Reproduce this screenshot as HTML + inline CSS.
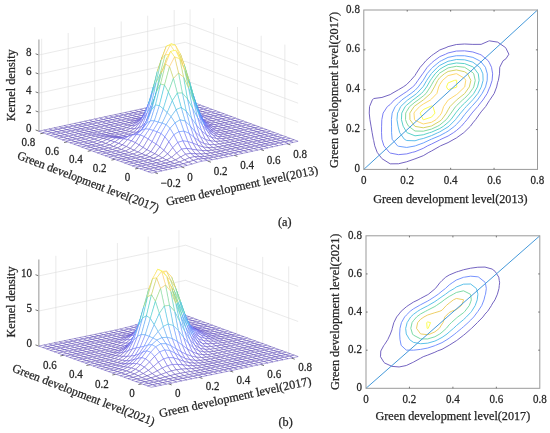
<!DOCTYPE html>
<html><head><meta charset="utf-8"><style>html,body{margin:0;padding:0;background:#fff;overflow:hidden}svg{display:block}</style></head><body>
<svg width="550" height="433" viewBox="0 0 550 433">
<rect width="550" height="433" fill="#fff"/>
<path d="M41.68 130.60L41.68 38.77 M154.58 172.50L41.68 130.60 M68.19 124.83L68.19 33.01 M181.09 166.73L68.19 124.83 M94.69 119.07L94.69 27.25 M207.59 160.97L94.69 119.07 M121.19 113.31L121.19 21.49 M234.09 155.21L121.19 113.31 M147.70 107.55L147.70 15.73 M260.60 149.45L147.70 107.55 M174.20 101.79L174.20 9.97 M287.10 143.69L174.20 101.79 M284.88 136.40L284.88 44.57 M138.58 168.20L284.88 136.40 M261.18 127.60L261.18 35.78 M114.88 159.40L261.18 127.60 M237.47 118.80L237.47 26.98 M91.17 150.60L237.47 118.80 M213.77 110.00L213.77 18.18 M67.47 141.80L213.77 110.00 M190.06 101.20L190.06 9.38 M43.76 133.00L190.06 101.20 M38.90 131.20L185.20 99.40 M185.20 99.40L298.10 141.30 M38.90 112.15L185.20 80.35 M185.20 80.35L298.10 122.25 M38.90 93.10L185.20 61.30 M185.20 61.30L298.10 103.20 M38.90 74.05L185.20 42.25 M185.20 42.25L298.10 84.15 M38.90 55.00L185.20 23.20 M185.20 23.20L298.10 65.10" stroke="#dcdcdc" stroke-width="0.6" fill="none"/>
<path d="M38.90 131.20L35.62 129.98 M38.90 112.15L35.62 110.93 M38.90 93.10L35.62 91.88 M38.90 74.05L35.62 72.83 M38.90 55.00L35.62 53.78 M154.58 172.50L157.86 173.71 M181.09 166.73L184.37 167.95 M207.59 160.97L210.87 162.19 M234.09 155.21L237.38 156.43 M260.60 149.45L263.88 150.67 M287.10 143.69L290.38 144.91 M138.58 168.20L135.16 168.94 M114.88 159.40L111.46 160.14 M91.17 150.60L87.75 151.34 M67.47 141.80L64.05 142.54 M43.76 133.00L40.34 133.75" stroke="#505050" stroke-width="0.8" fill="none"/>
<path d="M38.90 131.20L38.90 39.38" stroke="#b4b4b4" stroke-width="1.4" fill="none"/>
<g fill="#fff" stroke-width="0.45" stroke-linejoin="round"><path d="M184.0 101.9L189.1 100.8L185.2 99.4L180.2 100.5Z" stroke="#513cb1"/><path d="M179.0 103.0L184.0 101.9L180.2 100.5L175.1 101.6Z" stroke="#513cb1"/><path d="M187.9 103.4L193.0 102.3L189.1 100.8L184.0 101.9Z" stroke="#513cb1"/><path d="M174.0 104.1L179.0 103.0L175.1 101.6L170.1 102.7Z" stroke="#513cb1"/><path d="M182.9 104.5L187.9 103.4L184.0 101.9L179.0 103.0Z" stroke="#513cb1"/><path d="M191.8 104.8L196.9 103.7L193.0 102.3L187.9 103.4Z" stroke="#513cb1"/><path d="M168.9 105.2L174.0 104.1L170.1 102.7L165.0 103.8Z" stroke="#513cb1"/><path d="M177.9 105.6L182.9 104.5L179.0 103.0L174.0 104.1Z" stroke="#513cb1"/><path d="M186.8 105.9L191.8 104.8L187.9 103.4L182.9 104.5Z" stroke="#513cb1"/><path d="M195.7 106.3L200.8 105.2L196.9 103.7L191.8 104.8Z" stroke="#513cb1"/><path d="M163.9 106.3L168.9 105.2L165.0 103.8L160.0 104.9Z" stroke="#513cb1"/><path d="M172.8 106.7L177.9 105.6L174.0 104.1L168.9 105.2Z" stroke="#513cb1"/><path d="M181.7 107.0L186.8 105.9L182.9 104.5L177.9 105.6Z" stroke="#513cb1"/><path d="M190.7 107.4L195.7 106.3L191.8 104.8L186.8 105.9Z" stroke="#513cb1"/><path d="M158.8 107.4L163.9 106.3L160.0 104.9L154.9 106.0Z" stroke="#513cb1"/><path d="M199.6 107.7L204.7 106.6L200.8 105.2L195.7 106.3Z" stroke="#513cb1"/><path d="M167.8 107.8L172.8 106.7L168.9 105.2L163.9 106.3Z" stroke="#513cb1"/><path d="M176.7 108.1L181.7 107.0L177.9 105.6L172.8 106.7Z" stroke="#513cb1"/><path d="M185.6 108.5L190.7 107.4L186.8 105.9L181.7 107.0Z" stroke="#513cb1"/><path d="M153.8 108.5L158.8 107.4L154.9 106.0L149.9 107.1Z" stroke="#513cb1"/><path d="M194.6 108.8L199.6 107.7L195.7 106.3L190.7 107.4Z" stroke="#513cb1"/><path d="M162.7 108.8L167.8 107.8L163.9 106.3L158.8 107.4Z" stroke="#513cb1"/><path d="M203.5 109.2L208.6 108.1L204.7 106.6L199.6 107.7Z" stroke="#513cb1"/><path d="M171.7 109.2L176.7 108.1L172.8 106.7L167.8 107.8Z" stroke="#513cb1"/><path d="M180.6 109.5L185.6 108.5L181.7 107.0L176.7 108.1Z" stroke="#513cb1"/><path d="M148.7 109.6L153.8 108.5L149.9 107.1L144.8 108.2Z" stroke="#513cb1"/><path d="M189.5 109.9L194.6 108.8L190.7 107.4L185.6 108.5Z" stroke="#513cb1"/><path d="M157.7 109.9L162.7 108.8L158.8 107.4L153.8 108.5Z" stroke="#513cb1"/><path d="M198.5 110.3L203.5 109.2L199.6 107.7L194.6 108.8Z" stroke="#513cb1"/><path d="M166.6 110.2L171.7 109.2L167.8 107.8L162.7 108.8Z" stroke="#513cb1"/><path d="M207.4 110.6L212.5 109.5L208.6 108.1L203.5 109.2Z" stroke="#513cb1"/><path d="M175.5 110.5L180.6 109.5L176.7 108.1L171.7 109.2Z" stroke="#513cb1"/><path d="M143.7 110.7L148.7 109.6L144.8 108.2L139.8 109.3Z" stroke="#513cb1"/><path d="M184.5 110.9L189.5 109.9L185.6 108.5L180.6 109.5Z" stroke="#513cb1"/><path d="M152.6 111.0L157.7 109.9L153.8 108.5L148.7 109.6Z" stroke="#513cb1"/><path d="M193.4 111.3L198.5 110.3L194.6 108.8L189.5 109.9Z" stroke="#513cb1"/><path d="M161.6 111.2L166.6 110.2L162.7 108.8L157.7 109.9Z" stroke="#513cb1"/><path d="M202.4 111.7L207.4 110.6L203.5 109.2L198.5 110.3Z" stroke="#513cb1"/><path d="M170.5 111.5L175.5 110.5L171.7 109.2L166.6 110.2Z" stroke="#513cb1"/><path d="M138.6 111.8L143.7 110.7L139.8 109.3L134.8 110.4Z" stroke="#513cb1"/><path d="M211.3 112.1L216.3 111.0L212.5 109.5L207.4 110.6Z" stroke="#513cb1"/><path d="M179.4 111.8L184.5 110.9L180.6 109.5L175.5 110.5Z" stroke="#513cb1"/><path d="M147.6 112.1L152.6 111.0L148.7 109.6L143.7 110.7Z" stroke="#513cb1"/><path d="M188.4 112.3L193.4 111.3L189.5 109.9L184.5 110.9Z" stroke="#513cb1"/><path d="M156.5 112.2L161.6 111.2L157.7 109.9L152.6 111.0Z" stroke="#513cb1"/><path d="M197.3 112.8L202.4 111.7L198.5 110.3L193.4 111.3Z" stroke="#513cb1"/><path d="M165.5 112.2L170.5 111.5L166.6 110.2L161.6 111.2Z" stroke="#513cb1"/><path d="M133.6 112.9L138.6 111.8L134.8 110.4L129.7 111.5Z" stroke="#513cb1"/><path d="M206.3 113.1L211.3 112.1L207.4 110.6L202.4 111.7Z" stroke="#513cb1"/><path d="M174.4 112.2L179.4 111.8L175.5 110.5L170.5 111.5Z" stroke="#533fbc"/><path d="M142.5 113.2L147.6 112.1L143.7 110.7L138.6 111.8Z" stroke="#513cb1"/><path d="M215.2 113.5L220.2 112.4L216.3 111.0L211.3 112.1Z" stroke="#513cb1"/><path d="M183.3 112.7L188.4 112.3L184.5 110.9L179.4 111.8Z" stroke="#533fbc"/><path d="M151.5 113.2L156.5 112.2L152.6 111.0L147.6 112.1Z" stroke="#513cb1"/><path d="M192.3 113.5L197.3 112.8L193.4 111.3L188.4 112.3Z" stroke="#513cb1"/><path d="M160.4 112.7L165.5 112.2L161.6 111.2L156.5 112.2Z" stroke="#533fbc"/><path d="M128.6 114.0L133.6 112.9L129.7 111.5L124.7 112.6Z" stroke="#513cb1"/><path d="M201.2 114.1L206.3 113.1L202.4 111.7L197.3 112.8Z" stroke="#513cb1"/><path d="M169.4 111.5L174.4 112.2L170.5 111.5L165.5 112.2Z" stroke="none"/><path d="M165.5 112.2L169.4 111.5L174.4 112.2" stroke="#5543c6" fill="none"/><path d="M174.4 112.2L170.5 111.5" stroke="#533fbc"/><path d="M165.5 112.2L170.5 111.5" stroke="#513cb1"/><path d="M137.5 114.3L142.5 113.2L138.6 111.8L133.6 112.9Z" stroke="#513cb1"/><path d="M210.1 114.6L215.2 113.5L211.3 112.1L206.3 113.1Z" stroke="#513cb1"/><path d="M178.3 110.9L183.3 112.7L179.4 111.8L174.4 112.2Z" stroke="none"/><path d="M174.4 112.2L178.3 110.9L183.3 112.7" stroke="#5647d0" fill="none"/><path d="M183.3 112.7L179.4 111.8" stroke="#533fbc"/><path d="M174.4 112.2L179.4 111.8" stroke="#533fbc"/><path d="M146.4 114.3L151.5 113.2L147.6 112.1L142.5 113.2Z" stroke="#513cb1"/><path d="M219.1 114.9L224.1 113.8L220.2 112.4L215.2 113.5Z" stroke="#513cb1"/><path d="M187.2 112.2L192.3 113.5L188.4 112.3L183.3 112.7Z" stroke="none"/><path d="M183.3 112.7L187.2 112.2L192.3 113.5" stroke="#5543c6" fill="none"/><path d="M192.3 113.5L188.4 112.3" stroke="#513cb1"/><path d="M183.3 112.7L188.4 112.3" stroke="#533fbc"/><path d="M155.4 113.6L160.4 112.7L156.5 112.2L151.5 113.2Z" stroke="#533fbc"/><path d="M123.5 115.1L128.6 114.0L124.7 112.6L119.6 113.7Z" stroke="#513cb1"/><path d="M196.2 114.3L201.2 114.1L197.3 112.8L192.3 113.5Z" stroke="#533fbc"/><path d="M164.3 111.0L169.4 111.5L165.5 112.2L160.4 112.7Z" stroke="none"/><path d="M160.4 112.7L164.3 111.0L169.4 111.5" stroke="#5647d0" fill="none"/><path d="M169.4 111.5L165.5 112.2" stroke="#5543c6"/><path d="M160.4 112.7L165.5 112.2" stroke="#533fbc"/><path d="M132.4 115.4L137.5 114.3L133.6 112.9L128.6 114.0Z" stroke="#513cb1"/><path d="M205.1 115.5L210.1 114.6L206.3 113.1L201.2 114.1Z" stroke="#513cb1"/><path d="M173.2 107.2L178.3 110.9L174.4 112.2L169.4 111.5Z" stroke="none"/><path d="M169.4 111.5L173.2 107.2L178.3 110.9" stroke="#5954e8" fill="none"/><path d="M178.3 110.9L174.4 112.2" stroke="#5647d0"/><path d="M169.4 111.5L174.4 112.2" stroke="#5543c6"/><path d="M141.4 115.5L146.4 114.3L142.5 113.2L137.5 114.3Z" stroke="#513cb1"/><path d="M214.0 116.0L219.1 114.9L215.2 113.5L210.1 114.6Z" stroke="#513cb1"/><path d="M182.2 106.8L187.2 112.2L183.3 112.7L178.3 110.9Z" stroke="none"/><path d="M178.3 110.9L182.2 106.8L187.2 112.2" stroke="#5954e8" fill="none"/><path d="M187.2 112.2L183.3 112.7" stroke="#5543c6"/><path d="M178.3 110.9L183.3 112.7" stroke="#5647d0"/><path d="M150.3 115.0L155.4 113.6L151.5 113.2L146.4 114.3Z" stroke="#533fbc"/><path d="M118.5 116.2L123.5 115.1L119.6 113.7L114.6 114.8Z" stroke="#513cb1"/><path d="M223.0 116.4L228.0 115.3L224.1 113.8L219.1 114.9Z" stroke="#513cb1"/><path d="M191.1 111.2L196.2 114.3L192.3 113.5L187.2 112.2Z" stroke="none"/><path d="M187.2 112.2L191.1 111.2L196.2 114.3" stroke="#584bd9" fill="none"/><path d="M196.2 114.3L192.3 113.5" stroke="#533fbc"/><path d="M187.2 112.2L192.3 113.5" stroke="#5543c6"/><path d="M159.3 112.5L164.3 111.0L160.4 112.7L155.4 113.6Z" stroke="none"/><path d="M155.4 113.6L159.3 112.5L164.3 111.0" stroke="#5647d0" fill="none"/><path d="M164.3 111.0L160.4 112.7" stroke="#5647d0"/><path d="M155.4 113.6L160.4 112.7" stroke="#533fbc"/><path d="M127.4 116.5L132.4 115.4L128.6 114.0L123.5 115.1Z" stroke="#513cb1"/><path d="M200.1 115.3L205.1 115.5L201.2 114.1L196.2 114.3Z" stroke="#533fbc"/><path d="M168.2 107.1L173.2 107.2L169.4 111.5L164.3 111.0Z" stroke="none"/><path d="M164.3 111.0L168.2 107.1L173.2 107.2" stroke="#5a59ed" fill="none"/><path d="M173.2 107.2L169.4 111.5" stroke="#5954e8"/><path d="M164.3 111.0L169.4 111.5" stroke="#5647d0"/><path d="M136.3 116.7L141.4 115.5L137.5 114.3L132.4 115.4Z" stroke="#513cb1"/><path d="M209.0 116.9L214.0 116.0L210.1 114.6L205.1 115.5Z" stroke="#513cb1"/><path d="M177.1 102.5L182.2 106.8L178.3 110.9L173.2 107.2Z" stroke="none"/><path d="M173.2 107.2L177.1 102.5L182.2 106.8" stroke="#5a69f9" fill="none"/><path d="M182.2 106.8L178.3 110.9" stroke="#5954e8"/><path d="M173.2 107.2L178.3 110.9" stroke="#5954e8"/><path d="M145.3 116.3L150.3 115.0L146.4 114.3L141.4 115.5Z" stroke="#533fbc"/><path d="M113.4 117.3L118.5 116.2L114.6 114.8L109.5 115.8Z" stroke="#513cb1"/><path d="M217.9 117.5L223.0 116.4L219.1 114.9L214.0 116.0Z" stroke="#513cb1"/><path d="M186.1 105.6L191.1 111.2L187.2 112.2L182.2 106.8Z" stroke="none"/><path d="M182.2 106.8L186.1 105.6L191.1 111.2" stroke="#5a5ef2" fill="none"/><path d="M191.1 111.2L187.2 112.2" stroke="#584bd9"/><path d="M182.2 106.8L187.2 112.2" stroke="#5954e8"/><path d="M154.2 114.6L159.3 112.5L155.4 113.6L150.3 115.0Z" stroke="none"/><path d="M150.3 115.0L154.2 114.6L159.3 112.5" stroke="#5543c6" fill="none"/><path d="M159.3 112.5L155.4 113.6" stroke="#5647d0"/><path d="M150.3 115.0L155.4 113.6" stroke="#533fbc"/><path d="M122.4 117.6L127.4 116.5L123.5 115.1L118.5 116.2Z" stroke="#513cb1"/><path d="M226.9 117.8L231.9 116.7L228.0 115.3L223.0 116.4Z" stroke="#513cb1"/><path d="M195.0 112.9L200.1 115.3L196.2 114.3L191.1 111.2Z" stroke="none"/><path d="M191.1 111.2L195.0 112.9L200.1 115.3" stroke="#5647d0" fill="none"/><path d="M200.1 115.3L196.2 114.3" stroke="#533fbc"/><path d="M191.1 111.2L196.2 114.3" stroke="#584bd9"/><path d="M163.2 110.5L168.2 107.1L164.3 111.0L159.3 112.5Z" stroke="none"/><path d="M159.3 112.5L163.2 110.5L168.2 107.1" stroke="#594fe1" fill="none"/><path d="M168.2 107.1L164.3 111.0" stroke="#5a59ed"/><path d="M159.3 112.5L164.3 111.0" stroke="#5647d0"/><path d="M131.3 117.8L136.3 116.7L132.4 115.4L127.4 116.5Z" stroke="#513cb1"/><path d="M204.0 117.2L209.0 116.9L205.1 115.5L200.1 115.3Z" stroke="#533fbc"/><path d="M172.1 105.1L177.1 102.5L173.2 107.2L168.2 107.1Z" stroke="none"/><path d="M168.2 107.1L172.1 105.1L177.1 102.5" stroke="#5a64f5" fill="none"/><path d="M177.1 102.5L173.2 107.2" stroke="#5a69f9"/><path d="M168.2 107.1L173.2 107.2" stroke="#5a59ed"/><path d="M140.2 117.6L145.3 116.3L141.4 115.5L136.3 116.7Z" stroke="#533fbc"/><path d="M108.4 118.4L113.4 117.3L109.5 115.8L104.5 116.9Z" stroke="#513cb1"/><path d="M212.9 118.5L217.9 117.5L214.0 116.0L209.0 116.9Z" stroke="#513cb1"/><path d="M181.0 104.4L186.1 105.6L182.2 106.8L177.1 102.5Z" stroke="#5a69f9"/><path d="M149.2 116.0L154.2 114.6L150.3 115.0L145.3 116.3Z" stroke="#5543c6"/><path d="M117.3 118.7L122.4 117.6L118.5 116.2L113.4 117.3Z" stroke="#513cb1"/><path d="M221.8 118.9L226.9 117.8L223.0 116.4L217.9 117.5Z" stroke="#513cb1"/><path d="M190.0 110.4L195.0 112.9L191.1 111.2L186.1 105.6Z" stroke="none"/><path d="M186.1 105.6L190.0 110.4L195.0 112.9" stroke="#5954e8" fill="none"/><path d="M195.0 112.9L191.1 111.2" stroke="#5647d0"/><path d="M186.1 105.6L191.1 111.2" stroke="#5a5ef2"/><path d="M158.1 112.6L163.2 110.5L159.3 112.5L154.2 114.6Z" stroke="none"/><path d="M154.2 114.6L158.1 112.6L163.2 110.5" stroke="#584bd9" fill="none"/><path d="M163.2 110.5L159.3 112.5" stroke="#594fe1"/><path d="M154.2 114.6L159.3 112.5" stroke="#5543c6"/><path d="M126.3 119.0L131.3 117.8L127.4 116.5L122.4 117.6Z" stroke="#513cb1"/><path d="M230.8 119.3L235.8 118.2L231.9 116.7L226.9 117.8Z" stroke="#513cb1"/><path d="M198.9 116.6L204.0 117.2L200.1 115.3L195.0 112.9Z" stroke="none"/><path d="M195.0 112.9L198.9 116.6L204.0 117.2" stroke="#5543c6" fill="none"/><path d="M204.0 117.2L200.1 115.3" stroke="#533fbc"/><path d="M195.0 112.9L200.1 115.3" stroke="#5647d0"/><path d="M167.0 107.8L172.1 105.1L168.2 107.1L163.2 110.5Z" stroke="none"/><path d="M163.2 110.5L167.0 107.8L172.1 105.1" stroke="#5a5ef2" fill="none"/><path d="M172.1 105.1L168.2 107.1" stroke="#5a64f5"/><path d="M163.2 110.5L168.2 107.1" stroke="#594fe1"/><path d="M135.2 118.9L140.2 117.6L136.3 116.7L131.3 117.8Z" stroke="#513cb1"/><path d="M103.3 119.5L108.4 118.4L104.5 116.9L99.4 118.0Z" stroke="#513cb1"/><path d="M207.8 119.2L212.9 118.5L209.0 116.9L204.0 117.2Z" stroke="#513cb1"/><path d="M176.0 105.1L181.0 104.4L177.1 102.5L172.1 105.1Z" stroke="#5a69f9"/><path d="M144.1 117.5L149.2 116.0L145.3 116.3L140.2 117.6Z" stroke="#5543c6"/><path d="M112.3 119.8L117.3 118.7L113.4 117.3L108.4 118.4Z" stroke="#513cb1"/><path d="M216.8 120.0L221.8 118.9L217.9 117.5L212.9 118.5Z" stroke="#513cb1"/><path d="M184.9 108.7L190.0 110.4L186.1 105.6L181.0 104.4Z" stroke="none"/><path d="M181.0 104.4L184.9 108.7L190.0 110.4" stroke="#5a5ef2" fill="none"/><path d="M190.0 110.4L186.1 105.6" stroke="#5954e8"/><path d="M181.0 104.4L186.1 105.6" stroke="#5a69f9"/><path d="M153.1 113.7L158.1 112.6L154.2 114.6L149.2 116.0Z" stroke="none"/><path d="M149.2 116.0L153.1 113.7L158.1 112.6" stroke="#584bd9" fill="none"/><path d="M158.1 112.6L154.2 114.6" stroke="#584bd9"/><path d="M149.2 116.0L154.2 114.6" stroke="#5543c6"/><path d="M121.2 120.2L126.3 119.0L122.4 117.6L117.3 118.7Z" stroke="#513cb1"/><path d="M225.7 120.4L230.8 119.3L226.9 117.8L221.8 118.9Z" stroke="#513cb1"/><path d="M193.9 115.2L198.9 116.6L195.0 112.9L190.0 110.4Z" stroke="none"/><path d="M190.0 110.4L193.9 115.2L198.9 116.6" stroke="#584bd9" fill="none"/><path d="M198.9 116.6L195.0 112.9" stroke="#5543c6"/><path d="M190.0 110.4L195.0 112.9" stroke="#5954e8"/><path d="M162.0 107.9L167.0 107.8L163.2 110.5L158.1 112.6Z" stroke="none"/><path d="M158.1 112.6L162.0 107.9L167.0 107.8" stroke="#5a64f5" fill="none"/><path d="M167.0 107.8L163.2 110.5" stroke="#5a5ef2"/><path d="M158.1 112.6L163.2 110.5" stroke="#584bd9"/><path d="M130.1 120.2L135.2 118.9L131.3 117.8L126.3 119.0Z" stroke="#513cb1"/><path d="M234.7 120.7L239.7 119.6L235.8 118.2L230.8 119.3Z" stroke="#513cb1"/><path d="M98.3 120.6L103.3 119.5L99.4 118.0L94.4 119.1Z" stroke="#513cb1"/><path d="M202.8 119.4L207.8 119.2L204.0 117.2L198.9 116.6Z" stroke="none"/><path d="M198.9 116.6L202.8 119.4L207.8 119.2" stroke="#533fbc" fill="none"/><path d="M207.8 119.2L204.0 117.2" stroke="#513cb1"/><path d="M198.9 116.6L204.0 117.2" stroke="#5543c6"/><path d="M170.9 102.7L176.0 105.1L172.1 105.1L167.0 107.8Z" stroke="none"/><path d="M167.0 107.8L170.9 102.7L176.0 105.1" stroke="#5773fd" fill="none"/><path d="M176.0 105.1L172.1 105.1" stroke="#5a69f9"/><path d="M167.0 107.8L172.1 105.1" stroke="#5a5ef2"/><path d="M139.1 119.2L144.1 117.5L140.2 117.6L135.2 118.9Z" stroke="none"/><path d="M135.2 118.9L139.1 119.2L144.1 117.5" stroke="#533fbc" fill="none"/><path d="M144.1 117.5L140.2 117.6" stroke="#5543c6"/><path d="M135.2 118.9L140.2 117.6" stroke="#513cb1"/><path d="M107.2 120.9L112.3 119.8L108.4 118.4L103.3 119.5Z" stroke="#513cb1"/><path d="M211.7 120.9L216.8 120.0L212.9 118.5L207.8 119.2Z" stroke="#513cb1"/><path d="M179.9 103.4L184.9 108.7L181.0 104.4L176.0 105.1Z" stroke="none"/><path d="M176.0 105.1L179.9 103.4L184.9 108.7" stroke="#5773fd" fill="none"/><path d="M184.9 108.7L181.0 104.4" stroke="#5a5ef2"/><path d="M176.0 105.1L181.0 104.4" stroke="#5a69f9"/><path d="M148.0 115.4L153.1 113.7L149.2 116.0L144.1 117.5Z" stroke="none"/><path d="M144.1 117.5L148.0 115.4L153.1 113.7" stroke="#584bd9" fill="none"/><path d="M153.1 113.7L149.2 116.0" stroke="#584bd9"/><path d="M144.1 117.5L149.2 116.0" stroke="#5543c6"/><path d="M116.2 121.3L121.2 120.2L117.3 118.7L112.3 119.8Z" stroke="#513cb1"/><path d="M220.7 121.5L225.7 120.4L221.8 118.9L216.8 120.0Z" stroke="#513cb1"/><path d="M188.8 110.6L193.9 115.2L190.0 110.4L184.9 108.7Z" stroke="none"/><path d="M184.9 108.7L188.8 110.6L193.9 115.2" stroke="#5a5ef2" fill="none"/><path d="M193.9 115.2L190.0 110.4" stroke="#584bd9"/><path d="M184.9 108.7L190.0 110.4" stroke="#5a5ef2"/><path d="M157.0 108.1L162.0 107.9L158.1 112.6L153.1 113.7Z" stroke="none"/><path d="M153.1 113.7L157.0 108.1L162.0 107.9" stroke="#5a64f5" fill="none"/><path d="M162.0 107.9L158.1 112.6" stroke="#5a64f5"/><path d="M153.1 113.7L158.1 112.6" stroke="#584bd9"/><path d="M125.1 121.5L130.1 120.2L126.3 119.0L121.2 120.2Z" stroke="#513cb1"/><path d="M229.6 121.8L234.7 120.7L230.8 119.3L225.7 120.4Z" stroke="#513cb1"/><path d="M93.2 121.7L98.3 120.6L94.4 119.1L89.3 120.2Z" stroke="#513cb1"/><path d="M197.8 117.8L202.8 119.4L198.9 116.6L193.9 115.2Z" stroke="none"/><path d="M193.9 115.2L197.8 117.8L202.8 119.4" stroke="#5647d0" fill="none"/><path d="M202.8 119.4L198.9 116.6" stroke="#533fbc"/><path d="M193.9 115.2L198.9 116.6" stroke="#584bd9"/><path d="M165.9 99.6L170.9 102.7L167.0 107.8L162.0 107.9Z" stroke="none"/><path d="M162.0 107.9L165.9 99.6L170.9 102.7" stroke="#4c83fe" fill="none"/><path d="M170.9 102.7L167.0 107.8" stroke="#5773fd"/><path d="M162.0 107.9L167.0 107.8" stroke="#5a64f5"/><path d="M134.0 121.0L139.1 119.2L135.2 118.9L130.1 120.2Z" stroke="#533fbc"/><path d="M238.6 122.2L243.6 121.1L239.7 119.6L234.7 120.7Z" stroke="#513cb1"/><path d="M102.2 122.0L107.2 120.9L103.3 119.5L98.3 120.6Z" stroke="#513cb1"/><path d="M206.7 121.3L211.7 120.9L207.8 119.2L202.8 119.4Z" stroke="#533fbc"/><path d="M174.8 95.3L179.9 103.4L176.0 105.1L170.9 102.7Z" stroke="none"/><path d="M170.9 102.7L174.8 95.3L179.9 103.4" stroke="#4293f8" fill="none"/><path d="M179.9 103.4L176.0 105.1" stroke="#5773fd"/><path d="M170.9 102.7L176.0 105.1" stroke="#5773fd"/><path d="M143.0 117.8L148.0 115.4L144.1 117.5L139.1 119.2Z" stroke="none"/><path d="M139.1 119.2L143.0 117.8L148.0 115.4" stroke="#5647d0" fill="none"/><path d="M148.0 115.4L144.1 117.5" stroke="#584bd9"/><path d="M139.1 119.2L144.1 117.5" stroke="#533fbc"/><path d="M111.1 122.4L116.2 121.3L112.3 119.8L107.2 120.9Z" stroke="#513cb1"/><path d="M215.6 122.5L220.7 121.5L216.8 120.0L211.7 120.9Z" stroke="#513cb1"/><path d="M183.8 100.8L188.8 110.6L184.9 108.7L179.9 103.4Z" stroke="none"/><path d="M179.9 103.4L183.8 100.8L188.8 110.6" stroke="#4c83fe" fill="none"/><path d="M188.8 110.6L184.9 108.7" stroke="#5a5ef2"/><path d="M179.9 103.4L184.9 108.7" stroke="#5773fd"/><path d="M151.9 109.8L157.0 108.1L153.1 113.7L148.0 115.4Z" stroke="none"/><path d="M148.0 115.4L151.9 109.8L157.0 108.1" stroke="#5a64f5" fill="none"/><path d="M157.0 108.1L153.1 113.7" stroke="#5a64f5"/><path d="M148.0 115.4L153.1 113.7" stroke="#584bd9"/><path d="M120.1 122.7L125.1 121.5L121.2 120.2L116.2 121.3Z" stroke="#513cb1"/><path d="M224.6 122.9L229.6 121.8L225.7 120.4L220.7 121.5Z" stroke="#513cb1"/><path d="M88.2 122.8L93.2 121.7L89.3 120.2L84.3 121.3Z" stroke="#513cb1"/><path d="M192.7 111.9L197.8 117.8L193.9 115.2L188.8 110.6Z" stroke="none"/><path d="M188.8 110.6L192.7 111.9L197.8 117.8" stroke="#5a5ef2" fill="none"/><path d="M197.8 117.8L193.9 115.2" stroke="#5647d0"/><path d="M188.8 110.6L193.9 115.2" stroke="#5a5ef2"/><path d="M160.9 98.1L165.9 99.6L162.0 107.9L157.0 108.1Z" stroke="none"/><path d="M157.0 108.1L160.9 98.1L165.9 99.6" stroke="#448efa" fill="none"/><path d="M165.9 99.6L162.0 107.9" stroke="#4c83fe"/><path d="M157.0 108.1L162.0 107.9" stroke="#5a64f5"/><path d="M129.0 122.7L134.0 121.0L130.1 120.2L125.1 121.5Z" stroke="#513cb1"/><path d="M233.5 123.3L238.6 122.2L234.7 120.7L229.6 121.8Z" stroke="#513cb1"/><path d="M97.1 123.1L102.2 122.0L98.3 120.6L93.2 121.7Z" stroke="#513cb1"/><path d="M201.6 119.9L206.7 121.3L202.8 119.4L197.8 117.8Z" stroke="none"/><path d="M197.8 117.8L201.6 119.9L206.7 121.3" stroke="#5543c6" fill="none"/><path d="M206.7 121.3L202.8 119.4" stroke="#533fbc"/><path d="M197.8 117.8L202.8 119.4" stroke="#5647d0"/><path d="M169.8 88.2L174.8 95.3L170.9 102.7L165.9 99.6Z" stroke="none"/><path d="M165.9 99.6L169.8 88.2L174.8 95.3" stroke="#36aee5" fill="none"/><path d="M174.8 95.3L170.9 102.7" stroke="#4293f8"/><path d="M165.9 99.6L170.9 102.7" stroke="#4c83fe"/><path d="M137.9 120.7L143.0 117.8L139.1 119.2L134.0 121.0Z" stroke="none"/><path d="M134.0 121.0L137.9 120.7L143.0 117.8" stroke="#5543c6" fill="none"/><path d="M143.0 117.8L139.1 119.2" stroke="#5647d0"/><path d="M134.0 121.0L139.1 119.2" stroke="#533fbc"/><path d="M242.4 123.6L247.5 122.5L243.6 121.1L238.6 122.2Z" stroke="#513cb1"/><path d="M106.1 123.5L111.1 122.4L107.2 120.9L102.2 122.0Z" stroke="#513cb1"/><path d="M210.6 123.1L215.6 122.5L211.7 120.9L206.7 121.3Z" stroke="#513cb1"/><path d="M178.7 87.9L183.8 100.8L179.9 103.4L174.8 95.3Z" stroke="none"/><path d="M174.8 95.3L178.7 87.9L183.8 100.8" stroke="#33b2e3" fill="none"/><path d="M183.8 100.8L179.9 103.4" stroke="#4c83fe"/><path d="M174.8 95.3L179.9 103.4" stroke="#4293f8"/><path d="M146.9 113.3L151.9 109.8L148.0 115.4L143.0 117.8Z" stroke="none"/><path d="M143.0 117.8L146.9 113.3L151.9 109.8" stroke="#5a59ed" fill="none"/><path d="M151.9 109.8L148.0 115.4" stroke="#5a64f5"/><path d="M143.0 117.8L148.0 115.4" stroke="#5647d0"/><path d="M115.0 123.8L120.1 122.7L116.2 121.3L111.1 122.4Z" stroke="#513cb1"/><path d="M219.5 123.9L224.6 122.9L220.7 121.5L215.6 122.5Z" stroke="#513cb1"/><path d="M83.2 123.9L88.2 122.8L84.3 121.3L79.3 122.4Z" stroke="#513cb1"/><path d="M187.7 99.9L192.7 111.9L188.8 110.6L183.8 100.8Z" stroke="none"/><path d="M183.8 100.8L187.7 99.9L192.7 111.9" stroke="#448efa" fill="none"/><path d="M192.7 111.9L188.8 110.6" stroke="#5a5ef2"/><path d="M183.8 100.8L188.8 110.6" stroke="#4c83fe"/><path d="M155.8 99.4L160.9 98.1L157.0 108.1L151.9 109.8Z" stroke="none"/><path d="M151.9 109.8L155.8 99.4L160.9 98.1" stroke="#448efa" fill="none"/><path d="M160.9 98.1L157.0 108.1" stroke="#448efa"/><path d="M151.9 109.8L157.0 108.1" stroke="#5a64f5"/><path d="M123.9 124.0L129.0 122.7L125.1 121.5L120.1 122.7Z" stroke="#513cb1"/><path d="M228.5 124.4L233.5 123.3L229.6 121.8L224.6 122.9Z" stroke="#513cb1"/><path d="M92.1 124.2L97.1 123.1L93.2 121.7L88.2 122.8Z" stroke="#513cb1"/><path d="M196.6 114.3L201.6 119.9L197.8 117.8L192.7 111.9Z" stroke="none"/><path d="M192.7 111.9L196.6 114.3L201.6 119.9" stroke="#5a59ed" fill="none"/><path d="M201.6 119.9L197.8 117.8" stroke="#5543c6"/><path d="M192.7 111.9L197.8 117.8" stroke="#5a5ef2"/><path d="M164.7 84.2L169.8 88.2L165.9 99.6L160.9 98.1Z" stroke="none"/><path d="M160.9 98.1L164.7 84.2L169.8 88.2" stroke="#20bcd5" fill="none"/><path d="M169.8 88.2L165.9 99.6" stroke="#36aee5"/><path d="M160.9 98.1L165.9 99.6" stroke="#448efa"/><path d="M132.9 123.2L137.9 120.7L134.0 121.0L129.0 122.7Z" stroke="none"/><path d="M129.0 122.7L132.9 123.2L137.9 120.7" stroke="#533fbc" fill="none"/><path d="M137.9 120.7L134.0 121.0" stroke="#5543c6"/><path d="M129.0 122.7L134.0 121.0" stroke="#513cb1"/><path d="M237.4 124.7L242.4 123.6L238.6 122.2L233.5 123.3Z" stroke="#513cb1"/><path d="M101.0 124.6L106.1 123.5L102.2 122.0L97.1 123.1Z" stroke="#513cb1"/><path d="M205.5 122.2L210.6 123.1L206.7 121.3L201.6 119.9Z" stroke="none"/><path d="M201.6 119.9L205.5 122.2L210.6 123.1" stroke="#5543c6" fill="none"/><path d="M210.6 123.1L206.7 121.3" stroke="#513cb1"/><path d="M201.6 119.9L206.7 121.3" stroke="#5543c6"/><path d="M173.7 76.3L178.7 87.9L174.8 95.3L169.8 88.2Z" stroke="none"/><path d="M169.8 88.2L173.7 76.3L178.7 87.9" stroke="#3ac8b7" fill="none"/><path d="M178.7 87.9L174.8 95.3" stroke="#33b2e3"/><path d="M169.8 88.2L174.8 95.3" stroke="#36aee5"/><path d="M141.8 118.1L146.9 113.3L143.0 117.8L137.9 120.7Z" stroke="none"/><path d="M137.9 120.7L141.8 118.1L146.9 113.3" stroke="#594fe1" fill="none"/><path d="M146.9 113.3L143.0 117.8" stroke="#5a59ed"/><path d="M137.9 120.7L143.0 117.8" stroke="#5543c6"/><path d="M246.3 125.1L251.4 124.0L247.5 122.5L242.4 123.6Z" stroke="#513cb1"/><path d="M110.0 124.9L115.0 123.8L111.1 122.4L106.1 123.5Z" stroke="#513cb1"/><path d="M214.5 124.7L219.5 123.9L215.6 122.5L210.6 123.1Z" stroke="#513cb1"/><path d="M78.1 125.0L83.2 123.9L79.3 122.4L74.2 123.5Z" stroke="#513cb1"/><path d="M182.6 83.4L187.7 99.9L183.8 100.8L178.7 87.9Z" stroke="none"/><path d="M178.7 87.9L182.6 83.4L187.7 99.9" stroke="#1abfcf" fill="none"/><path d="M187.7 99.9L183.8 100.8" stroke="#448efa"/><path d="M178.7 87.9L183.8 100.8" stroke="#33b2e3"/><path d="M150.8 104.2L155.8 99.4L151.9 109.8L146.9 113.3Z" stroke="none"/><path d="M146.9 113.3L150.8 104.2L155.8 99.4" stroke="#517eff" fill="none"/><path d="M155.8 99.4L151.9 109.8" stroke="#448efa"/><path d="M146.9 113.3L151.9 109.8" stroke="#5a59ed"/><path d="M118.9 125.2L123.9 124.0L120.1 122.7L115.0 123.8Z" stroke="#513cb1"/><path d="M223.4 125.4L228.5 124.4L224.6 122.9L219.5 123.9Z" stroke="#513cb1"/><path d="M87.0 125.3L92.1 124.2L88.2 122.8L83.2 123.9Z" stroke="#513cb1"/><path d="M191.6 102.1L196.6 114.3L192.7 111.9L187.7 99.9Z" stroke="none"/><path d="M187.7 99.9L191.6 102.1L196.6 114.3" stroke="#4789fd" fill="none"/><path d="M196.6 114.3L192.7 111.9" stroke="#5a59ed"/><path d="M187.7 99.9L192.7 111.9" stroke="#448efa"/><path d="M159.7 84.4L164.7 84.2L160.9 98.1L155.8 99.4Z" stroke="none"/><path d="M155.8 99.4L159.7 84.4L164.7 84.2" stroke="#20bcd5" fill="none"/><path d="M164.7 84.2L160.9 98.1" stroke="#20bcd5"/><path d="M155.8 99.4L160.9 98.1" stroke="#448efa"/><path d="M127.8 125.2L132.9 123.2L129.0 122.7L123.9 124.0Z" stroke="#513cb1"/><path d="M232.4 125.8L237.4 124.7L233.5 123.3L228.5 124.4Z" stroke="#513cb1"/><path d="M96.0 125.7L101.0 124.6L97.1 123.1L92.1 124.2Z" stroke="#513cb1"/><path d="M200.5 117.8L205.5 122.2L201.6 119.9L196.6 114.3Z" stroke="none"/><path d="M196.6 114.3L200.5 117.8L205.5 122.2" stroke="#5954e8" fill="none"/><path d="M205.5 122.2L201.6 119.9" stroke="#5543c6"/><path d="M196.6 114.3L201.6 119.9" stroke="#5a59ed"/><path d="M168.6 68.8L173.7 76.3L169.8 88.2L164.7 84.2Z" stroke="none"/><path d="M164.7 84.2L168.6 68.8L173.7 76.3" stroke="#68d187" fill="none"/><path d="M173.7 76.3L169.8 88.2" stroke="#3ac8b7"/><path d="M164.7 84.2L169.8 88.2" stroke="#20bcd5"/><path d="M136.8 122.5L141.8 118.1L137.9 120.7L132.9 123.2Z" stroke="none"/><path d="M132.9 123.2L136.8 122.5L141.8 118.1" stroke="#5543c6" fill="none"/><path d="M141.8 118.1L137.9 120.7" stroke="#594fe1"/><path d="M132.9 123.2L137.9 120.7" stroke="#533fbc"/><path d="M241.3 126.2L246.3 125.1L242.4 123.6L237.4 124.7Z" stroke="#513cb1"/><path d="M104.9 126.0L110.0 124.9L106.1 123.5L101.0 124.6Z" stroke="#513cb1"/><path d="M209.4 124.5L214.5 124.7L210.6 123.1L205.5 122.2Z" stroke="none"/><path d="M205.5 122.2L209.4 124.5L214.5 124.7" stroke="#533fbc" fill="none"/><path d="M214.5 124.7L210.6 123.1" stroke="#513cb1"/><path d="M205.5 122.2L210.6 123.1" stroke="#5543c6"/><path d="M73.1 126.1L78.1 125.0L74.2 123.5L69.2 124.6Z" stroke="#513cb1"/><path d="M177.6 67.3L182.6 83.4L178.7 87.9L173.7 76.3Z" stroke="none"/><path d="M173.7 76.3L177.6 67.3L182.6 83.4" stroke="#73d27d" fill="none"/><path d="M182.6 83.4L178.7 87.9" stroke="#1abfcf"/><path d="M173.7 76.3L178.7 87.9" stroke="#3ac8b7"/><path d="M145.7 111.8L150.8 104.2L146.9 113.3L141.8 118.1Z" stroke="none"/><path d="M141.8 118.1L145.7 111.8L150.8 104.2" stroke="#5a69f9" fill="none"/><path d="M150.8 104.2L146.9 113.3" stroke="#517eff"/><path d="M141.8 118.1L146.9 113.3" stroke="#594fe1"/><path d="M250.2 126.5L255.3 125.4L251.4 124.0L246.3 125.1Z" stroke="#513cb1"/><path d="M113.9 126.4L118.9 125.2L115.0 123.8L110.0 124.9Z" stroke="#513cb1"/><path d="M218.4 126.4L223.4 125.4L219.5 123.9L214.5 124.7Z" stroke="#513cb1"/><path d="M82.0 126.4L87.0 125.3L83.2 123.9L78.1 125.0Z" stroke="#513cb1"/><path d="M186.5 83.9L191.6 102.1L187.7 99.9L182.6 83.4Z" stroke="none"/><path d="M182.6 83.4L186.5 83.9L191.6 102.1" stroke="#1abfcf" fill="none"/><path d="M191.6 102.1L187.7 99.9" stroke="#4789fd"/><path d="M182.6 83.4L187.7 99.9" stroke="#1abfcf"/><path d="M154.7 90.1L159.7 84.4L155.8 99.4L150.8 104.2Z" stroke="none"/><path d="M150.8 104.2L154.7 90.1L159.7 84.4" stroke="#33b2e3" fill="none"/><path d="M159.7 84.4L155.8 99.4" stroke="#20bcd5"/><path d="M150.8 104.2L155.8 99.4" stroke="#517eff"/><path d="M122.8 126.6L127.8 125.2L123.9 124.0L118.9 125.2Z" stroke="#513cb1"/><path d="M227.3 126.9L232.4 125.8L228.5 124.4L223.4 125.4Z" stroke="#513cb1"/><path d="M90.9 126.8L96.0 125.7L92.1 124.2L87.0 125.3Z" stroke="#513cb1"/><path d="M195.5 107.0L200.5 117.8L196.6 114.3L191.6 102.1Z" stroke="none"/><path d="M191.6 102.1L195.5 107.0L200.5 117.8" stroke="#517eff" fill="none"/><path d="M200.5 117.8L196.6 114.3" stroke="#5954e8"/><path d="M191.6 102.1L196.6 114.3" stroke="#4789fd"/><path d="M163.6 67.0L168.6 68.8L164.7 84.2L159.7 84.4Z" stroke="none"/><path d="M159.7 84.4L163.6 67.0L168.6 68.8" stroke="#80d273" fill="none"/><path d="M168.6 68.8L164.7 84.2" stroke="#68d187"/><path d="M159.7 84.4L164.7 84.2" stroke="#20bcd5"/><path d="M131.7 125.7L136.8 122.5L132.9 123.2L127.8 125.2Z" stroke="none"/><path d="M127.8 125.2L131.7 125.7L136.8 122.5" stroke="#533fbc" fill="none"/><path d="M136.8 122.5L132.9 123.2" stroke="#5543c6"/><path d="M127.8 125.2L132.9 123.2" stroke="#513cb1"/><path d="M236.2 127.3L241.3 126.2L237.4 124.7L232.4 125.8Z" stroke="#513cb1"/><path d="M99.9 127.1L104.9 126.0L101.0 124.6L96.0 125.7Z" stroke="#513cb1"/><path d="M204.4 121.6L209.4 124.5L205.5 122.2L200.5 117.8Z" stroke="none"/><path d="M200.5 117.8L204.4 121.6L209.4 124.5" stroke="#584bd9" fill="none"/><path d="M209.4 124.5L205.5 122.2" stroke="#533fbc"/><path d="M200.5 117.8L205.5 122.2" stroke="#5954e8"/><path d="M68.0 127.2L73.1 126.1L69.2 124.6L64.1 125.7Z" stroke="#513cb1"/><path d="M172.5 56.2L177.6 67.3L173.7 76.3L168.6 68.8Z" stroke="none"/><path d="M168.6 68.8L172.5 56.2L177.6 67.3" stroke="#e0c33e" fill="none"/><path d="M177.6 67.3L173.7 76.3" stroke="#73d27d"/><path d="M168.6 68.8L173.7 76.3" stroke="#68d187"/><path d="M140.7 119.6L145.7 111.8L141.8 118.1L136.8 122.5Z" stroke="none"/><path d="M136.8 122.5L140.7 119.6L145.7 111.8" stroke="#594fe1" fill="none"/><path d="M145.7 111.8L141.8 118.1" stroke="#5a69f9"/><path d="M136.8 122.5L141.8 118.1" stroke="#5543c6"/><path d="M245.2 127.6L250.2 126.5L246.3 125.1L241.3 126.2Z" stroke="#513cb1"/><path d="M108.8 127.5L113.9 126.4L110.0 124.9L104.9 126.0Z" stroke="#513cb1"/><path d="M213.3 126.7L218.4 126.4L214.5 124.7L209.4 124.5Z" stroke="#533fbc"/><path d="M77.0 127.5L82.0 126.4L78.1 125.0L73.1 126.1Z" stroke="#513cb1"/><path d="M181.5 64.7L186.5 83.9L182.6 83.4L177.6 67.3Z" stroke="none"/><path d="M177.6 67.3L181.5 64.7L186.5 83.9" stroke="#9ad05f" fill="none"/><path d="M186.5 83.9L182.6 83.4" stroke="#1abfcf"/><path d="M177.6 67.3L182.6 83.4" stroke="#73d27d"/><path d="M149.6 101.0L154.7 90.1L150.8 104.2L145.7 111.8Z" stroke="none"/><path d="M145.7 111.8L149.6 101.0L154.7 90.1" stroke="#4293f8" fill="none"/><path d="M154.7 90.1L150.8 104.2" stroke="#33b2e3"/><path d="M145.7 111.8L150.8 104.2" stroke="#5a69f9"/><path d="M254.1 127.9L259.2 126.9L255.3 125.4L250.2 126.5Z" stroke="#513cb1"/><path d="M117.8 127.8L122.8 126.6L118.9 125.2L113.9 126.4Z" stroke="#513cb1"/><path d="M222.3 127.9L227.3 126.9L223.4 125.4L218.4 126.4Z" stroke="#513cb1"/><path d="M85.9 127.9L90.9 126.8L87.0 125.3L82.0 126.4Z" stroke="#513cb1"/><path d="M190.4 89.6L195.5 107.0L191.6 102.1L186.5 83.9Z" stroke="none"/><path d="M186.5 83.9L190.4 89.6L195.5 107.0" stroke="#2fb6df" fill="none"/><path d="M195.5 107.0L191.6 102.1" stroke="#517eff"/><path d="M186.5 83.9L191.6 102.1" stroke="#1abfcf"/><path d="M158.5 72.7L163.6 67.0L159.7 84.4L154.7 90.1Z" stroke="none"/><path d="M154.7 90.1L158.5 72.7L163.6 67.0" stroke="#5cd091" fill="none"/><path d="M163.6 67.0L159.7 84.4" stroke="#80d273"/><path d="M154.7 90.1L159.7 84.4" stroke="#33b2e3"/><path d="M126.7 127.8L131.7 125.7L127.8 125.2L122.8 126.6Z" stroke="#513cb1"/><path d="M231.2 128.3L236.2 127.3L232.4 125.8L227.3 126.9Z" stroke="#513cb1"/><path d="M94.8 128.2L99.9 127.1L96.0 125.7L90.9 126.8Z" stroke="#513cb1"/><path d="M199.3 113.5L204.4 121.6L200.5 117.8L195.5 107.0Z" stroke="none"/><path d="M195.5 107.0L199.3 113.5L204.4 121.6" stroke="#5a69f9" fill="none"/><path d="M204.4 121.6L200.5 117.8" stroke="#584bd9"/><path d="M195.5 107.0L200.5 117.8" stroke="#517eff"/><path d="M63.0 128.2L68.0 127.2L64.1 125.7L59.1 126.8Z" stroke="#513cb1"/><path d="M167.5 51.9L172.5 56.2L168.6 68.8L163.6 67.0Z" stroke="none"/><path d="M163.6 67.0L167.5 51.9L172.5 56.2" stroke="#fec450" fill="none"/><path d="M172.5 56.2L168.6 68.8" stroke="#e0c33e"/><path d="M163.6 67.0L168.6 68.8" stroke="#80d273"/><path d="M135.6 125.3L140.7 119.6L136.8 122.5L131.7 125.7Z" stroke="none"/><path d="M131.7 125.7L135.6 125.3L140.7 119.6" stroke="#5543c6" fill="none"/><path d="M140.7 119.6L136.8 122.5" stroke="#594fe1"/><path d="M131.7 125.7L136.8 122.5" stroke="#533fbc"/><path d="M240.1 128.7L245.2 127.6L241.3 126.2L236.2 127.3Z" stroke="#513cb1"/><path d="M103.8 128.6L108.8 127.5L104.9 126.0L99.9 127.1Z" stroke="#513cb1"/><path d="M208.3 125.2L213.3 126.7L209.4 124.5L204.4 121.6Z" stroke="none"/><path d="M204.4 121.6L208.3 125.2L213.3 126.7" stroke="#5543c6" fill="none"/><path d="M213.3 126.7L209.4 124.5" stroke="#533fbc"/><path d="M204.4 121.6L209.4 124.5" stroke="#584bd9"/><path d="M71.9 128.6L77.0 127.5L73.1 126.1L68.0 127.2Z" stroke="#513cb1"/><path d="M176.4 50.5L181.5 64.7L177.6 67.3L172.5 56.2Z" stroke="none"/><path d="M172.5 56.2L176.4 50.5L181.5 64.7" stroke="#fec94c" fill="none"/><path d="M181.5 64.7L177.6 67.3" stroke="#9ad05f"/><path d="M172.5 56.2L177.6 67.3" stroke="#e0c33e"/><path d="M144.6 113.4L149.6 101.0L145.7 111.8L140.7 119.6Z" stroke="none"/><path d="M140.7 119.6L144.6 113.4L149.6 101.0" stroke="#596efb" fill="none"/><path d="M149.6 101.0L145.7 111.8" stroke="#4293f8"/><path d="M140.7 119.6L145.7 111.8" stroke="#594fe1"/><path d="M249.1 129.0L254.1 127.9L250.2 126.5L245.2 127.6Z" stroke="#513cb1"/><path d="M112.7 128.9L117.8 127.8L113.9 126.4L108.8 127.5Z" stroke="#513cb1"/><path d="M217.2 128.6L222.3 127.9L218.4 126.4L213.3 126.7Z" stroke="#513cb1"/><path d="M80.8 128.9L85.9 127.9L82.0 126.4L77.0 127.5Z" stroke="#513cb1"/><path d="M185.4 69.7L190.4 89.6L186.5 83.9L181.5 64.7Z" stroke="none"/><path d="M181.5 64.7L185.4 69.7L190.4 89.6" stroke="#80d273" fill="none"/><path d="M190.4 89.6L186.5 83.9" stroke="#2fb6df"/><path d="M181.5 64.7L186.5 83.9" stroke="#9ad05f"/><path d="M153.5 86.5L158.5 72.7L154.7 90.1L149.6 101.0Z" stroke="none"/><path d="M149.6 101.0L153.5 86.5L158.5 72.7" stroke="#1abfcf" fill="none"/><path d="M158.5 72.7L154.7 90.1" stroke="#5cd091"/><path d="M149.6 101.0L154.7 90.1" stroke="#4293f8"/><path d="M258.0 129.4L263.1 128.3L259.2 126.9L254.1 127.9Z" stroke="#513cb1"/><path d="M121.6 129.2L126.7 127.8L122.8 126.6L117.8 127.8Z" stroke="#513cb1"/><path d="M226.2 129.4L231.2 128.3L227.3 126.9L222.3 127.9Z" stroke="#513cb1"/><path d="M89.8 129.3L94.8 128.2L90.9 126.8L85.9 127.9Z" stroke="#513cb1"/><path d="M194.3 99.0L199.3 113.5L195.5 107.0L190.4 89.6Z" stroke="none"/><path d="M190.4 89.6L194.3 99.0L199.3 113.5" stroke="#3da1ed" fill="none"/><path d="M199.3 113.5L195.5 107.0" stroke="#5a69f9"/><path d="M190.4 89.6L195.5 107.0" stroke="#2fb6df"/><path d="M57.9 129.3L63.0 128.2L59.1 126.8L54.0 127.9Z" stroke="#513cb1"/><path d="M162.4 56.5L167.5 51.9L163.6 67.0L158.5 72.7Z" stroke="none"/><path d="M158.5 72.7L162.4 56.5L167.5 51.9" stroke="#e9c242" fill="none"/><path d="M167.5 51.9L163.6 67.0" stroke="#fec450"/><path d="M158.5 72.7L163.6 67.0" stroke="#5cd091"/><path d="M130.6 128.6L135.6 125.3L131.7 125.7L126.7 127.8Z" stroke="none"/><path d="M126.7 127.8L130.6 128.6L135.6 125.3" stroke="#533fbc" fill="none"/><path d="M135.6 125.3L131.7 125.7" stroke="#5543c6"/><path d="M126.7 127.8L131.7 125.7" stroke="#513cb1"/><path d="M235.1 129.8L240.1 128.7L236.2 127.3L231.2 128.3Z" stroke="#513cb1"/><path d="M98.7 129.6L103.8 128.6L99.9 127.1L94.8 128.2Z" stroke="#513cb1"/><path d="M203.2 120.0L208.3 125.2L204.4 121.6L199.3 113.5Z" stroke="none"/><path d="M199.3 113.5L203.2 120.0L208.3 125.2" stroke="#5a59ed" fill="none"/><path d="M208.3 125.2L204.4 121.6" stroke="#5543c6"/><path d="M199.3 113.5L204.4 121.6" stroke="#5a69f9"/><path d="M66.9 129.7L71.9 128.6L68.0 127.2L63.0 128.2Z" stroke="#513cb1"/><path d="M171.4 43.8L176.4 50.5L172.5 56.2L167.5 51.9Z" stroke="none"/><path d="M167.5 51.9L171.4 43.8L176.4 50.5" stroke="#f6e63d" fill="none"/><path d="M176.4 50.5L172.5 56.2" stroke="#fec94c"/><path d="M167.5 51.9L172.5 56.2" stroke="#fec450"/><path d="M139.5 123.1L144.6 113.4L140.7 119.6L135.6 125.3Z" stroke="none"/><path d="M135.6 125.3L139.5 123.1L144.6 113.4" stroke="#594fe1" fill="none"/><path d="M144.6 113.4L140.7 119.6" stroke="#596efb"/><path d="M135.6 125.3L140.7 119.6" stroke="#5543c6"/><path d="M244.0 130.1L249.1 129.0L245.2 127.6L240.1 128.7Z" stroke="#513cb1"/><path d="M107.7 130.0L112.7 128.9L108.8 127.5L103.8 128.6Z" stroke="#513cb1"/><path d="M212.2 128.2L217.2 128.6L213.3 126.7L208.3 125.2Z" stroke="none"/><path d="M208.3 125.2L212.2 128.2L217.2 128.6" stroke="#533fbc" fill="none"/><path d="M217.2 128.6L213.3 126.7" stroke="#513cb1"/><path d="M208.3 125.2L213.3 126.7" stroke="#5543c6"/><path d="M75.8 130.0L80.8 128.9L77.0 127.5L71.9 128.6Z" stroke="#513cb1"/><path d="M180.3 53.8L185.4 69.7L181.5 64.7L176.4 50.5Z" stroke="none"/><path d="M176.4 50.5L180.3 53.8L185.4 69.7" stroke="#f9c150" fill="none"/><path d="M185.4 69.7L181.5 64.7" stroke="#80d273"/><path d="M176.4 50.5L181.5 64.7" stroke="#fec94c"/><path d="M148.5 104.1L153.5 86.5L149.6 101.0L144.6 113.4Z" stroke="none"/><path d="M144.6 113.4L148.5 104.1L153.5 86.5" stroke="#4293f8" fill="none"/><path d="M153.5 86.5L149.6 101.0" stroke="#1abfcf"/><path d="M144.6 113.4L149.6 101.0" stroke="#596efb"/><path d="M253.0 130.5L258.0 129.4L254.1 127.9L249.1 129.0Z" stroke="#513cb1"/><path d="M116.6 130.3L121.6 129.2L117.8 127.8L112.7 128.9Z" stroke="#513cb1"/><path d="M221.1 130.3L226.2 129.4L222.3 127.9L217.2 128.6Z" stroke="#513cb1"/><path d="M84.7 130.3L89.8 129.3L85.9 127.9L80.8 128.9Z" stroke="#513cb1"/><path d="M189.3 80.9L194.3 99.0L190.4 89.6L185.4 69.7Z" stroke="none"/><path d="M185.4 69.7L189.3 80.9L194.3 99.0" stroke="#41cab0" fill="none"/><path d="M194.3 99.0L190.4 89.6" stroke="#3da1ed"/><path d="M185.4 69.7L190.4 89.6" stroke="#80d273"/><path d="M52.9 130.4L57.9 129.3L54.0 127.9L49.0 129.0Z" stroke="#513cb1"/><path d="M157.4 71.4L162.4 56.5L158.5 72.7L153.5 86.5Z" stroke="none"/><path d="M153.5 86.5L157.4 71.4L162.4 56.5" stroke="#80d273" fill="none"/><path d="M162.4 56.5L158.5 72.7" stroke="#e9c242"/><path d="M153.5 86.5L158.5 72.7" stroke="#1abfcf"/><path d="M261.9 130.8L267.0 129.7L263.1 128.3L258.0 129.4Z" stroke="#513cb1"/><path d="M125.5 130.5L130.6 128.6L126.7 127.8L121.6 129.2Z" stroke="#513cb1"/><path d="M230.1 130.9L235.1 129.8L231.2 128.3L226.2 129.4Z" stroke="#513cb1"/><path d="M93.7 130.7L98.7 129.6L94.8 128.2L89.8 129.3Z" stroke="#513cb1"/><path d="M198.2 109.4L203.2 120.0L199.3 113.5L194.3 99.0Z" stroke="none"/><path d="M194.3 99.0L198.2 109.4L203.2 120.0" stroke="#4c83fe" fill="none"/><path d="M203.2 120.0L199.3 113.5" stroke="#5a59ed"/><path d="M194.3 99.0L199.3 113.5" stroke="#3da1ed"/><path d="M61.8 130.8L66.9 129.7L63.0 128.2L57.9 129.3Z" stroke="#513cb1"/><path d="M166.3 46.4L171.4 43.8L167.5 51.9L162.4 56.5Z" stroke="none"/><path d="M162.4 56.5L166.3 46.4L171.4 43.8" stroke="#f8e03f" fill="none"/><path d="M171.4 43.8L167.5 51.9" stroke="#f6e63d"/><path d="M162.4 56.5L167.5 51.9" stroke="#e9c242"/><path d="M134.5 128.8L139.5 123.1L135.6 125.3L130.6 128.6Z" stroke="none"/><path d="M130.6 128.6L134.5 128.8L139.5 123.1" stroke="#5543c6" fill="none"/><path d="M139.5 123.1L135.6 125.3" stroke="#594fe1"/><path d="M130.6 128.6L135.6 125.3" stroke="#533fbc"/><path d="M239.0 131.2L244.0 130.1L240.1 128.7L235.1 129.8Z" stroke="#513cb1"/><path d="M102.6 131.1L107.7 130.0L103.8 128.6L98.7 129.6Z" stroke="#513cb1"/><path d="M207.1 125.4L212.2 128.2L208.3 125.2L203.2 120.0Z" stroke="none"/><path d="M203.2 120.0L207.1 125.4L212.2 128.2" stroke="#584bd9" fill="none"/><path d="M212.2 128.2L208.3 125.2" stroke="#533fbc"/><path d="M203.2 120.0L208.3 125.2" stroke="#5a59ed"/><path d="M70.8 131.1L75.8 130.0L71.9 128.6L66.9 129.7Z" stroke="#513cb1"/><path d="M175.3 45.2L180.3 53.8L176.4 50.5L171.4 43.8Z" stroke="none"/><path d="M171.4 43.8L175.3 45.2L180.3 53.8" stroke="#f6e63d" fill="none"/><path d="M180.3 53.8L176.4 50.5" stroke="#f9c150"/><path d="M171.4 43.8L176.4 50.5" stroke="#f6e63d"/><path d="M143.4 118.9L148.5 104.1L144.6 113.4L139.5 123.1Z" stroke="none"/><path d="M139.5 123.1L143.4 118.9L148.5 104.1" stroke="#5a64f5" fill="none"/><path d="M148.5 104.1L144.6 113.4" stroke="#4293f8"/><path d="M139.5 123.1L144.6 113.4" stroke="#594fe1"/><path d="M247.9 131.6L253.0 130.5L249.1 129.0L244.0 130.1Z" stroke="#513cb1"/><path d="M111.6 131.4L116.6 130.3L112.7 128.9L107.7 130.0Z" stroke="#513cb1"/><path d="M216.1 130.6L221.1 130.3L217.2 128.6L212.2 128.2Z" stroke="#533fbc"/><path d="M79.7 131.4L84.7 130.3L80.8 128.9L75.8 130.0Z" stroke="#513cb1"/><path d="M184.2 64.7L189.3 80.9L185.4 69.7L180.3 53.8Z" stroke="none"/><path d="M180.3 53.8L184.2 64.7L189.3 80.9" stroke="#c0ca45" fill="none"/><path d="M189.3 80.9L185.4 69.7" stroke="#41cab0"/><path d="M180.3 53.8L185.4 69.7" stroke="#f9c150"/><path d="M47.8 131.5L52.9 130.4L49.0 129.0L43.9 130.1Z" stroke="#513cb1"/><path d="M152.4 92.9L157.4 71.4L153.5 86.5L148.5 104.1Z" stroke="none"/><path d="M148.5 104.1L152.4 92.9L157.4 71.4" stroke="#29b9da" fill="none"/><path d="M157.4 71.4L153.5 86.5" stroke="#80d273"/><path d="M148.5 104.1L153.5 86.5" stroke="#4293f8"/><path d="M256.9 131.9L261.9 130.8L258.0 129.4L253.0 130.5Z" stroke="#513cb1"/><path d="M120.5 131.7L125.5 130.5L121.6 129.2L116.6 130.3Z" stroke="#513cb1"/><path d="M225.0 131.9L230.1 130.9L226.2 129.4L221.1 130.3Z" stroke="#513cb1"/><path d="M88.6 131.7L93.7 130.7L89.8 129.3L84.7 130.3Z" stroke="#513cb1"/><path d="M193.1 94.5L198.2 109.4L194.3 99.0L189.3 80.9Z" stroke="none"/><path d="M189.3 80.9L193.1 94.5L198.2 109.4" stroke="#2fb6df" fill="none"/><path d="M198.2 109.4L194.3 99.0" stroke="#4c83fe"/><path d="M189.3 80.9L194.3 99.0" stroke="#41cab0"/><path d="M56.8 131.9L61.8 130.8L57.9 129.3L52.9 130.4Z" stroke="#513cb1"/><path d="M161.3 60.1L166.3 46.4L162.4 56.5L157.4 71.4Z" stroke="none"/><path d="M157.4 71.4L161.3 60.1L166.3 46.4" stroke="#e0c33e" fill="none"/><path d="M166.3 46.4L162.4 56.5" stroke="#f8e03f"/><path d="M157.4 71.4L162.4 56.5" stroke="#80d273"/><path d="M265.8 132.3L270.8 131.2L267.0 129.7L261.9 130.8Z" stroke="#513cb1"/><path d="M129.4 131.6L134.5 128.8L130.6 128.6L125.5 130.5Z" stroke="none"/><path d="M125.5 130.5L129.4 131.6L134.5 128.8" stroke="#513cb1" fill="none"/><path d="M134.5 128.8L130.6 128.6" stroke="#5543c6"/><path d="M125.5 130.5L130.6 128.6" stroke="#513cb1"/><path d="M233.9 132.3L239.0 131.2L235.1 129.8L230.1 130.9Z" stroke="#513cb1"/><path d="M97.6 132.1L102.6 131.1L98.7 129.6L93.7 130.7Z" stroke="#513cb1"/><path d="M202.1 118.5L207.1 125.4L203.2 120.0L198.2 109.4Z" stroke="none"/><path d="M198.2 109.4L202.1 118.5L207.1 125.4" stroke="#5a69f9" fill="none"/><path d="M207.1 125.4L203.2 120.0" stroke="#584bd9"/><path d="M198.2 109.4L203.2 120.0" stroke="#4c83fe"/><path d="M65.7 132.2L70.8 131.1L66.9 129.7L61.8 130.8Z" stroke="#513cb1"/><path d="M170.2 45.0L175.3 45.2L171.4 43.8L166.3 46.4Z" stroke="#f6eb3a"/><path d="M138.4 127.9L143.4 118.9L139.5 123.1L134.5 128.8Z" stroke="none"/><path d="M134.5 128.8L138.4 127.9L143.4 118.9" stroke="#5647d0" fill="none"/><path d="M143.4 118.9L139.5 123.1" stroke="#5a64f5"/><path d="M134.5 128.8L139.5 123.1" stroke="#5543c6"/><path d="M242.9 132.7L247.9 131.6L244.0 130.1L239.0 131.2Z" stroke="#513cb1"/><path d="M106.5 132.5L111.6 131.4L107.7 130.0L102.6 131.1Z" stroke="#513cb1"/><path d="M211.0 129.4L216.1 130.6L212.2 128.2L207.1 125.4Z" stroke="none"/><path d="M207.1 125.4L211.0 129.4L216.1 130.6" stroke="#5543c6" fill="none"/><path d="M216.1 130.6L212.2 128.2" stroke="#533fbc"/><path d="M207.1 125.4L212.2 128.2" stroke="#584bd9"/><path d="M74.7 132.5L79.7 131.4L75.8 130.0L70.8 131.1Z" stroke="#513cb1"/><path d="M179.2 54.4L184.2 64.7L180.3 53.8L175.3 45.2Z" stroke="none"/><path d="M175.3 45.2L179.2 54.4L184.2 64.7" stroke="#fec94c" fill="none"/><path d="M184.2 64.7L180.3 53.8" stroke="#c0ca45"/><path d="M175.3 45.2L180.3 53.8" stroke="#f6e63d"/><path d="M42.8 132.6L47.8 131.5L43.9 130.1L38.9 131.2Z" stroke="#513cb1"/><path d="M147.3 112.8L152.4 92.9L148.5 104.1L143.4 118.9Z" stroke="none"/><path d="M143.4 118.9L147.3 112.8L152.4 92.9" stroke="#517eff" fill="none"/><path d="M152.4 92.9L148.5 104.1" stroke="#29b9da"/><path d="M143.4 118.9L148.5 104.1" stroke="#5a64f5"/><path d="M251.8 133.0L256.9 131.9L253.0 130.5L247.9 131.6Z" stroke="#513cb1"/><path d="M115.4 132.9L120.5 131.7L116.6 130.3L111.6 131.4Z" stroke="#513cb1"/><path d="M220.0 132.5L225.0 131.9L221.1 130.3L216.1 130.6Z" stroke="#513cb1"/><path d="M83.6 132.7L88.6 131.7L84.7 130.3L79.7 131.4Z" stroke="#513cb1"/><path d="M188.1 79.3L193.1 94.5L189.3 80.9L184.2 64.7Z" stroke="none"/><path d="M184.2 64.7L188.1 79.3L193.1 94.5" stroke="#52cf99" fill="none"/><path d="M193.1 94.5L189.3 80.9" stroke="#2fb6df"/><path d="M184.2 64.7L189.3 80.9" stroke="#c0ca45"/><path d="M51.7 133.0L56.8 131.9L52.9 130.4L47.8 131.5Z" stroke="#513cb1"/><path d="M156.2 82.5L161.3 60.1L157.4 71.4L152.4 92.9Z" stroke="none"/><path d="M152.4 92.9L156.2 82.5L161.3 60.1" stroke="#46cca9" fill="none"/><path d="M161.3 60.1L157.4 71.4" stroke="#e0c33e"/><path d="M152.4 92.9L157.4 71.4" stroke="#29b9da"/><path d="M260.8 133.4L265.8 132.3L261.9 130.8L256.9 131.9Z" stroke="#513cb1"/><path d="M124.4 133.1L129.4 131.6L125.5 130.5L120.5 131.7Z" stroke="#513cb1"/><path d="M228.9 133.4L233.9 132.3L230.1 130.9L225.0 131.9Z" stroke="#513cb1"/><path d="M92.5 133.0L97.6 132.1L93.7 130.7L88.6 131.7Z" stroke="#513cb1"/><path d="M197.0 107.2L202.1 118.5L198.2 109.4L193.1 94.5Z" stroke="none"/><path d="M193.1 94.5L197.0 107.2L202.1 118.5" stroke="#4293f8" fill="none"/><path d="M202.1 118.5L198.2 109.4" stroke="#5a69f9"/><path d="M193.1 94.5L198.2 109.4" stroke="#2fb6df"/><path d="M60.7 133.3L65.7 132.2L61.8 130.8L56.8 131.9Z" stroke="#513cb1"/><path d="M165.2 54.9L170.2 45.0L166.3 46.4L161.3 60.1Z" stroke="none"/><path d="M161.3 60.1L165.2 54.9L170.2 45.0" stroke="#fec94c" fill="none"/><path d="M170.2 45.0L166.3 46.4" stroke="#f6eb3a"/><path d="M161.3 60.1L166.3 46.4" stroke="#e0c33e"/><path d="M269.7 133.7L274.7 132.6L270.8 131.2L265.8 132.3Z" stroke="#513cb1"/><path d="M133.3 132.3L138.4 127.9L134.5 128.8L129.4 131.6Z" stroke="none"/><path d="M129.4 131.6L133.3 132.3L138.4 127.9" stroke="#533fbc" fill="none"/><path d="M138.4 127.9L134.5 128.8" stroke="#5647d0"/><path d="M129.4 131.6L134.5 128.8" stroke="#513cb1"/><path d="M237.8 133.8L242.9 132.7L239.0 131.2L233.9 132.3Z" stroke="#513cb1"/><path d="M101.5 133.5L106.5 132.5L102.6 131.1L97.6 132.1Z" stroke="#513cb1"/><path d="M206.0 125.3L211.0 129.4L207.1 125.4L202.1 118.5Z" stroke="none"/><path d="M202.1 118.5L206.0 125.3L211.0 129.4" stroke="#5954e8" fill="none"/><path d="M211.0 129.4L207.1 125.4" stroke="#5543c6"/><path d="M202.1 118.5L207.1 125.4" stroke="#5a69f9"/><path d="M69.6 133.6L74.7 132.5L70.8 131.1L65.7 132.2Z" stroke="#513cb1"/><path d="M174.1 50.6L179.2 54.4L175.3 45.2L170.2 45.0Z" stroke="none"/><path d="M170.2 45.0L174.1 50.6L179.2 54.4" stroke="#fada42" fill="none"/><path d="M179.2 54.4L175.3 45.2" stroke="#fec94c"/><path d="M170.2 45.0L175.3 45.2" stroke="#f6eb3a"/><path d="M142.3 125.8L147.3 112.8L143.4 118.9L138.4 127.9Z" stroke="none"/><path d="M138.4 127.9L142.3 125.8L147.3 112.8" stroke="#5954e8" fill="none"/><path d="M147.3 112.8L143.4 118.9" stroke="#517eff"/><path d="M138.4 127.9L143.4 118.9" stroke="#5647d0"/><path d="M246.8 134.1L251.8 133.0L247.9 131.6L242.9 132.7Z" stroke="#513cb1"/><path d="M110.4 133.9L115.4 132.9L111.6 131.4L106.5 132.5Z" stroke="#513cb1"/><path d="M214.9 132.3L220.0 132.5L216.1 130.6L211.0 129.4Z" stroke="none"/><path d="M211.0 129.4L214.9 132.3L220.0 132.5" stroke="#533fbc" fill="none"/><path d="M220.0 132.5L216.1 130.6" stroke="#513cb1"/><path d="M211.0 129.4L216.1 130.6" stroke="#5543c6"/><path d="M78.5 133.8L83.6 132.7L79.7 131.4L74.7 132.5Z" stroke="#513cb1"/><path d="M183.1 67.2L188.1 79.3L184.2 64.7L179.2 54.4Z" stroke="none"/><path d="M179.2 54.4L183.1 67.2L188.1 79.3" stroke="#c0ca45" fill="none"/><path d="M188.1 79.3L184.2 64.7" stroke="#52cf99"/><path d="M179.2 54.4L184.2 64.7" stroke="#fec94c"/><path d="M46.7 134.1L51.7 133.0L47.8 131.5L42.8 132.6Z" stroke="#513cb1"/><path d="M151.2 105.5L156.2 82.5L152.4 92.9L147.3 112.8Z" stroke="none"/><path d="M147.3 112.8L151.2 105.5L156.2 82.5" stroke="#409cf0" fill="none"/><path d="M156.2 82.5L152.4 92.9" stroke="#46cca9"/><path d="M147.3 112.8L152.4 92.9" stroke="#517eff"/><path d="M255.7 134.5L260.8 133.4L256.9 131.9L251.8 133.0Z" stroke="#513cb1"/><path d="M119.3 134.3L124.4 133.1L120.5 131.7L115.4 132.9Z" stroke="#513cb1"/><path d="M223.9 134.2L228.9 133.4L225.0 131.9L220.0 132.5Z" stroke="#513cb1"/><path d="M87.5 134.0L92.5 133.0L88.6 131.7L83.6 132.7Z" stroke="#513cb1"/><path d="M192.0 93.5L197.0 107.2L193.1 94.5L188.1 79.3Z" stroke="none"/><path d="M188.1 79.3L192.0 93.5L197.0 107.2" stroke="#20bcd5" fill="none"/><path d="M197.0 107.2L193.1 94.5" stroke="#4293f8"/><path d="M188.1 79.3L193.1 94.5" stroke="#52cf99"/><path d="M55.6 134.4L60.7 133.3L56.8 131.9L51.7 133.0Z" stroke="#513cb1"/><path d="M160.1 74.3L165.2 54.9L161.3 60.1L156.2 82.5Z" stroke="none"/><path d="M156.2 82.5L160.1 74.3L165.2 54.9" stroke="#80d273" fill="none"/><path d="M165.2 54.9L161.3 60.1" stroke="#fec94c"/><path d="M156.2 82.5L161.3 60.1" stroke="#46cca9"/><path d="M264.7 134.8L269.7 133.7L265.8 132.3L260.8 133.4Z" stroke="#513cb1"/><path d="M128.3 134.3L133.3 132.3L129.4 131.6L124.4 133.1Z" stroke="#513cb1"/><path d="M232.8 134.8L237.8 133.8L233.9 132.3L228.9 133.4Z" stroke="#513cb1"/><path d="M96.4 134.3L101.5 133.5L97.6 132.1L92.5 133.0Z" stroke="#513cb1"/><path d="M200.9 117.2L206.0 125.3L202.1 118.5L197.0 107.2Z" stroke="none"/><path d="M197.0 107.2L200.9 117.2L206.0 125.3" stroke="#5773fd" fill="none"/><path d="M206.0 125.3L202.1 118.5" stroke="#5954e8"/><path d="M197.0 107.2L202.1 118.5" stroke="#4293f8"/><path d="M64.6 134.8L69.6 133.6L65.7 132.2L60.7 133.3Z" stroke="#513cb1"/><path d="M169.1 54.7L174.1 50.6L170.2 45.0L165.2 54.9Z" stroke="none"/><path d="M165.2 54.9L169.1 54.7L174.1 50.6" stroke="#fecf48" fill="none"/><path d="M174.1 50.6L170.2 45.0" stroke="#fada42"/><path d="M165.2 54.9L170.2 45.0" stroke="#fec94c"/><path d="M273.6 135.2L278.6 134.1L274.7 132.6L269.7 133.7Z" stroke="#513cb1"/><path d="M137.2 132.2L142.3 125.8L138.4 127.9L133.3 132.3Z" stroke="none"/><path d="M133.3 132.3L137.2 132.2L142.3 125.8" stroke="#5543c6" fill="none"/><path d="M142.3 125.8L138.4 127.9" stroke="#5954e8"/><path d="M133.3 132.3L138.4 127.9" stroke="#533fbc"/><path d="M241.7 135.2L246.8 134.1L242.9 132.7L237.8 133.8Z" stroke="#513cb1"/><path d="M105.4 134.7L110.4 133.9L106.5 132.5L101.5 133.5Z" stroke="#513cb1"/><path d="M209.9 130.1L214.9 132.3L211.0 129.4L206.0 125.3Z" stroke="none"/><path d="M206.0 125.3L209.9 130.1L214.9 132.3" stroke="#584bd9" fill="none"/><path d="M214.9 132.3L211.0 129.4" stroke="#533fbc"/><path d="M206.0 125.3L211.0 129.4" stroke="#5954e8"/><path d="M73.5 135.1L78.5 133.8L74.7 132.5L69.6 133.6Z" stroke="#513cb1"/><path d="M178.0 58.9L183.1 67.2L179.2 54.4L174.1 50.6Z" stroke="none"/><path d="M174.1 50.6L178.0 58.9L183.1 67.2" stroke="#f9c150" fill="none"/><path d="M183.1 67.2L179.2 54.4" stroke="#c0ca45"/><path d="M174.1 50.6L179.2 54.4" stroke="#fada42"/><path d="M146.2 121.8L151.2 105.5L147.3 112.8L142.3 125.8Z" stroke="none"/><path d="M142.3 125.8L146.2 121.8L151.2 105.5" stroke="#5a64f5" fill="none"/><path d="M151.2 105.5L147.3 112.8" stroke="#409cf0"/><path d="M142.3 125.8L147.3 112.8" stroke="#5954e8"/><path d="M250.7 135.6L255.7 134.5L251.8 133.0L246.8 134.1Z" stroke="#513cb1"/><path d="M114.3 135.3L119.3 134.3L115.4 132.9L110.4 133.9Z" stroke="#513cb1"/><path d="M218.8 134.6L223.9 134.2L220.0 132.5L214.9 132.3Z" stroke="#533fbc"/><path d="M82.4 135.2L87.5 134.0L83.6 132.7L78.5 133.8Z" stroke="#513cb1"/><path d="M187.0 79.7L192.0 93.5L188.1 79.3L183.1 67.2Z" stroke="none"/><path d="M183.1 67.2L187.0 79.7L192.0 93.5" stroke="#5cd091" fill="none"/><path d="M192.0 93.5L188.1 79.3" stroke="#20bcd5"/><path d="M183.1 67.2L188.1 79.3" stroke="#c0ca45"/><path d="M50.6 135.5L55.6 134.4L51.7 133.0L46.7 134.1Z" stroke="#513cb1"/><path d="M155.1 96.9L160.1 74.3L156.2 82.5L151.2 105.5Z" stroke="none"/><path d="M151.2 105.5L155.1 96.9L160.1 74.3" stroke="#29b9da" fill="none"/><path d="M160.1 74.3L156.2 82.5" stroke="#80d273"/><path d="M151.2 105.5L156.2 82.5" stroke="#409cf0"/><path d="M259.6 135.9L264.7 134.8L260.8 133.4L255.7 134.5Z" stroke="#513cb1"/><path d="M123.2 135.6L128.3 134.3L124.4 133.1L119.3 134.3Z" stroke="#513cb1"/><path d="M227.7 135.8L232.8 134.8L228.9 133.4L223.9 134.2Z" stroke="#513cb1"/><path d="M91.4 135.2L96.4 134.3L92.5 133.0L87.5 134.0Z" stroke="#513cb1"/><path d="M195.9 105.4L200.9 117.2L197.0 107.2L192.0 93.5Z" stroke="none"/><path d="M192.0 93.5L195.9 105.4L200.9 117.2" stroke="#3da1ed" fill="none"/><path d="M200.9 117.2L197.0 107.2" stroke="#5773fd"/><path d="M192.0 93.5L197.0 107.2" stroke="#20bcd5"/><path d="M59.5 135.9L64.6 134.8L60.7 133.3L55.6 134.4Z" stroke="#513cb1"/><path d="M164.0 67.5L169.1 54.7L165.2 54.9L160.1 74.3Z" stroke="none"/><path d="M160.1 74.3L164.0 67.5L169.1 54.7" stroke="#cbc83f" fill="none"/><path d="M169.1 54.7L165.2 54.9" stroke="#fecf48"/><path d="M160.1 74.3L165.2 54.9" stroke="#80d273"/><path d="M268.5 136.3L273.6 135.2L269.7 133.7L264.7 134.8Z" stroke="#513cb1"/><path d="M132.2 135.1L137.2 132.2L133.3 132.3L128.3 134.3Z" stroke="none"/><path d="M128.3 134.3L132.2 135.1L137.2 132.2" stroke="#533fbc" fill="none"/><path d="M137.2 132.2L133.3 132.3" stroke="#5543c6"/><path d="M128.3 134.3L133.3 132.3" stroke="#513cb1"/><path d="M236.7 136.3L241.7 135.2L237.8 133.8L232.8 134.8Z" stroke="#513cb1"/><path d="M100.3 135.3L105.4 134.7L101.5 133.5L96.4 134.3Z" stroke="#533fbc"/><path d="M204.8 124.7L209.9 130.1L206.0 125.3L200.9 117.2Z" stroke="none"/><path d="M200.9 117.2L204.8 124.7L209.9 130.1" stroke="#5a5ef2" fill="none"/><path d="M209.9 130.1L206.0 125.3" stroke="#584bd9"/><path d="M200.9 117.2L206.0 125.3" stroke="#5773fd"/><path d="M68.5 136.2L73.5 135.1L69.6 133.6L64.6 134.8Z" stroke="#513cb1"/><path d="M173.0 55.7L178.0 58.9L174.1 50.6L169.1 54.7Z" stroke="none"/><path d="M169.1 54.7L173.0 55.7L178.0 58.9" stroke="#fecf48" fill="none"/><path d="M178.0 58.9L174.1 50.6" stroke="#f9c150"/><path d="M169.1 54.7L174.1 50.6" stroke="#fecf48"/><path d="M277.5 136.6L282.5 135.5L278.6 134.1L273.6 135.2Z" stroke="#513cb1"/><path d="M141.1 130.7L146.2 121.8L142.3 125.8L137.2 132.2Z" stroke="none"/><path d="M137.2 132.2L141.1 130.7L146.2 121.8" stroke="#584bd9" fill="none"/><path d="M146.2 121.8L142.3 125.8" stroke="#5a64f5"/><path d="M137.2 132.2L142.3 125.8" stroke="#5543c6"/><path d="M245.6 136.7L250.7 135.6L246.8 134.1L241.7 135.2Z" stroke="#513cb1"/><path d="M109.3 135.8L114.3 135.3L110.4 133.9L105.4 134.7Z" stroke="#513cb1"/><path d="M213.8 133.6L218.8 134.6L214.9 132.3L209.9 130.1Z" stroke="none"/><path d="M209.9 130.1L213.8 133.6L218.8 134.6" stroke="#5543c6" fill="none"/><path d="M218.8 134.6L214.9 132.3" stroke="#533fbc"/><path d="M209.9 130.1L214.9 132.3" stroke="#584bd9"/><path d="M77.4 136.5L82.4 135.2L78.5 133.8L73.5 135.1Z" stroke="#513cb1"/><path d="M181.9 66.7L187.0 79.7L183.1 67.2L178.0 58.9Z" stroke="none"/><path d="M178.0 58.9L181.9 66.7L187.0 79.7" stroke="#d6c63d" fill="none"/><path d="M187.0 79.7L183.1 67.2" stroke="#5cd091"/><path d="M178.0 58.9L183.1 67.2" stroke="#f9c150"/><path d="M150.0 114.9L155.1 96.9L151.2 105.5L146.2 121.8Z" stroke="none"/><path d="M146.2 121.8L150.0 114.9L155.1 96.9" stroke="#4c83fe" fill="none"/><path d="M155.1 96.9L151.2 105.5" stroke="#29b9da"/><path d="M146.2 121.8L151.2 105.5" stroke="#5a64f5"/><path d="M254.6 137.0L259.6 135.9L255.7 134.5L250.7 135.6Z" stroke="#513cb1"/><path d="M118.2 136.5L123.2 135.6L119.3 134.3L114.3 135.3Z" stroke="#513cb1"/><path d="M222.7 136.5L227.7 135.8L223.9 134.2L218.8 134.6Z" stroke="#513cb1"/><path d="M86.3 136.5L91.4 135.2L87.5 134.0L82.4 135.2Z" stroke="#513cb1"/><path d="M190.8 90.9L195.9 105.4L192.0 93.5L187.0 79.7Z" stroke="none"/><path d="M187.0 79.7L190.8 90.9L195.9 105.4" stroke="#30c6bd" fill="none"/><path d="M195.9 105.4L192.0 93.5" stroke="#3da1ed"/><path d="M187.0 79.7L192.0 93.5" stroke="#5cd091"/><path d="M54.5 137.0L59.5 135.9L55.6 134.4L50.6 135.5Z" stroke="#513cb1"/><path d="M159.0 85.9L164.0 67.5L160.1 74.3L155.1 96.9Z" stroke="none"/><path d="M155.1 96.9L159.0 85.9L164.0 67.5" stroke="#46cca9" fill="none"/><path d="M164.0 67.5L160.1 74.3" stroke="#cbc83f"/><path d="M155.1 96.9L160.1 74.3" stroke="#29b9da"/><path d="M263.5 137.4L268.5 136.3L264.7 134.8L259.6 135.9Z" stroke="#513cb1"/><path d="M127.1 136.7L132.2 135.1L128.3 134.3L123.2 135.6Z" stroke="#513cb1"/><path d="M231.6 137.3L236.7 136.3L232.8 134.8L227.7 135.8Z" stroke="#513cb1"/><path d="M95.3 136.3L100.3 135.3L96.4 134.3L91.4 135.2Z" stroke="#533fbc"/><path d="M199.8 115.3L204.8 124.7L200.9 117.2L195.9 105.4Z" stroke="none"/><path d="M195.9 105.4L199.8 115.3L204.8 124.7" stroke="#4c83fe" fill="none"/><path d="M204.8 124.7L200.9 117.2" stroke="#5a5ef2"/><path d="M195.9 105.4L200.9 117.2" stroke="#3da1ed"/><path d="M63.4 137.3L68.5 136.2L64.6 134.8L59.5 135.9Z" stroke="#513cb1"/><path d="M167.9 59.9L173.0 55.7L169.1 54.7L164.0 67.5Z" stroke="none"/><path d="M164.0 67.5L167.9 59.9L173.0 55.7" stroke="#fec450" fill="none"/><path d="M173.0 55.7L169.1 54.7" stroke="#fecf48"/><path d="M164.0 67.5L169.1 54.7" stroke="#cbc83f"/><path d="M272.4 137.7L277.5 136.6L273.6 135.2L268.5 136.3Z" stroke="#513cb1"/><path d="M136.1 134.9L141.1 130.7L137.2 132.2L132.2 135.1Z" stroke="none"/><path d="M132.2 135.1L136.1 134.9L141.1 130.7" stroke="#5543c6" fill="none"/><path d="M141.1 130.7L137.2 132.2" stroke="#584bd9"/><path d="M132.2 135.1L137.2 132.2" stroke="#533fbc"/><path d="M240.6 137.8L245.6 136.7L241.7 135.2L236.7 136.3Z" stroke="#513cb1"/><path d="M104.2 136.2L109.3 135.8L105.4 134.7L100.3 135.3Z" stroke="#533fbc"/><path d="M208.7 130.5L213.8 133.6L209.9 130.1L204.8 124.7Z" stroke="none"/><path d="M204.8 124.7L208.7 130.5L213.8 133.6" stroke="#594fe1" fill="none"/><path d="M213.8 133.6L209.9 130.1" stroke="#5543c6"/><path d="M204.8 124.7L209.9 130.1" stroke="#5a5ef2"/><path d="M72.3 137.7L77.4 136.5L73.5 135.1L68.5 136.2Z" stroke="#513cb1"/><path d="M176.9 56.4L181.9 66.7L178.0 58.9L173.0 55.7Z" stroke="none"/><path d="M173.0 55.7L176.9 56.4L181.9 66.7" stroke="#fdd445" fill="none"/><path d="M181.9 66.7L178.0 58.9" stroke="#d6c63d"/><path d="M173.0 55.7L178.0 58.9" stroke="#fecf48"/><path d="M281.4 138.1L286.4 137.0L282.5 135.5L277.5 136.6Z" stroke="#513cb1"/><path d="M145.0 126.2L150.0 114.9L146.2 121.8L141.1 130.7Z" stroke="none"/><path d="M141.1 130.7L145.0 126.2L150.0 114.9" stroke="#5a5ef2" fill="none"/><path d="M150.0 114.9L146.2 121.8" stroke="#4c83fe"/><path d="M141.1 130.7L146.2 121.8" stroke="#584bd9"/><path d="M249.5 138.1L254.6 137.0L250.7 135.6L245.6 136.7Z" stroke="#513cb1"/><path d="M113.1 136.7L118.2 136.5L114.3 135.3L109.3 135.8Z" stroke="#533fbc"/><path d="M217.7 136.5L222.7 136.5L218.8 134.6L213.8 133.6Z" stroke="none"/><path d="M213.8 133.6L217.7 136.5L222.7 136.5" stroke="#533fbc" fill="none"/><path d="M222.7 136.5L218.8 134.6" stroke="#513cb1"/><path d="M213.8 133.6L218.8 134.6" stroke="#5543c6"/><path d="M81.3 137.9L86.3 136.5L82.4 135.2L77.4 136.5Z" stroke="#513cb1"/><path d="M185.8 74.8L190.8 90.9L187.0 79.7L181.9 66.7Z" stroke="none"/><path d="M181.9 66.7L185.8 74.8L190.8 90.9" stroke="#9ad05f" fill="none"/><path d="M190.8 90.9L187.0 79.7" stroke="#30c6bd"/><path d="M181.9 66.7L187.0 79.7" stroke="#d6c63d"/><path d="M153.9 103.7L159.0 85.9L155.1 96.9L150.0 114.9Z" stroke="none"/><path d="M150.0 114.9L153.9 103.7L159.0 85.9" stroke="#36aee5" fill="none"/><path d="M159.0 85.9L155.1 96.9" stroke="#46cca9"/><path d="M150.0 114.9L155.1 96.9" stroke="#4c83fe"/><path d="M258.5 138.5L263.5 137.4L259.6 135.9L254.6 137.0Z" stroke="#513cb1"/><path d="M122.1 137.5L127.1 136.7L123.2 135.6L118.2 136.5Z" stroke="#533fbc"/><path d="M226.6 138.2L231.6 137.3L227.7 135.8L222.7 136.5Z" stroke="#513cb1"/><path d="M90.2 137.8L95.3 136.3L91.4 135.2L86.3 136.5Z" stroke="#513cb1"/><path d="M194.7 102.1L199.8 115.3L195.9 105.4L190.8 90.9Z" stroke="none"/><path d="M190.8 90.9L194.7 102.1L199.8 115.3" stroke="#33b2e3" fill="none"/><path d="M199.8 115.3L195.9 105.4" stroke="#4c83fe"/><path d="M190.8 90.9L195.9 105.4" stroke="#30c6bd"/><path d="M58.4 138.4L63.4 137.3L59.5 135.9L54.5 137.0Z" stroke="#513cb1"/><path d="M162.9 71.9L167.9 59.9L164.0 67.5L159.0 85.9Z" stroke="none"/><path d="M159.0 85.9L162.9 71.9L167.9 59.9" stroke="#c0ca45" fill="none"/><path d="M167.9 59.9L164.0 67.5" stroke="#fec450"/><path d="M159.0 85.9L164.0 67.5" stroke="#46cca9"/><path d="M267.4 138.8L272.4 137.7L268.5 136.3L263.5 137.4Z" stroke="#513cb1"/><path d="M131.0 137.1L136.1 134.9L132.2 135.1L127.1 136.7Z" stroke="none"/><path d="M127.1 136.7L131.0 137.1L136.1 134.9" stroke="#533fbc" fill="none"/><path d="M136.1 134.9L132.2 135.1" stroke="#5543c6"/><path d="M127.1 136.7L132.2 135.1" stroke="#513cb1"/><path d="M235.5 138.8L240.6 137.8L236.7 136.3L231.6 137.3Z" stroke="#513cb1"/><path d="M99.2 137.4L104.2 136.2L100.3 135.3L95.3 136.3Z" stroke="#533fbc"/><path d="M203.7 124.0L208.7 130.5L204.8 124.7L199.8 115.3Z" stroke="none"/><path d="M199.8 115.3L203.7 124.0L208.7 130.5" stroke="#5a69f9" fill="none"/><path d="M208.7 130.5L204.8 124.7" stroke="#594fe1"/><path d="M199.8 115.3L204.8 124.7" stroke="#4c83fe"/><path d="M67.3 138.8L72.3 137.7L68.5 136.2L63.4 137.3Z" stroke="#513cb1"/><path d="M171.8 52.4L176.9 56.4L173.0 55.7L167.9 59.9Z" stroke="none"/><path d="M167.9 59.9L171.8 52.4L176.9 56.4" stroke="#f6e63d" fill="none"/><path d="M176.9 56.4L173.0 55.7" stroke="#fdd445"/><path d="M167.9 59.9L173.0 55.7" stroke="#fec450"/><path d="M276.3 139.2L281.4 138.1L277.5 136.6L272.4 137.7Z" stroke="#513cb1"/><path d="M140.0 132.5L145.0 126.2L141.1 130.7L136.1 134.9Z" stroke="none"/><path d="M136.1 134.9L140.0 132.5L145.0 126.2" stroke="#584bd9" fill="none"/><path d="M145.0 126.2L141.1 130.7" stroke="#5a5ef2"/><path d="M136.1 134.9L141.1 130.7" stroke="#5543c6"/><path d="M244.5 139.2L249.5 138.1L245.6 136.7L240.6 137.8Z" stroke="#513cb1"/><path d="M108.1 137.0L113.1 136.7L109.3 135.8L104.2 136.2Z" stroke="#533fbc"/><path d="M212.6 135.1L217.7 136.5L213.8 133.6L208.7 130.5Z" stroke="none"/><path d="M208.7 130.5L212.6 135.1L217.7 136.5" stroke="#5647d0" fill="none"/><path d="M217.7 136.5L213.8 133.6" stroke="#533fbc"/><path d="M208.7 130.5L213.8 133.6" stroke="#594fe1"/><path d="M76.2 139.1L81.3 137.9L77.4 136.5L72.3 137.7Z" stroke="#513cb1"/><path d="M180.8 59.7L185.8 74.8L181.9 66.7L176.9 56.4Z" stroke="none"/><path d="M176.9 56.4L180.8 59.7L185.8 74.8" stroke="#fecf48" fill="none"/><path d="M185.8 74.8L181.9 66.7" stroke="#9ad05f"/><path d="M176.9 56.4L181.9 66.7" stroke="#fdd445"/><path d="M285.3 139.5L290.3 138.4L286.4 137.0L281.4 138.1Z" stroke="#513cb1"/><path d="M148.9 117.3L153.9 103.7L150.0 114.9L145.0 126.2Z" stroke="none"/><path d="M145.0 126.2L148.9 117.3L153.9 103.7" stroke="#4c83fe" fill="none"/><path d="M153.9 103.7L150.0 114.9" stroke="#36aee5"/><path d="M145.0 126.2L150.0 114.9" stroke="#5a5ef2"/><path d="M253.4 139.6L258.5 138.5L254.6 137.0L249.5 138.1Z" stroke="#513cb1"/><path d="M117.0 137.3L122.1 137.5L118.2 136.5L113.1 136.7Z" stroke="#533fbc"/><path d="M221.6 138.8L226.6 138.2L222.7 136.5L217.7 136.5Z" stroke="#533fbc"/><path d="M85.2 139.3L90.2 137.8L86.3 136.5L81.3 137.9Z" stroke="#513cb1"/><path d="M189.7 86.2L194.7 102.1L190.8 90.9L185.8 74.8Z" stroke="none"/><path d="M185.8 74.8L189.7 86.2L194.7 102.1" stroke="#52cf99" fill="none"/><path d="M194.7 102.1L190.8 90.9" stroke="#33b2e3"/><path d="M185.8 74.8L190.8 90.9" stroke="#9ad05f"/><path d="M157.8 88.1L162.9 71.9L159.0 85.9L153.9 103.7Z" stroke="none"/><path d="M153.9 103.7L157.8 88.1L162.9 71.9" stroke="#46cca9" fill="none"/><path d="M162.9 71.9L159.0 85.9" stroke="#c0ca45"/><path d="M153.9 103.7L159.0 85.9" stroke="#36aee5"/><path d="M262.3 139.9L267.4 138.8L263.5 137.4L258.5 138.5Z" stroke="#513cb1"/><path d="M126.0 137.9L131.0 137.1L127.1 136.7L122.1 137.5Z" stroke="#533fbc"/><path d="M230.5 139.8L235.5 138.8L231.6 137.3L226.6 138.2Z" stroke="#513cb1"/><path d="M94.1 139.2L99.2 137.4L95.3 136.3L90.2 137.8Z" stroke="#513cb1"/><path d="M198.6 114.1L203.7 124.0L199.8 115.3L194.7 102.1Z" stroke="none"/><path d="M194.7 102.1L198.6 114.1L203.7 124.0" stroke="#4293f8" fill="none"/><path d="M203.7 124.0L199.8 115.3" stroke="#5a69f9"/><path d="M194.7 102.1L199.8 115.3" stroke="#33b2e3"/><path d="M62.3 139.9L67.3 138.8L63.4 137.3L58.4 138.4Z" stroke="#513cb1"/><path d="M166.8 58.1L171.8 52.4L167.9 59.9L162.9 71.9Z" stroke="none"/><path d="M162.9 71.9L166.8 58.1L171.8 52.4" stroke="#fdd445" fill="none"/><path d="M171.8 52.4L167.9 59.9" stroke="#f6e63d"/><path d="M162.9 71.9L167.9 59.9" stroke="#c0ca45"/><path d="M271.3 140.3L276.3 139.2L272.4 137.7L267.4 138.8Z" stroke="#513cb1"/><path d="M134.9 136.2L140.0 132.5L136.1 134.9L131.0 137.1Z" stroke="none"/><path d="M131.0 137.1L134.9 136.2L140.0 132.5" stroke="#5647d0" fill="none"/><path d="M140.0 132.5L136.1 134.9" stroke="#584bd9"/><path d="M131.0 137.1L136.1 134.9" stroke="#533fbc"/><path d="M239.4 140.3L244.5 139.2L240.6 137.8L235.5 138.8Z" stroke="#513cb1"/><path d="M103.1 138.4L108.1 137.0L104.2 136.2L99.2 137.4Z" stroke="#533fbc"/><path d="M207.6 131.6L212.6 135.1L208.7 130.5L203.7 124.0Z" stroke="none"/><path d="M203.7 124.0L207.6 131.6L212.6 135.1" stroke="#5954e8" fill="none"/><path d="M212.6 135.1L208.7 130.5" stroke="#5647d0"/><path d="M203.7 124.0L208.7 130.5" stroke="#5a69f9"/><path d="M71.2 140.2L76.2 139.1L72.3 137.7L67.3 138.8Z" stroke="#513cb1"/><path d="M175.7 50.3L180.8 59.7L176.9 56.4L171.8 52.4Z" stroke="none"/><path d="M171.8 52.4L175.7 50.3L180.8 59.7" stroke="#f8f632" fill="none"/><path d="M180.8 59.7L176.9 56.4" stroke="#fecf48"/><path d="M171.8 52.4L176.9 56.4" stroke="#f6e63d"/><path d="M280.2 140.6L285.3 139.5L281.4 138.1L276.3 139.2Z" stroke="#513cb1"/><path d="M143.9 126.9L148.9 117.3L145.0 126.2L140.0 132.5Z" stroke="none"/><path d="M140.0 132.5L143.9 126.9L148.9 117.3" stroke="#5a64f5" fill="none"/><path d="M148.9 117.3L145.0 126.2" stroke="#4c83fe"/><path d="M140.0 132.5L145.0 126.2" stroke="#584bd9"/><path d="M248.4 140.7L253.4 139.6L249.5 138.1L244.5 139.2Z" stroke="#513cb1"/><path d="M112.0 137.5L117.0 137.3L113.1 136.7L108.1 137.0Z" stroke="#5543c6"/><path d="M216.5 138.6L221.6 138.8L217.7 136.5L212.6 135.1Z" stroke="none"/><path d="M212.6 135.1L216.5 138.6L221.6 138.8" stroke="#533fbc" fill="none"/><path d="M221.6 138.8L217.7 136.5" stroke="#533fbc"/><path d="M212.6 135.1L217.7 136.5" stroke="#5647d0"/><path d="M80.1 140.5L85.2 139.3L81.3 137.9L76.2 139.1Z" stroke="#513cb1"/><path d="M184.6 70.2L189.7 86.2L185.8 74.8L180.8 59.7Z" stroke="none"/><path d="M180.8 59.7L184.6 70.2L189.7 86.2" stroke="#d6c63d" fill="none"/><path d="M189.7 86.2L185.8 74.8" stroke="#52cf99"/><path d="M180.8 59.7L185.8 74.8" stroke="#fecf48"/><path d="M289.2 141.0L294.2 139.9L290.3 138.4L285.3 139.5Z" stroke="#513cb1"/><path d="M152.8 104.4L157.8 88.1L153.9 103.7L148.9 117.3Z" stroke="none"/><path d="M148.9 117.3L152.8 104.4L157.8 88.1" stroke="#33b2e3" fill="none"/><path d="M157.8 88.1L153.9 103.7" stroke="#46cca9"/><path d="M148.9 117.3L153.9 103.7" stroke="#4c83fe"/><path d="M257.3 141.0L262.3 139.9L258.5 138.5L253.4 139.6Z" stroke="#513cb1"/><path d="M120.9 137.5L126.0 137.9L122.1 137.5L117.0 137.3Z" stroke="#5543c6"/><path d="M225.4 140.7L230.5 139.8L226.6 138.2L221.6 138.8Z" stroke="#513cb1"/><path d="M89.1 140.8L94.1 139.2L90.2 137.8L85.2 139.3Z" stroke="#513cb1"/><path d="M193.6 101.5L198.6 114.1L194.7 102.1L189.7 86.2Z" stroke="none"/><path d="M189.7 86.2L193.6 101.5L198.6 114.1" stroke="#29b9da" fill="none"/><path d="M198.6 114.1L194.7 102.1" stroke="#4293f8"/><path d="M189.7 86.2L194.7 102.1" stroke="#52cf99"/><path d="M161.7 72.5L166.8 58.1L162.9 71.9L157.8 88.1Z" stroke="none"/><path d="M157.8 88.1L161.7 72.5L166.8 58.1" stroke="#cbc83f" fill="none"/><path d="M166.8 58.1L162.9 71.9" stroke="#fdd445"/><path d="M157.8 88.1L162.9 71.9" stroke="#46cca9"/><path d="M266.2 141.4L271.3 140.3L267.4 138.8L262.3 139.9Z" stroke="#513cb1"/><path d="M129.9 137.4L134.9 136.2L131.0 137.1L126.0 137.9Z" stroke="none"/><path d="M126.0 137.9L129.9 137.4L134.9 136.2" stroke="#5647d0" fill="none"/><path d="M134.9 136.2L131.0 137.1" stroke="#5647d0"/><path d="M126.0 137.9L131.0 137.1" stroke="#533fbc"/><path d="M234.4 141.4L239.4 140.3L235.5 138.8L230.5 139.8Z" stroke="#513cb1"/><path d="M98.0 140.6L103.1 138.4L99.2 137.4L94.1 139.2Z" stroke="#513cb1"/><path d="M202.5 125.7L207.6 131.6L203.7 124.0L198.6 114.1Z" stroke="none"/><path d="M198.6 114.1L202.5 125.7L207.6 131.6" stroke="#596efb" fill="none"/><path d="M207.6 131.6L203.7 124.0" stroke="#5954e8"/><path d="M198.6 114.1L203.7 124.0" stroke="#4293f8"/><path d="M66.2 141.3L71.2 140.2L67.3 138.8L62.3 139.9Z" stroke="#513cb1"/><path d="M170.7 51.4L175.7 50.3L171.8 52.4L166.8 58.1Z" stroke="none"/><path d="M166.8 58.1L170.7 51.4L175.7 50.3" stroke="#f8f632" fill="none"/><path d="M175.7 50.3L171.8 52.4" stroke="#f8f632"/><path d="M166.8 58.1L171.8 52.4" stroke="#fdd445"/><path d="M275.2 141.7L280.2 140.6L276.3 139.2L271.3 140.3Z" stroke="#513cb1"/><path d="M138.8 133.1L143.9 126.9L140.0 132.5L134.9 136.2Z" stroke="none"/><path d="M134.9 136.2L138.8 133.1L143.9 126.9" stroke="#5954e8" fill="none"/><path d="M143.9 126.9L140.0 132.5" stroke="#5a64f5"/><path d="M134.9 136.2L140.0 132.5" stroke="#5647d0"/><path d="M243.3 141.7L248.4 140.7L244.5 139.2L239.4 140.3Z" stroke="#513cb1"/><path d="M106.9 139.5L112.0 137.5L108.1 137.0L103.1 138.4Z" stroke="#533fbc"/><path d="M211.5 137.4L216.5 138.6L212.6 135.1L207.6 131.6Z" stroke="none"/><path d="M207.6 131.6L211.5 137.4L216.5 138.6" stroke="#5647d0" fill="none"/><path d="M216.5 138.6L212.6 135.1" stroke="#533fbc"/><path d="M207.6 131.6L212.6 135.1" stroke="#5954e8"/><path d="M75.1 141.7L80.1 140.5L76.2 139.1L71.2 140.2Z" stroke="#513cb1"/><path d="M179.6 58.8L184.6 70.2L180.8 59.7L175.7 50.3Z" stroke="none"/><path d="M175.7 50.3L179.6 58.8L184.6 70.2" stroke="#fada42" fill="none"/><path d="M184.6 70.2L180.8 59.7" stroke="#d6c63d"/><path d="M175.7 50.3L180.8 59.7" stroke="#f8f632"/><path d="M284.1 142.0L289.2 141.0L285.3 139.5L280.2 140.6Z" stroke="#513cb1"/><path d="M147.7 118.4L152.8 104.4L148.9 117.3L143.9 126.9Z" stroke="none"/><path d="M143.9 126.9L147.7 118.4L152.8 104.4" stroke="#4789fd" fill="none"/><path d="M152.8 104.4L148.9 117.3" stroke="#33b2e3"/><path d="M143.9 126.9L148.9 117.3" stroke="#5a64f5"/><path d="M252.3 142.1L257.3 141.0L253.4 139.6L248.4 140.7Z" stroke="#513cb1"/><path d="M115.9 138.0L120.9 137.5L117.0 137.3L112.0 137.5Z" stroke="#5647d0"/><path d="M220.4 141.3L225.4 140.7L221.6 138.8L216.5 138.6Z" stroke="#533fbc"/><path d="M84.0 142.0L89.1 140.8L85.2 139.3L80.1 140.5Z" stroke="#513cb1"/><path d="M188.5 88.0L193.6 101.5L189.7 86.2L184.6 70.2Z" stroke="none"/><path d="M184.6 70.2L188.5 88.0L193.6 101.5" stroke="#52cf99" fill="none"/><path d="M193.6 101.5L189.7 86.2" stroke="#29b9da"/><path d="M184.6 70.2L189.7 86.2" stroke="#d6c63d"/><path d="M293.1 142.4L298.1 141.3L294.2 139.9L289.2 141.0Z" stroke="#513cb1"/><path d="M156.7 91.4L161.7 72.5L157.8 88.1L152.8 104.4Z" stroke="none"/><path d="M152.8 104.4L156.7 91.4L161.7 72.5" stroke="#46cca9" fill="none"/><path d="M161.7 72.5L157.8 88.1" stroke="#cbc83f"/><path d="M152.8 104.4L157.8 88.1" stroke="#33b2e3"/><path d="M261.2 142.4L266.2 141.4L262.3 139.9L257.3 141.0Z" stroke="#513cb1"/><path d="M124.8 137.1L129.9 137.4L126.0 137.9L120.9 137.5Z" stroke="none"/><path d="M120.9 137.5L124.8 137.1L129.9 137.4" stroke="#584bd9" fill="none"/><path d="M129.9 137.4L126.0 137.9" stroke="#5647d0"/><path d="M120.9 137.5L126.0 137.9" stroke="#5543c6"/><path d="M229.3 142.4L234.4 141.4L230.5 139.8L225.4 140.7Z" stroke="#513cb1"/><path d="M93.0 142.2L98.0 140.6L94.1 139.2L89.1 140.8Z" stroke="#513cb1"/><path d="M197.5 117.5L202.5 125.7L198.6 114.1L193.6 101.5Z" stroke="none"/><path d="M193.6 101.5L197.5 117.5L202.5 125.7" stroke="#448efa" fill="none"/><path d="M202.5 125.7L198.6 114.1" stroke="#596efb"/><path d="M193.6 101.5L198.6 114.1" stroke="#29b9da"/><path d="M165.6 64.0L170.7 51.4L166.8 58.1L161.7 72.5Z" stroke="none"/><path d="M161.7 72.5L165.6 64.0L170.7 51.4" stroke="#fec94c" fill="none"/><path d="M170.7 51.4L166.8 58.1" stroke="#f8f632"/><path d="M161.7 72.5L166.8 58.1" stroke="#cbc83f"/><path d="M270.1 142.8L275.2 141.7L271.3 140.3L266.2 141.4Z" stroke="#513cb1"/><path d="M133.8 135.7L138.8 133.1L134.9 136.2L129.9 137.4Z" stroke="none"/><path d="M129.9 137.4L133.8 135.7L138.8 133.1" stroke="#594fe1" fill="none"/><path d="M138.8 133.1L134.9 136.2" stroke="#5954e8"/><path d="M129.9 137.4L134.9 136.2" stroke="#5647d0"/><path d="M238.3 142.8L243.3 141.7L239.4 140.3L234.4 141.4Z" stroke="#513cb1"/><path d="M101.9 142.0L106.9 139.5L103.1 138.4L98.0 140.6Z" stroke="#513cb1"/><path d="M206.4 134.9L211.5 137.4L207.6 131.6L202.5 125.7Z" stroke="none"/><path d="M202.5 125.7L206.4 134.9L211.5 137.4" stroke="#5954e8" fill="none"/><path d="M211.5 137.4L207.6 131.6" stroke="#5647d0"/><path d="M202.5 125.7L207.6 131.6" stroke="#596efb"/><path d="M70.0 142.8L75.1 141.7L71.2 140.2L66.2 141.3Z" stroke="#513cb1"/><path d="M174.6 57.0L179.6 58.8L175.7 50.3L170.7 51.4Z" stroke="none"/><path d="M170.7 51.4L174.6 57.0L179.6 58.8" stroke="#f6e63d" fill="none"/><path d="M179.6 58.8L175.7 50.3" stroke="#fada42"/><path d="M170.7 51.4L175.7 50.3" stroke="#f8f632"/><path d="M279.1 143.1L284.1 142.0L280.2 140.6L275.2 141.7Z" stroke="#513cb1"/><path d="M142.7 128.3L147.7 118.4L143.9 126.9L138.8 133.1Z" stroke="none"/><path d="M138.8 133.1L142.7 128.3L147.7 118.4" stroke="#5a69f9" fill="none"/><path d="M147.7 118.4L143.9 126.9" stroke="#4789fd"/><path d="M138.8 133.1L143.9 126.9" stroke="#5954e8"/><path d="M247.2 143.2L252.3 142.1L248.4 140.7L243.3 141.7Z" stroke="#513cb1"/><path d="M110.8 140.7L115.9 138.0L112.0 137.5L106.9 139.5Z" stroke="none"/><path d="M106.9 139.5L110.8 140.7L115.9 138.0" stroke="#5543c6" fill="none"/><path d="M115.9 138.0L112.0 137.5" stroke="#5647d0"/><path d="M106.9 139.5L112.0 137.5" stroke="#533fbc"/><path d="M215.4 141.4L220.4 141.3L216.5 138.6L211.5 137.4Z" stroke="none"/><path d="M211.5 137.4L215.4 141.4L220.4 141.3" stroke="#533fbc" fill="none"/><path d="M220.4 141.3L216.5 138.6" stroke="#533fbc"/><path d="M211.5 137.4L216.5 138.6" stroke="#5647d0"/><path d="M79.0 143.1L84.0 142.0L80.1 140.5L75.1 141.7Z" stroke="#513cb1"/><path d="M183.5 77.1L188.5 88.0L184.6 70.2L179.6 58.8Z" stroke="none"/><path d="M179.6 58.8L183.5 77.1L188.5 88.0" stroke="#b4cc4d" fill="none"/><path d="M188.5 88.0L184.6 70.2" stroke="#52cf99"/><path d="M179.6 58.8L184.6 70.2" stroke="#fada42"/><path d="M288.0 143.5L293.1 142.4L289.2 141.0L284.1 142.0Z" stroke="#513cb1"/><path d="M151.6 109.8L156.7 91.4L152.8 104.4L147.7 118.4Z" stroke="none"/><path d="M147.7 118.4L151.6 109.8L156.7 91.4" stroke="#39aae7" fill="none"/><path d="M156.7 91.4L152.8 104.4" stroke="#46cca9"/><path d="M147.7 118.4L152.8 104.4" stroke="#4789fd"/><path d="M256.2 143.5L261.2 142.4L257.3 141.0L252.3 142.1Z" stroke="#513cb1"/><path d="M119.8 138.4L124.8 137.1L120.9 137.5L115.9 138.0Z" stroke="#5647d0"/><path d="M224.3 143.3L229.3 142.4L225.4 140.7L220.4 141.3Z" stroke="#513cb1"/><path d="M87.9 143.4L93.0 142.2L89.1 140.8L84.0 142.0Z" stroke="#513cb1"/><path d="M192.4 108.0L197.5 117.5L193.6 101.5L188.5 88.0Z" stroke="none"/><path d="M188.5 88.0L192.4 108.0L197.5 117.5" stroke="#36aee5" fill="none"/><path d="M197.5 117.5L193.6 101.5" stroke="#448efa"/><path d="M188.5 88.0L193.6 101.5" stroke="#52cf99"/><path d="M160.6 84.1L165.6 64.0L161.7 72.5L156.7 91.4Z" stroke="none"/><path d="M156.7 91.4L160.6 84.1L165.6 64.0" stroke="#80d273" fill="none"/><path d="M165.6 64.0L161.7 72.5" stroke="#fec94c"/><path d="M156.7 91.4L161.7 72.5" stroke="#46cca9"/><path d="M265.1 143.9L270.1 142.8L266.2 141.4L261.2 142.4Z" stroke="#513cb1"/><path d="M128.7 136.2L133.8 135.7L129.9 137.4L124.8 137.1Z" stroke="#594fe1"/><path d="M233.2 143.9L238.3 142.8L234.4 141.4L229.3 142.4Z" stroke="#513cb1"/><path d="M96.9 143.7L101.9 142.0L98.0 140.6L93.0 142.2Z" stroke="#513cb1"/><path d="M201.4 130.7L206.4 134.9L202.5 125.7L197.5 117.5Z" stroke="none"/><path d="M197.5 117.5L201.4 130.7L206.4 134.9" stroke="#5a64f5" fill="none"/><path d="M206.4 134.9L202.5 125.7" stroke="#5954e8"/><path d="M197.5 117.5L202.5 125.7" stroke="#448efa"/><path d="M169.5 66.8L174.6 57.0L170.7 51.4L165.6 64.0Z" stroke="none"/><path d="M165.6 64.0L169.5 66.8L174.6 57.0" stroke="#fec450" fill="none"/><path d="M174.6 57.0L170.7 51.4" stroke="#f6e63d"/><path d="M165.6 64.0L170.7 51.4" stroke="#fec94c"/><path d="M274.0 144.2L279.1 143.1L275.2 141.7L270.1 142.8Z" stroke="#513cb1"/><path d="M137.7 132.9L142.7 128.3L138.8 133.1L133.8 135.7Z" stroke="none"/><path d="M133.8 135.7L137.7 132.9L142.7 128.3" stroke="#5a5ef2" fill="none"/><path d="M142.7 128.3L138.8 133.1" stroke="#5a69f9"/><path d="M133.8 135.7L138.8 133.1" stroke="#594fe1"/><path d="M242.2 144.3L247.2 143.2L243.3 141.7L238.3 142.8Z" stroke="#513cb1"/><path d="M105.8 143.5L110.8 140.7L106.9 139.5L101.9 142.0Z" stroke="none"/><path d="M101.9 142.0L105.8 143.5L110.8 140.7" stroke="#513cb1" fill="none"/><path d="M110.8 140.7L106.9 139.5" stroke="#5543c6"/><path d="M101.9 142.0L106.9 139.5" stroke="#513cb1"/><path d="M210.3 140.9L215.4 141.4L211.5 137.4L206.4 134.9Z" stroke="none"/><path d="M206.4 134.9L210.3 140.9L215.4 141.4" stroke="#5543c6" fill="none"/><path d="M215.4 141.4L211.5 137.4" stroke="#533fbc"/><path d="M206.4 134.9L211.5 137.4" stroke="#5954e8"/><path d="M73.9 144.2L79.0 143.1L75.1 141.7L70.0 142.8Z" stroke="#513cb1"/><path d="M178.5 73.1L183.5 77.1L179.6 58.8L174.6 57.0Z" stroke="none"/><path d="M174.6 57.0L178.5 73.1L183.5 77.1" stroke="#e0c33e" fill="none"/><path d="M183.5 77.1L179.6 58.8" stroke="#b4cc4d"/><path d="M174.6 57.0L179.6 58.8" stroke="#f6e63d"/><path d="M283.0 144.6L288.0 143.5L284.1 142.0L279.1 143.1Z" stroke="#513cb1"/><path d="M146.6 123.4L151.6 109.8L147.7 118.4L142.7 128.3Z" stroke="none"/><path d="M142.7 128.3L146.6 123.4L151.6 109.8" stroke="#517eff" fill="none"/><path d="M151.6 109.8L147.7 118.4" stroke="#39aae7"/><path d="M142.7 128.3L147.7 118.4" stroke="#5a69f9"/><path d="M251.1 144.6L256.2 143.5L252.3 142.1L247.2 143.2Z" stroke="#513cb1"/><path d="M114.7 142.0L119.8 138.4L115.9 138.0L110.8 140.7Z" stroke="#5543c6"/><path d="M219.2 144.1L224.3 143.3L220.4 141.3L215.4 141.4Z" stroke="#513cb1"/><path d="M82.9 144.6L87.9 143.4L84.0 142.0L79.0 143.1Z" stroke="#513cb1"/><path d="M187.4 98.9L192.4 108.0L188.5 88.0L183.5 77.1Z" stroke="none"/><path d="M183.5 77.1L187.4 98.9L192.4 108.0" stroke="#23c4c3" fill="none"/><path d="M192.4 108.0L188.5 88.0" stroke="#36aee5"/><path d="M183.5 77.1L188.5 88.0" stroke="#b4cc4d"/><path d="M155.5 105.1L160.6 84.1L156.7 91.4L151.6 109.8Z" stroke="none"/><path d="M151.6 109.8L155.5 105.1L160.6 84.1" stroke="#29b9da" fill="none"/><path d="M160.6 84.1L156.7 91.4" stroke="#80d273"/><path d="M151.6 109.8L156.7 91.4" stroke="#39aae7"/><path d="M260.0 145.0L265.1 143.9L261.2 142.4L256.2 143.5Z" stroke="#513cb1"/><path d="M123.7 138.9L128.7 136.2L124.8 137.1L119.8 138.4Z" stroke="none"/><path d="M119.8 138.4L123.7 138.9L128.7 136.2" stroke="#584bd9" fill="none"/><path d="M128.7 136.2L124.8 137.1" stroke="#594fe1"/><path d="M119.8 138.4L124.8 137.1" stroke="#5647d0"/><path d="M228.2 145.0L233.2 143.9L229.3 142.4L224.3 143.3Z" stroke="#513cb1"/><path d="M91.8 144.9L96.9 143.7L93.0 142.2L87.9 143.4Z" stroke="#513cb1"/><path d="M196.3 125.0L201.4 130.7L197.5 117.5L192.4 108.0Z" stroke="none"/><path d="M192.4 108.0L196.3 125.0L201.4 130.7" stroke="#517eff" fill="none"/><path d="M201.4 130.7L197.5 117.5" stroke="#5a64f5"/><path d="M192.4 108.0L197.5 117.5" stroke="#36aee5"/><path d="M164.5 85.2L169.5 66.8L165.6 64.0L160.6 84.1Z" stroke="none"/><path d="M160.6 84.1L164.5 85.2L169.5 66.8" stroke="#80d273" fill="none"/><path d="M169.5 66.8L165.6 64.0" stroke="#fec450"/><path d="M160.6 84.1L165.6 64.0" stroke="#80d273"/><path d="M269.0 145.3L274.0 144.2L270.1 142.8L265.1 143.9Z" stroke="#513cb1"/><path d="M132.6 135.1L137.7 132.9L133.8 135.7L128.7 136.2Z" stroke="none"/><path d="M128.7 136.2L132.6 135.1L137.7 132.9" stroke="#5a59ed" fill="none"/><path d="M137.7 132.9L133.8 135.7" stroke="#5a5ef2"/><path d="M128.7 136.2L133.8 135.7" stroke="#594fe1"/><path d="M237.1 145.4L242.2 144.3L238.3 142.8L233.2 143.9Z" stroke="#513cb1"/><path d="M100.8 145.2L105.8 143.5L101.9 142.0L96.9 143.7Z" stroke="#513cb1"/><path d="M205.3 139.5L210.3 140.9L206.4 134.9L201.4 130.7Z" stroke="none"/><path d="M201.4 130.7L205.3 139.5L210.3 140.9" stroke="#584bd9" fill="none"/><path d="M210.3 140.9L206.4 134.9" stroke="#5543c6"/><path d="M201.4 130.7L206.4 134.9" stroke="#5a64f5"/><path d="M173.4 78.5L178.5 73.1L174.6 57.0L169.5 66.8Z" stroke="none"/><path d="M169.5 66.8L173.4 78.5L178.5 73.1" stroke="#c0ca45" fill="none"/><path d="M178.5 73.1L174.6 57.0" stroke="#e0c33e"/><path d="M169.5 66.8L174.6 57.0" stroke="#fec450"/><path d="M277.9 145.7L283.0 144.6L279.1 143.1L274.0 144.2Z" stroke="#513cb1"/><path d="M141.5 130.3L146.6 123.4L142.7 128.3L137.7 132.9Z" stroke="none"/><path d="M137.7 132.9L141.5 130.3L146.6 123.4" stroke="#5a69f9" fill="none"/><path d="M146.6 123.4L142.7 128.3" stroke="#517eff"/><path d="M137.7 132.9L142.7 128.3" stroke="#5a5ef2"/><path d="M246.1 145.7L251.1 144.6L247.2 143.2L242.2 144.3Z" stroke="#513cb1"/><path d="M109.7 145.0L114.7 142.0L110.8 140.7L105.8 143.5Z" stroke="none"/><path d="M105.8 143.5L109.7 145.0L114.7 142.0" stroke="#513cb1" fill="none"/><path d="M114.7 142.0L110.8 140.7" stroke="#5543c6"/><path d="M105.8 143.5L110.8 140.7" stroke="#513cb1"/><path d="M214.2 144.6L219.2 144.1L215.4 141.4L210.3 140.9Z" stroke="none"/><path d="M210.3 140.9L214.2 144.6L219.2 144.1" stroke="#533fbc" fill="none"/><path d="M219.2 144.1L215.4 141.4" stroke="#513cb1"/><path d="M210.3 140.9L215.4 141.4" stroke="#5543c6"/><path d="M77.8 145.6L82.9 144.6L79.0 143.1L73.9 144.2Z" stroke="#513cb1"/><path d="M182.3 93.0L187.4 98.9L183.5 77.1L178.5 73.1Z" stroke="none"/><path d="M178.5 73.1L182.3 93.0L187.4 98.9" stroke="#4bcda1" fill="none"/><path d="M187.4 98.9L183.5 77.1" stroke="#23c4c3"/><path d="M178.5 73.1L183.5 77.1" stroke="#e0c33e"/><path d="M150.5 120.8L155.5 105.1L151.6 109.8L146.6 123.4Z" stroke="none"/><path d="M146.6 123.4L150.5 120.8L155.5 105.1" stroke="#448efa" fill="none"/><path d="M155.5 105.1L151.6 109.8" stroke="#29b9da"/><path d="M146.6 123.4L151.6 109.8" stroke="#517eff"/><path d="M255.0 146.1L260.0 145.0L256.2 143.5L251.1 144.6Z" stroke="#513cb1"/><path d="M118.6 143.4L123.7 138.9L119.8 138.4L114.7 142.0Z" stroke="none"/><path d="M114.7 142.0L118.6 143.4L123.7 138.9" stroke="#5543c6" fill="none"/><path d="M123.7 138.9L119.8 138.4" stroke="#584bd9"/><path d="M114.7 142.0L119.8 138.4" stroke="#5543c6"/><path d="M223.1 146.0L228.2 145.0L224.3 143.3L219.2 144.1Z" stroke="#513cb1"/><path d="M86.8 146.0L91.8 144.9L87.9 143.4L82.9 144.6Z" stroke="#513cb1"/><path d="M191.3 118.0L196.3 125.0L192.4 108.0L187.4 98.9Z" stroke="none"/><path d="M187.4 98.9L191.3 118.0L196.3 125.0" stroke="#4298f4" fill="none"/><path d="M196.3 125.0L192.4 108.0" stroke="#517eff"/><path d="M187.4 98.9L192.4 108.0" stroke="#23c4c3"/><path d="M159.4 105.6L164.5 85.2L160.6 84.1L155.5 105.1Z" stroke="none"/><path d="M155.5 105.1L159.4 105.6L164.5 85.2" stroke="#20bcd5" fill="none"/><path d="M164.5 85.2L160.6 84.1" stroke="#80d273"/><path d="M155.5 105.1L160.6 84.1" stroke="#29b9da"/><path d="M263.9 146.4L269.0 145.3L265.1 143.9L260.0 145.0Z" stroke="#513cb1"/><path d="M127.6 139.6L132.6 135.1L128.7 136.2L123.7 138.9Z" stroke="none"/><path d="M123.7 138.9L127.6 139.6L132.6 135.1" stroke="#594fe1" fill="none"/><path d="M132.6 135.1L128.7 136.2" stroke="#5a59ed"/><path d="M123.7 138.9L128.7 136.2" stroke="#584bd9"/><path d="M232.1 146.5L237.1 145.4L233.2 143.9L228.2 145.0Z" stroke="#513cb1"/><path d="M95.7 146.3L100.8 145.2L96.9 143.7L91.8 144.9Z" stroke="#513cb1"/><path d="M200.2 136.6L205.3 139.5L201.4 130.7L196.3 125.0Z" stroke="none"/><path d="M196.3 125.0L200.2 136.6L205.3 139.5" stroke="#5a59ed" fill="none"/><path d="M205.3 139.5L201.4 130.7" stroke="#584bd9"/><path d="M196.3 125.0L201.4 130.7" stroke="#517eff"/><path d="M168.4 92.2L173.4 78.5L169.5 66.8L164.5 85.2Z" stroke="none"/><path d="M164.5 85.2L168.4 92.2L173.4 78.5" stroke="#52cf99" fill="none"/><path d="M173.4 78.5L169.5 66.8" stroke="#c0ca45"/><path d="M164.5 85.2L169.5 66.8" stroke="#80d273"/><path d="M272.9 146.8L277.9 145.7L274.0 144.2L269.0 145.3Z" stroke="#513cb1"/><path d="M136.5 134.5L141.5 130.3L137.7 132.9L132.6 135.1Z" stroke="none"/><path d="M132.6 135.1L136.5 134.5L141.5 130.3" stroke="#5a5ef2" fill="none"/><path d="M141.5 130.3L137.7 132.9" stroke="#5a69f9"/><path d="M132.6 135.1L137.7 132.9" stroke="#5a59ed"/><path d="M241.0 146.8L246.1 145.7L242.2 144.3L237.1 145.4Z" stroke="#513cb1"/><path d="M104.6 146.6L109.7 145.0L105.8 143.5L100.8 145.2Z" stroke="#513cb1"/><path d="M209.2 144.6L214.2 144.6L210.3 140.9L205.3 139.5Z" stroke="none"/><path d="M205.3 139.5L209.2 144.6L214.2 144.6" stroke="#5543c6" fill="none"/><path d="M214.2 144.6L210.3 140.9" stroke="#533fbc"/><path d="M205.3 139.5L210.3 140.9" stroke="#584bd9"/><path d="M177.3 93.2L182.3 93.0L178.5 73.1L173.4 78.5Z" stroke="none"/><path d="M173.4 78.5L177.3 93.2L182.3 93.0" stroke="#52cf99" fill="none"/><path d="M182.3 93.0L178.5 73.1" stroke="#4bcda1"/><path d="M173.4 78.5L178.5 73.1" stroke="#c0ca45"/><path d="M145.4 128.9L150.5 120.8L146.6 123.4L141.5 130.3Z" stroke="none"/><path d="M141.5 130.3L145.4 128.9L150.5 120.8" stroke="#5773fd" fill="none"/><path d="M150.5 120.8L146.6 123.4" stroke="#448efa"/><path d="M141.5 130.3L146.6 123.4" stroke="#5a69f9"/><path d="M250.0 147.2L255.0 146.1L251.1 144.6L246.1 145.7Z" stroke="#513cb1"/><path d="M113.6 146.5L118.6 143.4L114.7 142.0L109.7 145.0Z" stroke="none"/><path d="M109.7 145.0L113.6 146.5L118.6 143.4" stroke="#513cb1" fill="none"/><path d="M118.6 143.4L114.7 142.0" stroke="#5543c6"/><path d="M109.7 145.0L114.7 142.0" stroke="#513cb1"/><path d="M218.1 146.9L223.1 146.0L219.2 144.1L214.2 144.6Z" stroke="#513cb1"/><path d="M81.7 147.1L86.8 146.0L82.9 144.6L77.8 145.6Z" stroke="#513cb1"/><path d="M186.2 111.2L191.3 118.0L187.4 98.9L182.3 93.0Z" stroke="none"/><path d="M182.3 93.0L186.2 111.2L191.3 118.0" stroke="#33b2e3" fill="none"/><path d="M191.3 118.0L187.4 98.9" stroke="#4298f4"/><path d="M182.3 93.0L187.4 98.9" stroke="#4bcda1"/><path d="M154.4 120.9L159.4 105.6L155.5 105.1L150.5 120.8Z" stroke="none"/><path d="M150.5 120.8L154.4 120.9L159.4 105.6" stroke="#4293f8" fill="none"/><path d="M159.4 105.6L155.5 105.1" stroke="#20bcd5"/><path d="M150.5 120.8L155.5 105.1" stroke="#448efa"/><path d="M258.9 147.5L263.9 146.4L260.0 145.0L255.0 146.1Z" stroke="#513cb1"/><path d="M122.5 144.9L127.6 139.6L123.7 138.9L118.6 143.4Z" stroke="none"/><path d="M118.6 143.4L122.5 144.9L127.6 139.6" stroke="#5543c6" fill="none"/><path d="M127.6 139.6L123.7 138.9" stroke="#594fe1"/><path d="M118.6 143.4L123.7 138.9" stroke="#5543c6"/><path d="M227.0 147.5L232.1 146.5L228.2 145.0L223.1 146.0Z" stroke="#513cb1"/><path d="M90.7 147.4L95.7 146.3L91.8 144.9L86.8 146.0Z" stroke="#513cb1"/><path d="M195.2 131.9L200.2 136.6L196.3 125.0L191.3 118.0Z" stroke="none"/><path d="M191.3 118.0L195.2 131.9L200.2 136.6" stroke="#596efb" fill="none"/><path d="M200.2 136.6L196.3 125.0" stroke="#5a59ed"/><path d="M191.3 118.0L196.3 125.0" stroke="#4298f4"/><path d="M163.3 109.0L168.4 92.2L164.5 85.2L159.4 105.6Z" stroke="none"/><path d="M159.4 105.6L163.3 109.0L168.4 92.2" stroke="#29b9da" fill="none"/><path d="M168.4 92.2L164.5 85.2" stroke="#52cf99"/><path d="M159.4 105.6L164.5 85.2" stroke="#20bcd5"/><path d="M267.8 147.9L272.9 146.8L269.0 145.3L263.9 146.4Z" stroke="#513cb1"/><path d="M131.5 140.9L136.5 134.5L132.6 135.1L127.6 139.6Z" stroke="none"/><path d="M127.6 139.6L131.5 140.9L136.5 134.5" stroke="#594fe1" fill="none"/><path d="M136.5 134.5L132.6 135.1" stroke="#5a5ef2"/><path d="M127.6 139.6L132.6 135.1" stroke="#594fe1"/><path d="M236.0 147.9L241.0 146.8L237.1 145.4L232.1 146.5Z" stroke="#513cb1"/><path d="M99.6 147.8L104.6 146.6L100.8 145.2L95.7 146.3Z" stroke="#513cb1"/><path d="M204.1 143.6L209.2 144.6L205.3 139.5L200.2 136.6Z" stroke="none"/><path d="M200.2 136.6L204.1 143.6L209.2 144.6" stroke="#5647d0" fill="none"/><path d="M209.2 144.6L205.3 139.5" stroke="#5543c6"/><path d="M200.2 136.6L205.3 139.5" stroke="#5a59ed"/><path d="M172.3 100.8L177.3 93.2L173.4 78.5L168.4 92.2Z" stroke="none"/><path d="M168.4 92.2L172.3 100.8L177.3 93.2" stroke="#30c6bd" fill="none"/><path d="M177.3 93.2L173.4 78.5" stroke="#52cf99"/><path d="M168.4 92.2L173.4 78.5" stroke="#52cf99"/><path d="M140.4 135.0L145.4 128.9L141.5 130.3L136.5 134.5Z" stroke="none"/><path d="M136.5 134.5L140.4 135.0L145.4 128.9" stroke="#5a64f5" fill="none"/><path d="M145.4 128.9L141.5 130.3" stroke="#5773fd"/><path d="M136.5 134.5L141.5 130.3" stroke="#5a5ef2"/><path d="M244.9 148.3L250.0 147.2L246.1 145.7L241.0 146.8Z" stroke="#513cb1"/><path d="M108.5 148.1L113.6 146.5L109.7 145.0L104.6 146.6Z" stroke="#513cb1"/><path d="M213.1 147.6L218.1 146.9L214.2 144.6L209.2 144.6Z" stroke="none"/><path d="M209.2 144.6L213.1 147.6L218.1 146.9" stroke="#533fbc" fill="none"/><path d="M218.1 146.9L214.2 144.6" stroke="#513cb1"/><path d="M209.2 144.6L214.2 144.6" stroke="#5543c6"/><path d="M181.2 107.5L186.2 111.2L182.3 93.0L177.3 93.2Z" stroke="none"/><path d="M177.3 93.2L181.2 107.5L186.2 111.2" stroke="#20bcd5" fill="none"/><path d="M186.2 111.2L182.3 93.0" stroke="#33b2e3"/><path d="M177.3 93.2L182.3 93.0" stroke="#52cf99"/><path d="M149.3 129.3L154.4 120.9L150.5 120.8L145.4 128.9Z" stroke="none"/><path d="M145.4 128.9L149.3 129.3L154.4 120.9" stroke="#5578fe" fill="none"/><path d="M154.4 120.9L150.5 120.8" stroke="#4293f8"/><path d="M145.4 128.9L150.5 120.8" stroke="#5773fd"/><path d="M253.8 148.6L258.9 147.5L255.0 146.1L250.0 147.2Z" stroke="#513cb1"/><path d="M117.5 148.0L122.5 144.9L118.6 143.4L113.6 146.5Z" stroke="none"/><path d="M113.6 146.5L117.5 148.0L122.5 144.9" stroke="#513cb1" fill="none"/><path d="M122.5 144.9L118.6 143.4" stroke="#5543c6"/><path d="M113.6 146.5L118.6 143.4" stroke="#513cb1"/><path d="M222.0 148.6L227.0 147.5L223.1 146.0L218.1 146.9Z" stroke="#513cb1"/><path d="M85.6 148.5L90.7 147.4L86.8 146.0L81.7 147.1Z" stroke="#513cb1"/><path d="M190.1 125.9L195.2 131.9L191.3 118.0L186.2 111.2Z" stroke="none"/><path d="M186.2 111.2L190.1 125.9L195.2 131.9" stroke="#4789fd" fill="none"/><path d="M195.2 131.9L191.3 118.0" stroke="#596efb"/><path d="M186.2 111.2L191.3 118.0" stroke="#33b2e3"/><path d="M158.3 122.2L163.3 109.0L159.4 105.6L154.4 120.9Z" stroke="none"/><path d="M154.4 120.9L158.3 122.2L163.3 109.0" stroke="#4293f8" fill="none"/><path d="M163.3 109.0L159.4 105.6" stroke="#29b9da"/><path d="M154.4 120.9L159.4 105.6" stroke="#4293f8"/><path d="M262.8 149.0L267.8 147.9L263.9 146.4L258.9 147.5Z" stroke="#513cb1"/><path d="M126.4 146.6L131.5 140.9L127.6 139.6L122.5 144.9Z" stroke="none"/><path d="M122.5 144.9L126.4 146.6L131.5 140.9" stroke="#5543c6" fill="none"/><path d="M131.5 140.9L127.6 139.6" stroke="#594fe1"/><path d="M122.5 144.9L127.6 139.6" stroke="#5543c6"/><path d="M230.9 149.0L236.0 147.9L232.1 146.5L227.0 147.5Z" stroke="#513cb1"/><path d="M94.6 148.9L99.6 147.8L95.7 146.3L90.7 147.4Z" stroke="#513cb1"/><path d="M199.1 141.2L204.1 143.6L200.2 136.6L195.2 131.9Z" stroke="none"/><path d="M195.2 131.9L199.1 141.2L204.1 143.6" stroke="#594fe1" fill="none"/><path d="M204.1 143.6L200.2 136.6" stroke="#5647d0"/><path d="M195.2 131.9L200.2 136.6" stroke="#596efb"/><path d="M167.2 112.7L172.3 100.8L168.4 92.2L163.3 109.0Z" stroke="none"/><path d="M163.3 109.0L167.2 112.7L172.3 100.8" stroke="#33b2e3" fill="none"/><path d="M172.3 100.8L168.4 92.2" stroke="#30c6bd"/><path d="M163.3 109.0L168.4 92.2" stroke="#29b9da"/><path d="M135.4 142.7L140.4 135.0L136.5 134.5L131.5 140.9Z" stroke="none"/><path d="M131.5 140.9L135.4 142.7L140.4 135.0" stroke="#584bd9" fill="none"/><path d="M140.4 135.0L136.5 134.5" stroke="#5a64f5"/><path d="M131.5 140.9L136.5 134.5" stroke="#594fe1"/><path d="M239.9 149.4L244.9 148.3L241.0 146.8L236.0 147.9Z" stroke="#513cb1"/><path d="M103.5 149.2L108.5 148.1L104.6 146.6L99.6 147.8Z" stroke="#513cb1"/><path d="M208.0 147.7L213.1 147.6L209.2 144.6L204.1 143.6Z" stroke="none"/><path d="M204.1 143.6L208.0 147.7L213.1 147.6" stroke="#533fbc" fill="none"/><path d="M213.1 147.6L209.2 144.6" stroke="#533fbc"/><path d="M204.1 143.6L209.2 144.6" stroke="#5647d0"/><path d="M176.1 109.7L181.2 107.5L177.3 93.2L172.3 100.8Z" stroke="none"/><path d="M172.3 100.8L176.1 109.7L181.2 107.5" stroke="#29b9da" fill="none"/><path d="M181.2 107.5L177.3 93.2" stroke="#20bcd5"/><path d="M172.3 100.8L177.3 93.2" stroke="#30c6bd"/><path d="M144.3 136.7L149.3 129.3L145.4 128.9L140.4 135.0Z" stroke="none"/><path d="M140.4 135.0L144.3 136.7L149.3 129.3" stroke="#5a64f5" fill="none"/><path d="M149.3 129.3L145.4 128.9" stroke="#5578fe"/><path d="M140.4 135.0L145.4 128.9" stroke="#5a64f5"/><path d="M248.8 149.7L253.8 148.6L250.0 147.2L244.9 148.3Z" stroke="#513cb1"/><path d="M112.4 149.5L117.5 148.0L113.6 146.5L108.5 148.1Z" stroke="#513cb1"/><path d="M216.9 149.6L222.0 148.6L218.1 146.9L213.1 147.6Z" stroke="#513cb1"/><path d="M185.1 121.0L190.1 125.9L186.2 111.2L181.2 107.5Z" stroke="none"/><path d="M181.2 107.5L185.1 121.0L190.1 125.9" stroke="#409cf0" fill="none"/><path d="M190.1 125.9L186.2 111.2" stroke="#4789fd"/><path d="M181.2 107.5L186.2 111.2" stroke="#20bcd5"/><path d="M153.2 130.5L158.3 122.2L154.4 120.9L149.3 129.3Z" stroke="none"/><path d="M149.3 129.3L153.2 130.5L158.3 122.2" stroke="#5578fe" fill="none"/><path d="M158.3 122.2L154.4 120.9" stroke="#4293f8"/><path d="M149.3 129.3L154.4 120.9" stroke="#5578fe"/><path d="M257.7 150.1L262.8 149.0L258.9 147.5L253.8 148.6Z" stroke="#513cb1"/><path d="M121.4 149.5L126.4 146.6L122.5 144.9L117.5 148.0Z" stroke="none"/><path d="M117.5 148.0L121.4 149.5L126.4 146.6" stroke="#513cb1" fill="none"/><path d="M126.4 146.6L122.5 144.9" stroke="#5543c6"/><path d="M117.5 148.0L122.5 144.9" stroke="#513cb1"/><path d="M225.9 150.1L230.9 149.0L227.0 147.5L222.0 148.6Z" stroke="#513cb1"/><path d="M89.5 150.0L94.6 148.9L90.7 147.4L85.6 148.5Z" stroke="#513cb1"/><path d="M194.0 137.2L199.1 141.2L195.2 131.9L190.1 125.9Z" stroke="none"/><path d="M190.1 125.9L194.0 137.2L199.1 141.2" stroke="#5a64f5" fill="none"/><path d="M199.1 141.2L195.2 131.9" stroke="#594fe1"/><path d="M190.1 125.9L195.2 131.9" stroke="#4789fd"/><path d="M162.2 123.2L167.2 112.7L163.3 109.0L158.3 122.2Z" stroke="none"/><path d="M158.3 122.2L162.2 123.2L167.2 112.7" stroke="#4298f4" fill="none"/><path d="M167.2 112.7L163.3 109.0" stroke="#33b2e3"/><path d="M158.3 122.2L163.3 109.0" stroke="#4293f8"/><path d="M130.3 148.5L135.4 142.7L131.5 140.9L126.4 146.6Z" stroke="none"/><path d="M126.4 146.6L130.3 148.5L135.4 142.7" stroke="#533fbc" fill="none"/><path d="M135.4 142.7L131.5 140.9" stroke="#584bd9"/><path d="M126.4 146.6L131.5 140.9" stroke="#5543c6"/><path d="M234.8 150.5L239.9 149.4L236.0 147.9L230.9 149.0Z" stroke="#513cb1"/><path d="M98.4 150.3L103.5 149.2L99.6 147.8L94.6 148.9Z" stroke="#513cb1"/><path d="M203.0 147.0L208.0 147.7L204.1 143.6L199.1 141.2Z" stroke="none"/><path d="M199.1 141.2L203.0 147.0L208.0 147.7" stroke="#5543c6" fill="none"/><path d="M208.0 147.7L204.1 143.6" stroke="#533fbc"/><path d="M199.1 141.2L204.1 143.6" stroke="#594fe1"/><path d="M171.1 116.7L176.1 109.7L172.3 100.8L167.2 112.7Z" stroke="none"/><path d="M167.2 112.7L171.1 116.7L176.1 109.7" stroke="#39aae7" fill="none"/><path d="M176.1 109.7L172.3 100.8" stroke="#29b9da"/><path d="M167.2 112.7L172.3 100.8" stroke="#33b2e3"/><path d="M139.2 145.0L144.3 136.7L140.4 135.0L135.4 142.7Z" stroke="none"/><path d="M135.4 142.7L139.2 145.0L144.3 136.7" stroke="#584bd9" fill="none"/><path d="M144.3 136.7L140.4 135.0" stroke="#5a64f5"/><path d="M135.4 142.7L140.4 135.0" stroke="#584bd9"/><path d="M243.8 150.8L248.8 149.7L244.9 148.3L239.9 149.4Z" stroke="#513cb1"/><path d="M107.4 150.7L112.4 149.5L108.5 148.1L103.5 149.2Z" stroke="#513cb1"/><path d="M211.9 150.3L216.9 149.6L213.1 147.6L208.0 147.7Z" stroke="#513cb1"/><path d="M180.0 119.9L185.1 121.0L181.2 107.5L176.1 109.7Z" stroke="none"/><path d="M176.1 109.7L180.0 119.9L185.1 121.0" stroke="#3da1ed" fill="none"/><path d="M185.1 121.0L181.2 107.5" stroke="#409cf0"/><path d="M176.1 109.7L181.2 107.5" stroke="#29b9da"/><path d="M148.2 139.1L153.2 130.5L149.3 129.3L144.3 136.7Z" stroke="none"/><path d="M144.3 136.7L148.2 139.1L153.2 130.5" stroke="#5a5ef2" fill="none"/><path d="M153.2 130.5L149.3 129.3" stroke="#5578fe"/><path d="M144.3 136.7L149.3 129.3" stroke="#5a64f5"/><path d="M252.7 151.2L257.7 150.1L253.8 148.6L248.8 149.7Z" stroke="#513cb1"/><path d="M116.3 151.0L121.4 149.5L117.5 148.0L112.4 149.5Z" stroke="#513cb1"/><path d="M220.8 151.2L225.9 150.1L222.0 148.6L216.9 149.6Z" stroke="#513cb1"/><path d="M189.0 133.3L194.0 137.2L190.1 125.9L185.1 121.0Z" stroke="none"/><path d="M185.1 121.0L189.0 133.3L194.0 137.2" stroke="#5773fd" fill="none"/><path d="M194.0 137.2L190.1 125.9" stroke="#5a64f5"/><path d="M185.1 121.0L190.1 125.9" stroke="#409cf0"/><path d="M157.1 131.9L162.2 123.2L158.3 122.2L153.2 130.5Z" stroke="none"/><path d="M153.2 130.5L157.1 131.9L162.2 123.2" stroke="#5578fe" fill="none"/><path d="M162.2 123.2L158.3 122.2" stroke="#4298f4"/><path d="M153.2 130.5L158.3 122.2" stroke="#5578fe"/><path d="M125.3 151.1L130.3 148.5L126.4 146.6L121.4 149.5Z" stroke="#513cb1"/><path d="M229.8 151.6L234.8 150.5L230.9 149.0L225.9 150.1Z" stroke="#513cb1"/><path d="M93.4 151.4L98.4 150.3L94.6 148.9L89.5 150.0Z" stroke="#513cb1"/><path d="M197.9 145.3L203.0 147.0L199.1 141.2L194.0 137.2Z" stroke="none"/><path d="M194.0 137.2L197.9 145.3L203.0 147.0" stroke="#584bd9" fill="none"/><path d="M203.0 147.0L199.1 141.2" stroke="#5543c6"/><path d="M194.0 137.2L199.1 141.2" stroke="#5a64f5"/><path d="M166.1 124.7L171.1 116.7L167.2 112.7L162.2 123.2Z" stroke="none"/><path d="M162.2 123.2L166.1 124.7L171.1 116.7" stroke="#4293f8" fill="none"/><path d="M171.1 116.7L167.2 112.7" stroke="#39aae7"/><path d="M162.2 123.2L167.2 112.7" stroke="#4298f4"/><path d="M134.2 150.3L139.2 145.0L135.4 142.7L130.3 148.5Z" stroke="none"/><path d="M130.3 148.5L134.2 150.3L139.2 145.0" stroke="#533fbc" fill="none"/><path d="M139.2 145.0L135.4 142.7" stroke="#584bd9"/><path d="M130.3 148.5L135.4 142.7" stroke="#533fbc"/><path d="M238.7 151.9L243.8 150.8L239.9 149.4L234.8 150.5Z" stroke="#513cb1"/><path d="M102.3 151.8L107.4 150.7L103.5 149.2L98.4 150.3Z" stroke="#513cb1"/><path d="M206.9 150.7L211.9 150.3L208.0 147.7L203.0 147.0Z" stroke="none"/><path d="M203.0 147.0L206.9 150.7L211.9 150.3" stroke="#533fbc" fill="none"/><path d="M211.9 150.3L208.0 147.7" stroke="#513cb1"/><path d="M203.0 147.0L208.0 147.7" stroke="#5543c6"/><path d="M175.0 122.9L180.0 119.9L176.1 109.7L171.1 116.7Z" stroke="none"/><path d="M171.1 116.7L175.0 122.9L180.0 119.9" stroke="#409cf0" fill="none"/><path d="M180.0 119.9L176.1 109.7" stroke="#3da1ed"/><path d="M171.1 116.7L176.1 109.7" stroke="#39aae7"/><path d="M143.1 147.5L148.2 139.1L144.3 136.7L139.2 145.0Z" stroke="none"/><path d="M139.2 145.0L143.1 147.5L148.2 139.1" stroke="#5647d0" fill="none"/><path d="M148.2 139.1L144.3 136.7" stroke="#5a5ef2"/><path d="M139.2 145.0L144.3 136.7" stroke="#584bd9"/><path d="M247.7 152.3L252.7 151.2L248.8 149.7L243.8 150.8Z" stroke="#513cb1"/><path d="M111.3 152.1L116.3 151.0L112.4 149.5L107.4 150.7Z" stroke="#513cb1"/><path d="M215.8 152.2L220.8 151.2L216.9 149.6L211.9 150.3Z" stroke="#513cb1"/><path d="M183.9 131.2L189.0 133.3L185.1 121.0L180.0 119.9Z" stroke="none"/><path d="M180.0 119.9L183.9 131.2L189.0 133.3" stroke="#4c83fe" fill="none"/><path d="M189.0 133.3L185.1 121.0" stroke="#5773fd"/><path d="M180.0 119.9L185.1 121.0" stroke="#3da1ed"/><path d="M152.1 141.6L157.1 131.9L153.2 130.5L148.2 139.1Z" stroke="none"/><path d="M148.2 139.1L152.1 141.6L157.1 131.9" stroke="#5a59ed" fill="none"/><path d="M157.1 131.9L153.2 130.5" stroke="#5578fe"/><path d="M148.2 139.1L153.2 130.5" stroke="#5a5ef2"/><path d="M120.2 152.4L125.3 151.1L121.4 149.5L116.3 151.0Z" stroke="#513cb1"/><path d="M224.7 152.7L229.8 151.6L225.9 150.1L220.8 151.2Z" stroke="#513cb1"/><path d="M192.9 143.2L197.9 145.3L194.0 137.2L189.0 133.3Z" stroke="none"/><path d="M189.0 133.3L192.9 143.2L197.9 145.3" stroke="#5a59ed" fill="none"/><path d="M197.9 145.3L194.0 137.2" stroke="#584bd9"/><path d="M189.0 133.3L194.0 137.2" stroke="#5773fd"/><path d="M161.0 133.6L166.1 124.7L162.2 123.2L157.1 131.9Z" stroke="none"/><path d="M157.1 131.9L161.0 133.6L166.1 124.7" stroke="#5578fe" fill="none"/><path d="M166.1 124.7L162.2 123.2" stroke="#4293f8"/><path d="M157.1 131.9L162.2 123.2" stroke="#5578fe"/><path d="M129.2 152.6L134.2 150.3L130.3 148.5L125.3 151.1Z" stroke="#513cb1"/><path d="M233.7 153.0L238.7 151.9L234.8 150.5L229.8 151.6Z" stroke="#513cb1"/><path d="M97.3 152.9L102.3 151.8L98.4 150.3L93.4 151.4Z" stroke="#513cb1"/><path d="M201.8 150.5L206.9 150.7L203.0 147.0L197.9 145.3Z" stroke="none"/><path d="M197.9 145.3L201.8 150.5L206.9 150.7" stroke="#5543c6" fill="none"/><path d="M206.9 150.7L203.0 147.0" stroke="#533fbc"/><path d="M197.9 145.3L203.0 147.0" stroke="#584bd9"/><path d="M170.0 128.4L175.0 122.9L171.1 116.7L166.1 124.7Z" stroke="none"/><path d="M166.1 124.7L170.0 128.4L175.0 122.9" stroke="#448efa" fill="none"/><path d="M175.0 122.9L171.1 116.7" stroke="#409cf0"/><path d="M166.1 124.7L171.1 116.7" stroke="#4293f8"/><path d="M138.1 152.1L143.1 147.5L139.2 145.0L134.2 150.3Z" stroke="none"/><path d="M134.2 150.3L138.1 152.1L143.1 147.5" stroke="#533fbc" fill="none"/><path d="M143.1 147.5L139.2 145.0" stroke="#5647d0"/><path d="M134.2 150.3L139.2 145.0" stroke="#533fbc"/><path d="M242.6 153.4L247.7 152.3L243.8 150.8L238.7 151.9Z" stroke="#513cb1"/><path d="M106.2 153.2L111.3 152.1L107.4 150.7L102.3 151.8Z" stroke="#513cb1"/><path d="M210.7 153.0L215.8 152.2L211.9 150.3L206.9 150.7Z" stroke="#513cb1"/><path d="M178.9 131.7L183.9 131.2L180.0 119.9L175.0 122.9Z" stroke="none"/><path d="M175.0 122.9L178.9 131.7L183.9 131.2" stroke="#4c83fe" fill="none"/><path d="M183.9 131.2L180.0 119.9" stroke="#4c83fe"/><path d="M175.0 122.9L180.0 119.9" stroke="#409cf0"/><path d="M147.0 149.8L152.1 141.6L148.2 139.1L143.1 147.5Z" stroke="none"/><path d="M143.1 147.5L147.0 149.8L152.1 141.6" stroke="#5647d0" fill="none"/><path d="M152.1 141.6L148.2 139.1" stroke="#5a59ed"/><path d="M143.1 147.5L148.2 139.1" stroke="#5647d0"/><path d="M115.2 153.6L120.2 152.4L116.3 151.0L111.3 152.1Z" stroke="#513cb1"/><path d="M219.7 153.7L224.7 152.7L220.8 151.2L215.8 152.2Z" stroke="#513cb1"/><path d="M187.8 141.6L192.9 143.2L189.0 133.3L183.9 131.2Z" stroke="none"/><path d="M183.9 131.2L187.8 141.6L192.9 143.2" stroke="#5a5ef2" fill="none"/><path d="M192.9 143.2L189.0 133.3" stroke="#5a59ed"/><path d="M183.9 131.2L189.0 133.3" stroke="#4c83fe"/><path d="M156.0 144.1L161.0 133.6L157.1 131.9L152.1 141.6Z" stroke="none"/><path d="M152.1 141.6L156.0 144.1L161.0 133.6" stroke="#5a59ed" fill="none"/><path d="M161.0 133.6L157.1 131.9" stroke="#5578fe"/><path d="M152.1 141.6L157.1 131.9" stroke="#5a59ed"/><path d="M124.1 153.9L129.2 152.6L125.3 151.1L120.2 152.4Z" stroke="#513cb1"/><path d="M228.6 154.1L233.7 153.0L229.8 151.6L224.7 152.7Z" stroke="#513cb1"/><path d="M196.8 150.0L201.8 150.5L197.9 145.3L192.9 143.2Z" stroke="none"/><path d="M192.9 143.2L196.8 150.0L201.8 150.5" stroke="#5647d0" fill="none"/><path d="M201.8 150.5L197.9 145.3" stroke="#5543c6"/><path d="M192.9 143.2L197.9 145.3" stroke="#5a59ed"/><path d="M164.9 136.9L170.0 128.4L166.1 124.7L161.0 133.6Z" stroke="none"/><path d="M161.0 133.6L164.9 136.9L170.0 128.4" stroke="#5773fd" fill="none"/><path d="M170.0 128.4L166.1 124.7" stroke="#448efa"/><path d="M161.0 133.6L166.1 124.7" stroke="#5578fe"/><path d="M133.0 154.1L138.1 152.1L134.2 150.3L129.2 152.6Z" stroke="#513cb1"/><path d="M237.6 154.5L242.6 153.4L238.7 151.9L233.7 153.0Z" stroke="#513cb1"/><path d="M101.2 154.3L106.2 153.2L102.3 151.8L97.3 152.9Z" stroke="#513cb1"/><path d="M205.7 153.7L210.7 153.0L206.9 150.7L201.8 150.5Z" stroke="none"/><path d="M201.8 150.5L205.7 153.7L210.7 153.0" stroke="#533fbc" fill="none"/><path d="M210.7 153.0L206.9 150.7" stroke="#513cb1"/><path d="M201.8 150.5L206.9 150.7" stroke="#5543c6"/><path d="M173.8 134.8L178.9 131.7L175.0 122.9L170.0 128.4Z" stroke="none"/><path d="M170.0 128.4L173.8 134.8L178.9 131.7" stroke="#517eff" fill="none"/><path d="M178.9 131.7L175.0 122.9" stroke="#4c83fe"/><path d="M170.0 128.4L175.0 122.9" stroke="#448efa"/><path d="M142.0 153.8L147.0 149.8L143.1 147.5L138.1 152.1Z" stroke="none"/><path d="M138.1 152.1L142.0 153.8L147.0 149.8" stroke="#533fbc" fill="none"/><path d="M147.0 149.8L143.1 147.5" stroke="#5647d0"/><path d="M138.1 152.1L143.1 147.5" stroke="#533fbc"/><path d="M110.1 154.7L115.2 153.6L111.3 152.1L106.2 153.2Z" stroke="#513cb1"/><path d="M214.6 154.8L219.7 153.7L215.8 152.2L210.7 153.0Z" stroke="#513cb1"/><path d="M182.8 140.9L187.8 141.6L183.9 131.2L178.9 131.7Z" stroke="none"/><path d="M178.9 131.7L182.8 140.9L187.8 141.6" stroke="#5a69f9" fill="none"/><path d="M187.8 141.6L183.9 131.2" stroke="#5a5ef2"/><path d="M178.9 131.7L183.9 131.2" stroke="#4c83fe"/><path d="M150.9 151.8L156.0 144.1L152.1 141.6L147.0 149.8Z" stroke="none"/><path d="M147.0 149.8L150.9 151.8L156.0 144.1" stroke="#5543c6" fill="none"/><path d="M156.0 144.1L152.1 141.6" stroke="#5a59ed"/><path d="M147.0 149.8L152.1 141.6" stroke="#5647d0"/><path d="M119.1 155.0L124.1 153.9L120.2 152.4L115.2 153.6Z" stroke="#513cb1"/><path d="M223.6 155.2L228.6 154.1L224.7 152.7L219.7 153.7Z" stroke="#513cb1"/><path d="M191.7 149.2L196.8 150.0L192.9 143.2L187.8 141.6Z" stroke="none"/><path d="M187.8 141.6L191.7 149.2L196.8 150.0" stroke="#584bd9" fill="none"/><path d="M196.8 150.0L192.9 143.2" stroke="#5647d0"/><path d="M187.8 141.6L192.9 143.2" stroke="#5a5ef2"/><path d="M159.9 146.9L164.9 136.9L161.0 133.6L156.0 144.1Z" stroke="none"/><path d="M156.0 144.1L159.9 146.9L164.9 136.9" stroke="#5954e8" fill="none"/><path d="M164.9 136.9L161.0 133.6" stroke="#5773fd"/><path d="M156.0 144.1L161.0 133.6" stroke="#5a59ed"/><path d="M128.0 155.3L133.0 154.1L129.2 152.6L124.1 153.9Z" stroke="#513cb1"/><path d="M232.5 155.6L237.6 154.5L233.7 153.0L228.6 154.1Z" stroke="#513cb1"/><path d="M200.7 154.0L205.7 153.7L201.8 150.5L196.8 150.0Z" stroke="none"/><path d="M196.8 150.0L200.7 154.0L205.7 153.7" stroke="#533fbc" fill="none"/><path d="M205.7 153.7L201.8 150.5" stroke="#533fbc"/><path d="M196.8 150.0L201.8 150.5" stroke="#5647d0"/><path d="M168.8 141.9L173.8 134.8L170.0 128.4L164.9 136.9Z" stroke="none"/><path d="M164.9 136.9L168.8 141.9L173.8 134.8" stroke="#5a64f5" fill="none"/><path d="M173.8 134.8L170.0 128.4" stroke="#517eff"/><path d="M164.9 136.9L170.0 128.4" stroke="#5773fd"/><path d="M136.9 155.6L142.0 153.8L138.1 152.1L133.0 154.1Z" stroke="#513cb1"/><path d="M105.1 155.8L110.1 154.7L106.2 153.2L101.2 154.3Z" stroke="#513cb1"/><path d="M209.6 155.7L214.6 154.8L210.7 153.0L205.7 153.7Z" stroke="#513cb1"/><path d="M177.7 142.5L182.8 140.9L178.9 131.7L173.8 134.8Z" stroke="none"/><path d="M173.8 134.8L177.7 142.5L182.8 140.9" stroke="#5a64f5" fill="none"/><path d="M182.8 140.9L178.9 131.7" stroke="#5a69f9"/><path d="M173.8 134.8L178.9 131.7" stroke="#517eff"/><path d="M145.9 155.4L150.9 151.8L147.0 149.8L142.0 153.8Z" stroke="none"/><path d="M142.0 153.8L145.9 155.4L150.9 151.8" stroke="#513cb1" fill="none"/><path d="M150.9 151.8L147.0 149.8" stroke="#5543c6"/><path d="M142.0 153.8L147.0 149.8" stroke="#533fbc"/><path d="M114.0 156.1L119.1 155.0L115.2 153.6L110.1 154.7Z" stroke="#513cb1"/><path d="M218.5 156.3L223.6 155.2L219.7 153.7L214.6 154.8Z" stroke="#513cb1"/><path d="M186.7 148.4L191.7 149.2L187.8 141.6L182.8 140.9Z" stroke="none"/><path d="M182.8 140.9L186.7 148.4L191.7 149.2" stroke="#594fe1" fill="none"/><path d="M191.7 149.2L187.8 141.6" stroke="#584bd9"/><path d="M182.8 140.9L187.8 141.6" stroke="#5a69f9"/><path d="M154.8 153.8L159.9 146.9L156.0 144.1L150.9 151.8Z" stroke="none"/><path d="M150.9 151.8L154.8 153.8L159.9 146.9" stroke="#5543c6" fill="none"/><path d="M159.9 146.9L156.0 144.1" stroke="#5954e8"/><path d="M150.9 151.8L156.0 144.1" stroke="#5543c6"/><path d="M123.0 156.5L128.0 155.3L124.1 153.9L119.1 155.0Z" stroke="#513cb1"/><path d="M227.5 156.7L232.5 155.6L228.6 154.1L223.6 155.2Z" stroke="#513cb1"/><path d="M195.6 153.9L200.7 154.0L196.8 150.0L191.7 149.2Z" stroke="none"/><path d="M191.7 149.2L195.6 153.9L200.7 154.0" stroke="#5543c6" fill="none"/><path d="M200.7 154.0L196.8 150.0" stroke="#533fbc"/><path d="M191.7 149.2L196.8 150.0" stroke="#584bd9"/><path d="M163.8 150.4L168.8 141.9L164.9 136.9L159.9 146.9Z" stroke="none"/><path d="M159.9 146.9L163.8 150.4L168.8 141.9" stroke="#584bd9" fill="none"/><path d="M168.8 141.9L164.9 136.9" stroke="#5a64f5"/><path d="M159.9 146.9L164.9 136.9" stroke="#5954e8"/><path d="M131.9 156.8L136.9 155.6L133.0 154.1L128.0 155.3Z" stroke="#513cb1"/><path d="M204.6 156.5L209.6 155.7L205.7 153.7L200.7 154.0Z" stroke="#513cb1"/><path d="M172.7 147.8L177.7 142.5L173.8 134.8L168.8 141.9Z" stroke="none"/><path d="M168.8 141.9L172.7 147.8L177.7 142.5" stroke="#5954e8" fill="none"/><path d="M177.7 142.5L173.8 134.8" stroke="#5a64f5"/><path d="M168.8 141.9L173.8 134.8" stroke="#5a64f5"/><path d="M140.8 157.0L145.9 155.4L142.0 153.8L136.9 155.6Z" stroke="#513cb1"/><path d="M109.0 157.2L114.0 156.1L110.1 154.7L105.1 155.8Z" stroke="#513cb1"/><path d="M213.5 157.3L218.5 156.3L214.6 154.8L209.6 155.7Z" stroke="#513cb1"/><path d="M181.6 149.2L186.7 148.4L182.8 140.9L177.7 142.5Z" stroke="none"/><path d="M177.7 142.5L181.6 149.2L186.7 148.4" stroke="#5954e8" fill="none"/><path d="M186.7 148.4L182.8 140.9" stroke="#594fe1"/><path d="M177.7 142.5L182.8 140.9" stroke="#5a64f5"/><path d="M149.8 156.9L154.8 153.8L150.9 151.8L145.9 155.4Z" stroke="none"/><path d="M145.9 155.4L149.8 156.9L154.8 153.8" stroke="#513cb1" fill="none"/><path d="M154.8 153.8L150.9 151.8" stroke="#5543c6"/><path d="M145.9 155.4L150.9 151.8" stroke="#513cb1"/><path d="M117.9 157.6L123.0 156.5L119.1 155.0L114.0 156.1Z" stroke="#513cb1"/><path d="M222.4 157.7L227.5 156.7L223.6 155.2L218.5 156.3Z" stroke="#513cb1"/><path d="M190.6 153.4L195.6 153.9L191.7 149.2L186.7 148.4Z" stroke="none"/><path d="M186.7 148.4L190.6 153.4L195.6 153.9" stroke="#5647d0" fill="none"/><path d="M195.6 153.9L191.7 149.2" stroke="#5543c6"/><path d="M186.7 148.4L191.7 149.2" stroke="#594fe1"/><path d="M158.7 155.8L163.8 150.4L159.9 146.9L154.8 153.8Z" stroke="none"/><path d="M154.8 153.8L158.7 155.8L163.8 150.4" stroke="#533fbc" fill="none"/><path d="M163.8 150.4L159.9 146.9" stroke="#584bd9"/><path d="M154.8 153.8L159.9 146.9" stroke="#5543c6"/><path d="M126.9 157.9L131.9 156.8L128.0 155.3L123.0 156.5Z" stroke="#513cb1"/><path d="M199.5 156.7L204.6 156.5L200.7 154.0L195.6 153.9Z" stroke="none"/><path d="M195.6 153.9L199.5 156.7L204.6 156.5" stroke="#533fbc" fill="none"/><path d="M204.6 156.5L200.7 154.0" stroke="#513cb1"/><path d="M195.6 153.9L200.7 154.0" stroke="#5543c6"/><path d="M167.6 154.0L172.7 147.8L168.8 141.9L163.8 150.4Z" stroke="none"/><path d="M163.8 150.4L167.6 154.0L172.7 147.8" stroke="#5647d0" fill="none"/><path d="M172.7 147.8L168.8 141.9" stroke="#5954e8"/><path d="M163.8 150.4L168.8 141.9" stroke="#584bd9"/><path d="M135.8 158.2L140.8 157.0L136.9 155.6L131.9 156.8Z" stroke="#513cb1"/><path d="M208.4 158.2L213.5 157.3L209.6 155.7L204.6 156.5Z" stroke="#513cb1"/><path d="M176.6 153.1L181.6 149.2L177.7 142.5L172.7 147.8Z" stroke="none"/><path d="M172.7 147.8L176.6 153.1L181.6 149.2" stroke="#584bd9" fill="none"/><path d="M181.6 149.2L177.7 142.5" stroke="#5954e8"/><path d="M172.7 147.8L177.7 142.5" stroke="#5954e8"/><path d="M144.7 158.5L149.8 156.9L145.9 155.4L140.8 157.0Z" stroke="#513cb1"/><path d="M112.9 158.7L117.9 157.6L114.0 156.1L109.0 157.2Z" stroke="#513cb1"/><path d="M217.4 158.8L222.4 157.7L218.5 156.3L213.5 157.3Z" stroke="#513cb1"/><path d="M185.5 154.3L190.6 153.4L186.7 148.4L181.6 149.2Z" stroke="none"/><path d="M181.6 149.2L185.5 154.3L190.6 153.4" stroke="#5647d0" fill="none"/><path d="M190.6 153.4L186.7 148.4" stroke="#5647d0"/><path d="M181.6 149.2L186.7 148.4" stroke="#5954e8"/><path d="M153.7 158.4L158.7 155.8L154.8 153.8L149.8 156.9Z" stroke="#513cb1"/><path d="M121.8 159.0L126.9 157.9L123.0 156.5L117.9 157.6Z" stroke="#513cb1"/><path d="M194.5 156.7L199.5 156.7L195.6 153.9L190.6 153.4Z" stroke="none"/><path d="M190.6 153.4L194.5 156.7L199.5 156.7" stroke="#5543c6" fill="none"/><path d="M199.5 156.7L195.6 153.9" stroke="#533fbc"/><path d="M190.6 153.4L195.6 153.9" stroke="#5647d0"/><path d="M162.6 158.0L167.6 154.0L163.8 150.4L158.7 155.8Z" stroke="none"/><path d="M158.7 155.8L162.6 158.0L167.6 154.0" stroke="#533fbc" fill="none"/><path d="M167.6 154.0L163.8 150.4" stroke="#5647d0"/><path d="M158.7 155.8L163.8 150.4" stroke="#533fbc"/><path d="M130.7 159.3L135.8 158.2L131.9 156.8L126.9 157.9Z" stroke="#513cb1"/><path d="M203.4 158.7L208.4 158.2L204.6 156.5L199.5 156.7Z" stroke="#533fbc"/><path d="M171.5 157.3L176.6 153.1L172.7 147.8L167.6 154.0Z" stroke="none"/><path d="M167.6 154.0L171.5 157.3L176.6 153.1" stroke="#5543c6" fill="none"/><path d="M176.6 153.1L172.7 147.8" stroke="#584bd9"/><path d="M167.6 154.0L172.7 147.8" stroke="#5647d0"/><path d="M139.7 159.7L144.7 158.5L140.8 157.0L135.8 158.2Z" stroke="#513cb1"/><path d="M212.3 159.7L217.4 158.8L213.5 157.3L208.4 158.2Z" stroke="#513cb1"/><path d="M180.5 157.1L185.5 154.3L181.6 149.2L176.6 153.1Z" stroke="none"/><path d="M176.6 153.1L180.5 157.1L185.5 154.3" stroke="#5543c6" fill="none"/><path d="M185.5 154.3L181.6 149.2" stroke="#5647d0"/><path d="M176.6 153.1L181.6 149.2" stroke="#584bd9"/><path d="M148.6 159.9L153.7 158.4L149.8 156.9L144.7 158.5Z" stroke="#513cb1"/><path d="M116.8 160.1L121.8 159.0L117.9 157.6L112.9 158.7Z" stroke="#513cb1"/><path d="M189.4 157.8L194.5 156.7L190.6 153.4L185.5 154.3Z" stroke="#5543c6"/><path d="M157.6 160.0L162.6 158.0L158.7 155.8L153.7 158.4Z" stroke="#513cb1"/><path d="M125.7 160.4L130.7 159.3L126.9 157.9L121.8 159.0Z" stroke="#513cb1"/><path d="M198.4 159.1L203.4 158.7L199.5 156.7L194.5 156.7Z" stroke="#533fbc"/><path d="M166.5 160.0L171.5 157.3L167.6 154.0L162.6 158.0Z" stroke="#533fbc"/><path d="M134.6 160.8L139.7 159.7L135.8 158.2L130.7 159.3Z" stroke="#513cb1"/><path d="M207.3 160.4L212.3 159.7L208.4 158.2L203.4 158.7Z" stroke="#513cb1"/><path d="M175.4 160.0L180.5 157.1L176.6 153.1L171.5 157.3Z" stroke="#533fbc"/><path d="M143.6 161.1L148.6 159.9L144.7 158.5L139.7 159.7Z" stroke="#513cb1"/><path d="M184.4 160.0L189.4 157.8L185.5 154.3L180.5 157.1Z" stroke="#533fbc"/><path d="M152.5 161.4L157.6 160.0L153.7 158.4L148.6 159.9Z" stroke="#513cb1"/><path d="M120.7 161.5L125.7 160.4L121.8 159.0L116.8 160.1Z" stroke="#513cb1"/><path d="M193.3 160.4L198.4 159.1L194.5 156.7L189.4 157.8Z" stroke="#533fbc"/><path d="M161.5 161.6L166.5 160.0L162.6 158.0L157.6 160.0Z" stroke="#513cb1"/><path d="M129.6 161.9L134.6 160.8L130.7 159.3L125.7 160.4Z" stroke="#513cb1"/><path d="M202.2 161.1L207.3 160.4L203.4 158.7L198.4 159.1Z" stroke="#533fbc"/><path d="M170.4 161.9L175.4 160.0L171.5 157.3L166.5 160.0Z" stroke="#513cb1"/><path d="M138.5 162.2L143.6 161.1L139.7 159.7L134.6 160.8Z" stroke="#513cb1"/><path d="M179.3 162.1L184.4 160.0L180.5 157.1L175.4 160.0Z" stroke="#513cb1"/><path d="M147.5 162.6L152.5 161.4L148.6 159.9L143.6 161.1Z" stroke="#513cb1"/><path d="M188.3 162.2L193.3 160.4L189.4 157.8L184.4 160.0Z" stroke="#513cb1"/><path d="M156.4 162.9L161.5 161.6L157.6 160.0L152.5 161.4Z" stroke="#513cb1"/><path d="M124.5 163.0L129.6 161.9L125.7 160.4L120.7 161.5Z" stroke="#513cb1"/><path d="M197.2 162.4L202.2 161.1L198.4 159.1L193.3 160.4Z" stroke="#533fbc"/><path d="M165.3 163.2L170.4 161.9L166.5 160.0L161.5 161.6Z" stroke="#513cb1"/><path d="M133.5 163.3L138.5 162.2L134.6 160.8L129.6 161.9Z" stroke="#513cb1"/><path d="M174.3 163.5L179.3 162.1L175.4 160.0L170.4 161.9Z" stroke="#513cb1"/><path d="M142.4 163.7L147.5 162.6L143.6 161.1L138.5 162.2Z" stroke="#513cb1"/><path d="M183.2 163.8L188.3 162.2L184.4 160.0L179.3 162.1Z" stroke="#513cb1"/><path d="M151.4 164.0L156.4 162.9L152.5 161.4L147.5 162.6Z" stroke="#513cb1"/><path d="M192.2 164.0L197.2 162.4L193.3 160.4L188.3 162.2Z" stroke="#513cb1"/><path d="M160.3 164.4L165.3 163.2L161.5 161.6L156.4 162.9Z" stroke="#513cb1"/><path d="M128.4 164.4L133.5 163.3L129.6 161.9L124.5 163.0Z" stroke="#513cb1"/><path d="M169.2 164.7L174.3 163.5L170.4 161.9L165.3 163.2Z" stroke="#513cb1"/><path d="M137.4 164.8L142.4 163.7L138.5 162.2L133.5 163.3Z" stroke="#513cb1"/><path d="M178.2 165.0L183.2 163.8L179.3 162.1L174.3 163.5Z" stroke="#513cb1"/><path d="M146.3 165.1L151.4 164.0L147.5 162.6L142.4 163.7Z" stroke="#513cb1"/><path d="M187.1 165.4L192.2 164.0L188.3 162.2L183.2 163.8Z" stroke="#513cb1"/><path d="M155.3 165.5L160.3 164.4L156.4 162.9L151.4 164.0Z" stroke="#513cb1"/><path d="M164.2 165.8L169.2 164.7L165.3 163.2L160.3 164.4Z" stroke="#513cb1"/><path d="M132.3 165.9L137.4 164.8L133.5 163.3L128.4 164.4Z" stroke="#513cb1"/><path d="M173.1 166.2L178.2 165.0L174.3 163.5L169.2 164.7Z" stroke="#513cb1"/><path d="M141.3 166.2L146.3 165.1L142.4 163.7L137.4 164.8Z" stroke="#513cb1"/><path d="M182.1 166.5L187.1 165.4L183.2 163.8L178.2 165.0Z" stroke="#513cb1"/><path d="M150.2 166.6L155.3 165.5L151.4 164.0L146.3 165.1Z" stroke="#513cb1"/><path d="M159.1 166.9L164.2 165.8L160.3 164.4L155.3 165.5Z" stroke="#513cb1"/><path d="M168.1 167.3L173.1 166.2L169.2 164.7L164.2 165.8Z" stroke="#513cb1"/><path d="M136.2 167.3L141.3 166.2L137.4 164.8L132.3 165.9Z" stroke="#513cb1"/><path d="M177.0 167.6L182.1 166.5L178.2 165.0L173.1 166.2Z" stroke="#513cb1"/><path d="M145.2 167.7L150.2 166.6L146.3 165.1L141.3 166.2Z" stroke="#513cb1"/><path d="M154.1 168.0L159.1 166.9L155.3 165.5L150.2 166.6Z" stroke="#513cb1"/><path d="M163.0 168.4L168.1 167.3L164.2 165.8L159.1 166.9Z" stroke="#513cb1"/><path d="M172.0 168.7L177.0 167.6L173.1 166.2L168.1 167.3Z" stroke="#513cb1"/><path d="M140.1 168.8L145.2 167.7L141.3 166.2L136.2 167.3Z" stroke="#513cb1"/><path d="M149.1 169.1L154.1 168.0L150.2 166.6L145.2 167.7Z" stroke="#513cb1"/><path d="M158.0 169.5L163.0 168.4L159.1 166.9L154.1 168.0Z" stroke="#513cb1"/><path d="M166.9 169.8L172.0 168.7L168.1 167.3L163.0 168.4Z" stroke="#513cb1"/><path d="M144.0 170.2L149.1 169.1L145.2 167.7L140.1 168.8Z" stroke="#513cb1"/><path d="M153.0 170.6L158.0 169.5L154.1 168.0L149.1 169.1Z" stroke="#513cb1"/><path d="M161.9 170.9L166.9 169.8L163.0 168.4L158.0 169.5Z" stroke="#513cb1"/><path d="M147.9 171.7L153.0 170.6L149.1 169.1L144.0 170.2Z" stroke="#513cb1"/><path d="M156.8 172.0L161.9 170.9L158.0 169.5L153.0 170.6Z" stroke="#513cb1"/><path d="M151.8 173.1L156.8 172.0L153.0 170.6L147.9 171.7Z" stroke="#513cb1"/></g>
<g font-family="Liberation Serif, DejaVu Serif, serif" font-size="12.0" fill="#262626" stroke="#262626" stroke-width="0.25"><text transform="translate(31.50 132.02) scale(0.920 1)" text-anchor="end">0</text><text transform="translate(31.50 112.97) scale(0.920 1)" text-anchor="end">2</text><text transform="translate(31.50 93.92) scale(0.920 1)" text-anchor="end">4</text><text transform="translate(31.50 74.87) scale(0.920 1)" text-anchor="end">6</text><text transform="translate(31.50 55.82) scale(0.920 1)" text-anchor="end">8</text><text transform="translate(160.68 186.72) scale(0.920 1)">&#8722;0.2</text><text transform="translate(187.19 180.95) scale(0.920 1)">0</text><text transform="translate(213.69 175.19) scale(0.920 1)">0.2</text><text transform="translate(240.19 169.43) scale(0.920 1)">0.4</text><text transform="translate(266.70 163.67) scale(0.920 1)">0.6</text><text transform="translate(293.20 157.91) scale(0.920 1)">0.8</text><text transform="translate(130.18 180.92) scale(0.920 1)" text-anchor="end">0</text><text transform="translate(106.48 172.12) scale(0.920 1)" text-anchor="end">0.2</text><text transform="translate(82.77 163.32) scale(0.920 1)" text-anchor="end">0.4</text><text transform="translate(59.07 154.52) scale(0.920 1)" text-anchor="end">0.6</text><text transform="translate(35.36 145.72) scale(0.920 1)" text-anchor="end">0.8</text><text transform="translate(167.00 205.80) rotate(-12.00)" font-size="12.2" textLength="155.0" lengthAdjust="spacingAndGlyphs">Green development level(2013)</text><text transform="translate(16.50 158.60) rotate(20.80)" font-size="12.2" textLength="150.5" lengthAdjust="spacingAndGlyphs">Green development level(2017)</text><text transform="translate(15.20 121.30) rotate(-90.00)" font-size="12.2" textLength="72.0" lengthAdjust="spacingAndGlyphs">Kernel density</text></g>
<path d="M55.87 342.53L55.87 255.83 M168.37 383.73L55.87 342.53 M86.64 336.10L86.64 249.41 M199.14 377.30L86.64 336.10 M117.40 329.67L117.40 242.98 M229.90 370.87L117.40 329.67 M148.17 323.24L148.17 236.55 M260.67 364.44L148.17 323.24 M178.93 316.81L178.93 230.12 M291.43 358.01L178.93 316.81 M288.71 353.12L288.71 266.43 M141.81 383.82L288.71 353.12 M262.69 343.60L262.69 256.90 M115.79 374.30L262.69 343.60 M236.68 334.07L236.68 247.37 M89.78 364.77L236.68 334.07 M210.67 324.54L210.67 237.85 M63.77 355.24L210.67 324.54 M38.80 346.10L185.70 315.40 M185.70 315.40L298.20 356.60 M38.80 311.00L185.70 280.30 M185.70 280.30L298.20 321.50 M38.80 275.90L185.70 245.20 M185.70 245.20L298.20 286.40" stroke="#dcdcdc" stroke-width="0.6" fill="none"/>
<path d="M38.80 346.10L35.51 344.90 M38.80 311.00L35.51 309.80 M38.80 275.90L35.51 274.70 M168.37 383.73L171.66 384.94 M199.14 377.30L202.43 378.51 M229.90 370.87L233.19 372.08 M260.67 364.44L263.95 365.65 M291.43 358.01L294.72 359.22 M141.81 383.82L138.38 384.54 M115.79 374.30L112.37 375.01 M89.78 364.77L86.36 365.49 M63.77 355.24L60.35 355.96" stroke="#505050" stroke-width="0.8" fill="none"/>
<path d="M38.80 346.10L38.80 259.40" stroke="#b4b4b4" stroke-width="1.4" fill="none"/>
<g fill="#fff" stroke-width="0.45" stroke-linejoin="round"><path d="M184.5 317.9L189.6 316.8L185.7 315.4L180.6 316.4Z" stroke="#513cb1"/><path d="M179.4 318.9L184.5 317.9L180.6 316.4L175.6 317.5Z" stroke="#513cb1"/><path d="M188.4 319.3L193.5 318.2L189.6 316.8L184.5 317.9Z" stroke="#513cb1"/><path d="M174.4 319.8L179.4 318.9L175.6 317.5L170.5 318.5Z" stroke="#513cb1"/><path d="M183.3 320.3L188.4 319.3L184.5 317.9L179.4 318.9Z" stroke="#513cb1"/><path d="M192.3 320.7L197.3 319.7L193.5 318.2L188.4 319.3Z" stroke="#513cb1"/><path d="M169.3 320.6L174.4 319.8L170.5 318.5L165.4 319.3Z" stroke="#513cb1"/><path d="M178.3 321.2L183.3 320.3L179.4 318.9L174.4 319.8Z" stroke="#513cb1"/><path d="M187.2 321.7L192.3 320.7L188.4 319.3L183.3 320.3Z" stroke="#513cb1"/><path d="M196.2 322.1L201.2 321.1L197.3 319.7L192.3 320.7Z" stroke="#513cb1"/><path d="M164.3 321.1L169.3 320.6L165.4 319.3L160.4 320.1Z" stroke="#533fbc"/><path d="M173.2 321.8L178.3 321.2L174.4 319.8L169.3 320.6Z" stroke="#513cb1"/><path d="M182.1 322.5L187.2 321.7L183.3 320.3L178.3 321.2Z" stroke="#513cb1"/><path d="M191.1 323.1L196.2 322.1L192.3 320.7L187.2 321.7Z" stroke="#513cb1"/><path d="M159.2 321.5L164.3 321.1L160.4 320.1L155.3 320.7Z" stroke="#533fbc"/><path d="M200.0 323.5L205.1 322.5L201.2 321.1L196.2 322.1Z" stroke="#513cb1"/><path d="M168.1 322.1L173.2 321.8L169.3 320.6L164.3 321.1Z" stroke="#533fbc"/><path d="M177.1 322.9L182.1 322.5L178.3 321.2L173.2 321.8Z" stroke="#533fbc"/><path d="M186.0 323.8L191.1 323.1L187.2 321.7L182.1 322.5Z" stroke="#513cb1"/><path d="M154.1 321.9L159.2 321.5L155.3 320.7L150.2 321.4Z" stroke="#5543c6"/><path d="M195.0 324.4L200.0 323.5L196.2 322.1L191.1 323.1Z" stroke="#513cb1"/><path d="M163.1 322.1L168.1 322.1L164.3 321.1L159.2 321.5Z" stroke="#5543c6"/><path d="M203.9 324.9L209.0 323.9L205.1 322.5L200.0 323.5Z" stroke="#513cb1"/><path d="M172.0 322.9L177.1 322.9L173.2 321.8L168.1 322.1Z" stroke="#533fbc"/><path d="M181.0 324.1L186.0 323.8L182.1 322.5L177.1 322.9Z" stroke="#533fbc"/><path d="M149.1 322.7L154.1 321.9L150.2 321.4L145.2 322.3Z" stroke="#5543c6"/><path d="M189.9 325.1L195.0 324.4L191.1 323.1L186.0 323.8Z" stroke="#513cb1"/><path d="M158.0 322.2L163.1 322.1L159.2 321.5L154.1 321.9Z" stroke="#5647d0"/><path d="M198.8 325.8L203.9 324.9L200.0 323.5L195.0 324.4Z" stroke="#513cb1"/><path d="M166.9 322.4L172.0 322.9L168.1 322.1L163.1 322.1Z" stroke="none"/><path d="M163.1 322.1L166.9 322.4L172.0 322.9" stroke="#5647d0" fill="none"/><path d="M172.0 322.9L168.1 322.1" stroke="#533fbc"/><path d="M163.1 322.1L168.1 322.1" stroke="#5543c6"/><path d="M207.8 326.4L212.9 325.3L209.0 323.9L203.9 324.9Z" stroke="#513cb1"/><path d="M175.9 323.6L181.0 324.1L177.1 322.9L172.0 322.9Z" stroke="#5543c6"/><path d="M144.0 324.0L149.1 322.7L145.2 322.3L140.1 323.5Z" stroke="#5543c6"/><path d="M184.8 325.2L189.9 325.1L186.0 323.8L181.0 324.1Z" stroke="#533fbc"/><path d="M152.9 322.8L158.0 322.2L154.1 321.9L149.1 322.7Z" stroke="#5647d0"/><path d="M193.8 326.4L198.8 325.8L195.0 324.4L189.9 325.1Z" stroke="#513cb1"/><path d="M161.9 322.0L166.9 322.4L163.1 322.1L158.0 322.2Z" stroke="#584bd9"/><path d="M202.7 327.2L207.8 326.4L203.9 324.9L198.8 325.8Z" stroke="#513cb1"/><path d="M170.8 322.6L175.9 323.6L172.0 322.9L166.9 322.4Z" stroke="none"/><path d="M166.9 322.4L170.8 322.6L175.9 323.6" stroke="#584bd9" fill="none"/><path d="M175.9 323.6L172.0 322.9" stroke="#5543c6"/><path d="M166.9 322.4L172.0 322.9" stroke="#5647d0"/><path d="M138.9 325.7L144.0 324.0L140.1 323.5L135.0 325.0Z" stroke="#533fbc"/><path d="M211.7 327.8L216.7 326.8L212.9 325.3L207.8 326.4Z" stroke="#513cb1"/><path d="M179.8 324.3L184.8 325.2L181.0 324.1L175.9 323.6Z" stroke="none"/><path d="M175.9 323.6L179.8 324.3L184.8 325.2" stroke="#5647d0" fill="none"/><path d="M184.8 325.2L181.0 324.1" stroke="#533fbc"/><path d="M175.9 323.6L181.0 324.1" stroke="#5543c6"/><path d="M147.9 324.2L152.9 322.8L149.1 322.7L144.0 324.0Z" stroke="#5647d0"/><path d="M188.7 326.3L193.8 326.4L189.9 325.1L184.8 325.2Z" stroke="#533fbc"/><path d="M156.8 322.3L161.9 322.0L158.0 322.2L152.9 322.8Z" stroke="#584bd9"/><path d="M197.7 327.8L202.7 327.2L198.8 325.8L193.8 326.4Z" stroke="#533fbc"/><path d="M165.8 321.5L170.8 322.6L166.9 322.4L161.9 322.0Z" stroke="#594fe1"/><path d="M133.9 327.5L138.9 325.7L135.0 325.0L130.0 326.5Z" stroke="#533fbc"/><path d="M206.6 328.7L211.7 327.8L207.8 326.4L202.7 327.2Z" stroke="#513cb1"/><path d="M174.7 322.6L179.8 324.3L175.9 323.6L170.8 322.6Z" stroke="none"/><path d="M170.8 322.6L174.7 322.6L179.8 324.3" stroke="#594fe1" fill="none"/><path d="M179.8 324.3L175.9 323.6" stroke="#5647d0"/><path d="M170.8 322.6L175.9 323.6" stroke="#584bd9"/><path d="M142.8 326.2L147.9 324.2L144.0 324.0L138.9 325.7Z" stroke="none"/><path d="M138.9 325.7L142.8 326.2L147.9 324.2" stroke="#5543c6" fill="none"/><path d="M147.9 324.2L144.0 324.0" stroke="#5647d0"/><path d="M138.9 325.7L144.0 324.0" stroke="#533fbc"/><path d="M215.5 329.2L220.6 328.2L216.7 326.8L211.7 327.8Z" stroke="#513cb1"/><path d="M183.6 325.1L188.7 326.3L184.8 325.2L179.8 324.3Z" stroke="none"/><path d="M179.8 324.3L183.6 325.1L188.7 326.3" stroke="#5647d0" fill="none"/><path d="M188.7 326.3L184.8 325.2" stroke="#533fbc"/><path d="M179.8 324.3L184.8 325.2" stroke="#5647d0"/><path d="M151.7 323.7L156.8 322.3L152.9 322.8L147.9 324.2Z" stroke="#584bd9"/><path d="M192.6 327.6L197.7 327.8L193.8 326.4L188.7 326.3Z" stroke="#533fbc"/><path d="M160.7 321.2L165.8 321.5L161.9 322.0L156.8 322.3Z" stroke="none"/><path d="M156.8 322.3L160.7 321.2L165.8 321.5" stroke="#5954e8" fill="none"/><path d="M165.8 321.5L161.9 322.0" stroke="#594fe1"/><path d="M156.8 322.3L161.9 322.0" stroke="#584bd9"/><path d="M128.8 329.1L133.9 327.5L130.0 326.5L124.9 327.8Z" stroke="#513cb1"/><path d="M201.5 329.2L206.6 328.7L202.7 327.2L197.7 327.8Z" stroke="#533fbc"/><path d="M169.6 320.6L174.7 322.6L170.8 322.6L165.8 321.5Z" stroke="#5a59ed"/><path d="M137.7 328.3L142.8 326.2L138.9 325.7L133.9 327.5Z" stroke="#533fbc"/><path d="M210.5 330.1L215.5 329.2L211.7 327.8L206.6 328.7Z" stroke="#513cb1"/><path d="M178.6 322.7L183.6 325.1L179.8 324.3L174.7 322.6Z" stroke="none"/><path d="M174.7 322.6L178.6 322.7L183.6 325.1" stroke="#5954e8" fill="none"/><path d="M183.6 325.1L179.8 324.3" stroke="#5647d0"/><path d="M174.7 322.6L179.8 324.3" stroke="#594fe1"/><path d="M146.7 326.0L151.7 323.7L147.9 324.2L142.8 326.2Z" stroke="none"/><path d="M142.8 326.2L146.7 326.0L151.7 323.7" stroke="#5647d0" fill="none"/><path d="M151.7 323.7L147.9 324.2" stroke="#584bd9"/><path d="M142.8 326.2L147.9 324.2" stroke="#5543c6"/><path d="M219.4 330.6L224.5 329.6L220.6 328.2L215.5 329.2Z" stroke="#513cb1"/><path d="M187.5 326.1L192.6 327.6L188.7 326.3L183.6 325.1Z" stroke="none"/><path d="M183.6 325.1L187.5 326.1L192.6 327.6" stroke="#5647d0" fill="none"/><path d="M192.6 327.6L188.7 326.3" stroke="#533fbc"/><path d="M183.6 325.1L188.7 326.3" stroke="#5647d0"/><path d="M155.6 322.3L160.7 321.2L156.8 322.3L151.7 323.7Z" stroke="none"/><path d="M151.7 323.7L155.6 322.3L160.7 321.2" stroke="#5954e8" fill="none"/><path d="M160.7 321.2L156.8 322.3" stroke="#5954e8"/><path d="M151.7 323.7L156.8 322.3" stroke="#584bd9"/><path d="M123.7 330.4L128.8 329.1L124.9 327.8L119.8 329.1Z" stroke="#513cb1"/><path d="M196.5 329.0L201.5 329.2L197.7 327.8L192.6 327.6Z" stroke="#533fbc"/><path d="M164.6 319.2L169.6 320.6L165.8 321.5L160.7 321.2Z" stroke="none"/><path d="M160.7 321.2L164.6 319.2L169.6 320.6" stroke="#5a64f5" fill="none"/><path d="M169.6 320.6L165.8 321.5" stroke="#5a59ed"/><path d="M160.7 321.2L165.8 321.5" stroke="#5954e8"/><path d="M132.7 330.1L137.7 328.3L133.9 327.5L128.8 329.1Z" stroke="#533fbc"/><path d="M205.4 330.7L210.5 330.1L206.6 328.7L201.5 329.2Z" stroke="#533fbc"/><path d="M173.5 319.6L178.6 322.7L174.7 322.6L169.6 320.6Z" stroke="none"/><path d="M169.6 320.6L173.5 319.6L178.6 322.7" stroke="#5a64f5" fill="none"/><path d="M178.6 322.7L174.7 322.6" stroke="#5954e8"/><path d="M169.6 320.6L174.7 322.6" stroke="#5a59ed"/><path d="M141.6 328.6L146.7 326.0L142.8 326.2L137.7 328.3Z" stroke="none"/><path d="M137.7 328.3L141.6 328.6L146.7 326.0" stroke="#5543c6" fill="none"/><path d="M146.7 326.0L142.8 326.2" stroke="#5647d0"/><path d="M137.7 328.3L142.8 326.2" stroke="#533fbc"/><path d="M214.4 331.5L219.4 330.6L215.5 329.2L210.5 330.1Z" stroke="#513cb1"/><path d="M182.5 323.2L187.5 326.1L183.6 325.1L178.6 322.7Z" stroke="none"/><path d="M178.6 322.7L182.5 323.2L187.5 326.1" stroke="#5954e8" fill="none"/><path d="M187.5 326.1L183.6 325.1" stroke="#5647d0"/><path d="M178.6 322.7L183.6 325.1" stroke="#5954e8"/><path d="M150.6 324.7L155.6 322.3L151.7 323.7L146.7 326.0Z" stroke="none"/><path d="M146.7 326.0L150.6 324.7L155.6 322.3" stroke="#594fe1" fill="none"/><path d="M155.6 322.3L151.7 323.7" stroke="#5954e8"/><path d="M146.7 326.0L151.7 323.7" stroke="#5647d0"/><path d="M118.7 331.6L123.7 330.4L119.8 329.1L114.8 330.2Z" stroke="#513cb1"/><path d="M223.3 332.1L228.4 331.0L224.5 329.6L219.4 330.6Z" stroke="#513cb1"/><path d="M191.4 327.4L196.5 329.0L192.6 327.6L187.5 326.1Z" stroke="none"/><path d="M187.5 326.1L191.4 327.4L196.5 329.0" stroke="#5647d0" fill="none"/><path d="M196.5 329.0L192.6 327.6" stroke="#533fbc"/><path d="M187.5 326.1L192.6 327.6" stroke="#5647d0"/><path d="M159.5 319.4L164.6 319.2L160.7 321.2L155.6 322.3Z" stroke="none"/><path d="M155.6 322.3L159.5 319.4L164.6 319.2" stroke="#5a64f5" fill="none"/><path d="M164.6 319.2L160.7 321.2" stroke="#5a64f5"/><path d="M155.6 322.3L160.7 321.2" stroke="#5954e8"/><path d="M127.6 331.7L132.7 330.1L128.8 329.1L123.7 330.4Z" stroke="#513cb1"/><path d="M200.4 330.5L205.4 330.7L201.5 329.2L196.5 329.0Z" stroke="#533fbc"/><path d="M168.5 316.7L173.5 319.6L169.6 320.6L164.6 319.2Z" stroke="#596efb"/><path d="M136.6 330.9L141.6 328.6L137.7 328.3L132.7 330.1Z" stroke="#533fbc"/><path d="M209.3 332.2L214.4 331.5L210.5 330.1L205.4 330.7Z" stroke="#513cb1"/><path d="M177.4 319.1L182.5 323.2L178.6 322.7L173.5 319.6Z" stroke="none"/><path d="M173.5 319.6L177.4 319.1L182.5 323.2" stroke="#5a69f9" fill="none"/><path d="M182.5 323.2L178.6 322.7" stroke="#5954e8"/><path d="M173.5 319.6L178.6 322.7" stroke="#5a64f5"/><path d="M145.5 327.6L150.6 324.7L146.7 326.0L141.6 328.6Z" stroke="none"/><path d="M141.6 328.6L145.5 327.6L150.6 324.7" stroke="#584bd9" fill="none"/><path d="M150.6 324.7L146.7 326.0" stroke="#594fe1"/><path d="M141.6 328.6L146.7 326.0" stroke="#5543c6"/><path d="M113.6 332.7L118.7 331.6L114.8 330.2L109.7 331.3Z" stroke="#513cb1"/><path d="M218.2 333.0L223.3 332.1L219.4 330.6L214.4 331.5Z" stroke="#513cb1"/><path d="M186.3 324.3L191.4 327.4L187.5 326.1L182.5 323.2Z" stroke="none"/><path d="M182.5 323.2L186.3 324.3L191.4 327.4" stroke="#5954e8" fill="none"/><path d="M191.4 327.4L187.5 326.1" stroke="#5647d0"/><path d="M182.5 323.2L187.5 326.1" stroke="#5954e8"/><path d="M154.4 321.0L159.5 319.4L155.6 322.3L150.6 324.7Z" stroke="none"/><path d="M150.6 324.7L154.4 321.0L159.5 319.4" stroke="#5a64f5" fill="none"/><path d="M159.5 319.4L155.6 322.3" stroke="#5a64f5"/><path d="M150.6 324.7L155.6 322.3" stroke="#594fe1"/><path d="M122.5 332.9L127.6 331.7L123.7 330.4L118.7 331.6Z" stroke="#513cb1"/><path d="M227.2 333.5L232.3 332.4L228.4 331.0L223.3 332.1Z" stroke="#513cb1"/><path d="M195.3 329.1L200.4 330.5L196.5 329.0L191.4 327.4Z" stroke="none"/><path d="M191.4 327.4L195.3 329.1L200.4 330.5" stroke="#5647d0" fill="none"/><path d="M200.4 330.5L196.5 329.0" stroke="#533fbc"/><path d="M191.4 327.4L196.5 329.0" stroke="#5647d0"/><path d="M163.4 314.9L168.5 316.7L164.6 319.2L159.5 319.4Z" stroke="none"/><path d="M159.5 319.4L163.4 314.9L168.5 316.7" stroke="#5578fe" fill="none"/><path d="M168.5 316.7L164.6 319.2" stroke="#596efb"/><path d="M159.5 319.4L164.6 319.2" stroke="#5a64f5"/><path d="M131.5 332.7L136.6 330.9L132.7 330.1L127.6 331.7Z" stroke="#533fbc"/><path d="M204.2 332.1L209.3 332.2L205.4 330.7L200.4 330.5Z" stroke="#533fbc"/><path d="M172.3 314.6L177.4 319.1L173.5 319.6L168.5 316.7Z" stroke="none"/><path d="M168.5 316.7L172.3 314.6L177.4 319.1" stroke="#517eff" fill="none"/><path d="M177.4 319.1L173.5 319.6" stroke="#5a69f9"/><path d="M168.5 316.7L173.5 319.6" stroke="#596efb"/><path d="M140.4 330.4L145.5 327.6L141.6 328.6L136.6 330.9Z" stroke="none"/><path d="M136.6 330.9L140.4 330.4L145.5 327.6" stroke="#5543c6" fill="none"/><path d="M145.5 327.6L141.6 328.6" stroke="#584bd9"/><path d="M136.6 330.9L141.6 328.6" stroke="#533fbc"/><path d="M108.5 333.8L113.6 332.7L109.7 331.3L104.7 332.3Z" stroke="#513cb1"/><path d="M213.2 333.7L218.2 333.0L214.4 331.5L209.3 332.2Z" stroke="#513cb1"/><path d="M181.3 319.9L186.3 324.3L182.5 323.2L177.4 319.1Z" stroke="none"/><path d="M177.4 319.1L181.3 319.9L186.3 324.3" stroke="#5a69f9" fill="none"/><path d="M186.3 324.3L182.5 323.2" stroke="#5954e8"/><path d="M177.4 319.1L182.5 323.2" stroke="#5a69f9"/><path d="M149.4 323.9L154.4 321.0L150.6 324.7L145.5 327.6Z" stroke="none"/><path d="M145.5 327.6L149.4 323.9L154.4 321.0" stroke="#5a59ed" fill="none"/><path d="M154.4 321.0L150.6 324.7" stroke="#5a64f5"/><path d="M145.5 327.6L150.6 324.7" stroke="#584bd9"/><path d="M117.5 334.1L122.5 332.9L118.7 331.6L113.6 332.7Z" stroke="#513cb1"/><path d="M222.1 334.4L227.2 333.5L223.3 332.1L218.2 333.0Z" stroke="#513cb1"/><path d="M190.2 326.2L195.3 329.1L191.4 327.4L186.3 324.3Z" stroke="none"/><path d="M186.3 324.3L190.2 326.2L195.3 329.1" stroke="#5954e8" fill="none"/><path d="M195.3 329.1L191.4 327.4" stroke="#5647d0"/><path d="M186.3 324.3L191.4 327.4" stroke="#5954e8"/><path d="M158.3 314.7L163.4 314.9L159.5 319.4L154.4 321.0Z" stroke="none"/><path d="M154.4 321.0L158.3 314.7L163.4 314.9" stroke="#517eff" fill="none"/><path d="M163.4 314.9L159.5 319.4" stroke="#5578fe"/><path d="M154.4 321.0L159.5 319.4" stroke="#5a64f5"/><path d="M126.4 334.1L131.5 332.7L127.6 331.7L122.5 332.9Z" stroke="#513cb1"/><path d="M231.1 334.9L236.1 333.9L232.3 332.4L227.2 333.5Z" stroke="#513cb1"/><path d="M199.2 331.0L204.2 332.1L200.4 330.5L195.3 329.1Z" stroke="none"/><path d="M195.3 329.1L199.2 331.0L204.2 332.1" stroke="#5647d0" fill="none"/><path d="M204.2 332.1L200.4 330.5" stroke="#533fbc"/><path d="M195.3 329.1L200.4 330.5" stroke="#5647d0"/><path d="M167.3 310.3L172.3 314.6L168.5 316.7L163.4 314.9Z" stroke="none"/><path d="M163.4 314.9L167.3 310.3L172.3 314.6" stroke="#4293f8" fill="none"/><path d="M172.3 314.6L168.5 316.7" stroke="#517eff"/><path d="M163.4 314.9L168.5 316.7" stroke="#5578fe"/><path d="M135.4 332.7L140.4 330.4L136.6 330.9L131.5 332.7Z" stroke="#5543c6"/><path d="M103.5 334.8L108.5 333.8L104.7 332.3L99.6 333.4Z" stroke="#513cb1"/><path d="M208.1 333.8L213.2 333.7L209.3 332.2L204.2 332.1Z" stroke="#533fbc"/><path d="M176.2 314.3L181.3 319.9L177.4 319.1L172.3 314.6Z" stroke="none"/><path d="M172.3 314.6L176.2 314.3L181.3 319.9" stroke="#4c83fe" fill="none"/><path d="M181.3 319.9L177.4 319.1" stroke="#5a69f9"/><path d="M172.3 314.6L177.4 319.1" stroke="#517eff"/><path d="M144.3 327.2L149.4 323.9L145.5 327.6L140.4 330.4Z" stroke="none"/><path d="M140.4 330.4L144.3 327.2L149.4 323.9" stroke="#5954e8" fill="none"/><path d="M149.4 323.9L145.5 327.6" stroke="#5a59ed"/><path d="M140.4 330.4L145.5 327.6" stroke="#5543c6"/><path d="M112.4 335.2L117.5 334.1L113.6 332.7L108.5 333.8Z" stroke="#513cb1"/><path d="M217.1 335.2L222.1 334.4L218.2 333.0L213.2 333.7Z" stroke="#513cb1"/><path d="M185.2 321.9L190.2 326.2L186.3 324.3L181.3 319.9Z" stroke="none"/><path d="M181.3 319.9L185.2 321.9L190.2 326.2" stroke="#5a69f9" fill="none"/><path d="M190.2 326.2L186.3 324.3" stroke="#5954e8"/><path d="M181.3 319.9L186.3 324.3" stroke="#5a69f9"/><path d="M153.3 316.6L158.3 314.7L154.4 321.0L149.4 323.9Z" stroke="none"/><path d="M149.4 323.9L153.3 316.6L158.3 314.7" stroke="#517eff" fill="none"/><path d="M158.3 314.7L154.4 321.0" stroke="#517eff"/><path d="M149.4 323.9L154.4 321.0" stroke="#5a59ed"/><path d="M121.4 335.4L126.4 334.1L122.5 332.9L117.5 334.1Z" stroke="#513cb1"/><path d="M226.0 335.9L231.1 334.9L227.2 333.5L222.1 334.4Z" stroke="#513cb1"/><path d="M194.1 328.5L199.2 331.0L195.3 329.1L190.2 326.2Z" stroke="none"/><path d="M190.2 326.2L194.1 328.5L199.2 331.0" stroke="#594fe1" fill="none"/><path d="M199.2 331.0L195.3 329.1" stroke="#5647d0"/><path d="M190.2 326.2L195.3 329.1" stroke="#5954e8"/><path d="M162.2 307.4L167.3 310.3L163.4 314.9L158.3 314.7Z" stroke="none"/><path d="M158.3 314.7L162.2 307.4L167.3 310.3" stroke="#3da1ed" fill="none"/><path d="M167.3 310.3L163.4 314.9" stroke="#4293f8"/><path d="M158.3 314.7L163.4 314.9" stroke="#517eff"/><path d="M130.3 334.6L135.4 332.7L131.5 332.7L126.4 334.1Z" stroke="none"/><path d="M126.4 334.1L130.3 334.6L135.4 332.7" stroke="#533fbc" fill="none"/><path d="M135.4 332.7L131.5 332.7" stroke="#5543c6"/><path d="M126.4 334.1L131.5 332.7" stroke="#513cb1"/><path d="M234.9 336.3L240.0 335.3L236.1 333.9L231.1 334.9Z" stroke="#513cb1"/><path d="M98.4 335.9L103.5 334.8L99.6 333.4L94.5 334.5Z" stroke="#513cb1"/><path d="M203.0 333.0L208.1 333.8L204.2 332.1L199.2 331.0Z" stroke="none"/><path d="M199.2 331.0L203.0 333.0L208.1 333.8" stroke="#5543c6" fill="none"/><path d="M208.1 333.8L204.2 332.1" stroke="#533fbc"/><path d="M199.2 331.0L204.2 332.1" stroke="#5647d0"/><path d="M171.1 307.8L176.2 314.3L172.3 314.6L167.3 310.3Z" stroke="none"/><path d="M167.3 310.3L171.1 307.8L176.2 314.3" stroke="#3da1ed" fill="none"/><path d="M176.2 314.3L172.3 314.6" stroke="#4c83fe"/><path d="M167.3 310.3L172.3 314.6" stroke="#4293f8"/><path d="M139.2 330.4L144.3 327.2L140.4 330.4L135.4 332.7Z" stroke="none"/><path d="M135.4 332.7L139.2 330.4L144.3 327.2" stroke="#584bd9" fill="none"/><path d="M144.3 327.2L140.4 330.4" stroke="#5954e8"/><path d="M135.4 332.7L140.4 330.4" stroke="#5543c6"/><path d="M107.3 336.2L112.4 335.2L108.5 333.8L103.5 334.8Z" stroke="#513cb1"/><path d="M212.0 335.5L217.1 335.2L213.2 333.7L208.1 333.8Z" stroke="#533fbc"/><path d="M180.1 316.0L185.2 321.9L181.3 319.9L176.2 314.3Z" stroke="none"/><path d="M176.2 314.3L180.1 316.0L185.2 321.9" stroke="#4c83fe" fill="none"/><path d="M185.2 321.9L181.3 319.9" stroke="#5a69f9"/><path d="M176.2 314.3L181.3 319.9" stroke="#4c83fe"/><path d="M148.2 320.1L153.3 316.6L149.4 323.9L144.3 327.2Z" stroke="none"/><path d="M144.3 327.2L148.2 320.1L153.3 316.6" stroke="#5773fd" fill="none"/><path d="M153.3 316.6L149.4 323.9" stroke="#517eff"/><path d="M144.3 327.2L149.4 323.9" stroke="#5954e8"/><path d="M116.3 336.5L121.4 335.4L117.5 334.1L112.4 335.2Z" stroke="#513cb1"/><path d="M220.9 336.7L226.0 335.9L222.1 334.4L217.1 335.2Z" stroke="#513cb1"/><path d="M189.0 324.7L194.1 328.5L190.2 326.2L185.2 321.9Z" stroke="none"/><path d="M185.2 321.9L189.0 324.7L194.1 328.5" stroke="#5a64f5" fill="none"/><path d="M194.1 328.5L190.2 326.2" stroke="#594fe1"/><path d="M185.2 321.9L190.2 326.2" stroke="#5a69f9"/><path d="M157.1 307.1L162.2 307.4L158.3 314.7L153.3 316.6Z" stroke="none"/><path d="M153.3 316.6L157.1 307.1L162.2 307.4" stroke="#3ba5ea" fill="none"/><path d="M162.2 307.4L158.3 314.7" stroke="#3da1ed"/><path d="M153.3 316.6L158.3 314.7" stroke="#517eff"/><path d="M125.2 336.2L130.3 334.6L126.4 334.1L121.4 335.4Z" stroke="#533fbc"/><path d="M229.9 337.3L234.9 336.3L231.1 334.9L226.0 335.9Z" stroke="#513cb1"/><path d="M93.3 336.9L98.4 335.9L94.5 334.5L89.5 335.5Z" stroke="#513cb1"/><path d="M198.0 331.1L203.0 333.0L199.2 331.0L194.1 328.5Z" stroke="none"/><path d="M194.1 328.5L198.0 331.1L203.0 333.0" stroke="#594fe1" fill="none"/><path d="M203.0 333.0L199.2 331.0" stroke="#5543c6"/><path d="M194.1 328.5L199.2 331.0" stroke="#594fe1"/><path d="M166.1 301.5L171.1 307.8L167.3 310.3L162.2 307.4Z" stroke="none"/><path d="M162.2 307.4L166.1 301.5L171.1 307.8" stroke="#2fb6df" fill="none"/><path d="M171.1 307.8L167.3 310.3" stroke="#3da1ed"/><path d="M162.2 307.4L167.3 310.3" stroke="#3da1ed"/><path d="M134.2 333.3L139.2 330.4L135.4 332.7L130.3 334.6Z" stroke="none"/><path d="M130.3 334.6L134.2 333.3L139.2 330.4" stroke="#5647d0" fill="none"/><path d="M139.2 330.4L135.4 332.7" stroke="#584bd9"/><path d="M130.3 334.6L135.4 332.7" stroke="#533fbc"/><path d="M238.8 337.8L243.9 336.7L240.0 335.3L234.9 336.3Z" stroke="#513cb1"/><path d="M102.3 337.3L107.3 336.2L103.5 334.8L98.4 335.9Z" stroke="#513cb1"/><path d="M206.9 335.1L212.0 335.5L208.1 333.8L203.0 333.0Z" stroke="#5543c6"/><path d="M175.0 307.9L180.1 316.0L176.2 314.3L171.1 307.8Z" stroke="none"/><path d="M171.1 307.8L175.0 307.9L180.1 316.0" stroke="#3ba5ea" fill="none"/><path d="M180.1 316.0L176.2 314.3" stroke="#4c83fe"/><path d="M171.1 307.8L176.2 314.3" stroke="#3da1ed"/><path d="M143.1 324.6L148.2 320.1L144.3 327.2L139.2 330.4Z" stroke="none"/><path d="M139.2 330.4L143.1 324.6L148.2 320.1" stroke="#5a69f9" fill="none"/><path d="M148.2 320.1L144.3 327.2" stroke="#5773fd"/><path d="M139.2 330.4L144.3 327.2" stroke="#584bd9"/><path d="M111.2 337.6L116.3 336.5L112.4 335.2L107.3 336.2Z" stroke="#513cb1"/><path d="M215.9 337.2L220.9 336.7L217.1 335.2L212.0 335.5Z" stroke="#533fbc"/><path d="M184.0 319.1L189.0 324.7L185.2 321.9L180.1 316.0Z" stroke="none"/><path d="M180.1 316.0L184.0 319.1L189.0 324.7" stroke="#517eff" fill="none"/><path d="M189.0 324.7L185.2 321.9" stroke="#5a64f5"/><path d="M180.1 316.0L185.2 321.9" stroke="#4c83fe"/><path d="M152.1 310.3L157.1 307.1L153.3 316.6L148.2 320.1Z" stroke="none"/><path d="M148.2 320.1L152.1 310.3L157.1 307.1" stroke="#409cf0" fill="none"/><path d="M157.1 307.1L153.3 316.6" stroke="#3ba5ea"/><path d="M148.2 320.1L153.3 316.6" stroke="#5773fd"/><path d="M120.2 337.6L125.2 336.2L121.4 335.4L116.3 336.5Z" stroke="#513cb1"/><path d="M224.8 338.3L229.9 337.3L226.0 335.9L220.9 336.7Z" stroke="#513cb1"/><path d="M88.3 338.0L93.3 336.9L89.5 335.5L84.4 336.6Z" stroke="#513cb1"/><path d="M192.9 328.0L198.0 331.1L194.1 328.5L189.0 324.7Z" stroke="none"/><path d="M189.0 324.7L192.9 328.0L198.0 331.1" stroke="#5a5ef2" fill="none"/><path d="M198.0 331.1L194.1 328.5" stroke="#594fe1"/><path d="M189.0 324.7L194.1 328.5" stroke="#5a64f5"/><path d="M161.0 298.2L166.1 301.5L162.2 307.4L157.1 307.1Z" stroke="none"/><path d="M157.1 307.1L161.0 298.2L166.1 301.5" stroke="#1abfcf" fill="none"/><path d="M166.1 301.5L162.2 307.4" stroke="#2fb6df"/><path d="M157.1 307.1L162.2 307.4" stroke="#3ba5ea"/><path d="M129.1 335.9L134.2 333.3L130.3 334.6L125.2 336.2Z" stroke="none"/><path d="M125.2 336.2L129.1 335.9L134.2 333.3" stroke="#5543c6" fill="none"/><path d="M134.2 333.3L130.3 334.6" stroke="#5647d0"/><path d="M125.2 336.2L130.3 334.6" stroke="#533fbc"/><path d="M233.8 338.8L238.8 337.8L234.9 336.3L229.9 337.3Z" stroke="#513cb1"/><path d="M97.2 338.4L102.3 337.3L98.4 335.9L93.3 336.9Z" stroke="#513cb1"/><path d="M201.9 333.8L206.9 335.1L203.0 333.0L198.0 331.1Z" stroke="none"/><path d="M198.0 331.1L201.9 333.8L206.9 335.1" stroke="#584bd9" fill="none"/><path d="M206.9 335.1L203.0 333.0" stroke="#5543c6"/><path d="M198.0 331.1L203.0 333.0" stroke="#594fe1"/><path d="M170.0 298.3L175.0 307.9L171.1 307.8L166.1 301.5Z" stroke="none"/><path d="M166.1 301.5L170.0 298.3L175.0 307.9" stroke="#1abfcf" fill="none"/><path d="M175.0 307.9L171.1 307.8" stroke="#3ba5ea"/><path d="M166.1 301.5L171.1 307.8" stroke="#2fb6df"/><path d="M138.1 329.3L143.1 324.6L139.2 330.4L134.2 333.3Z" stroke="none"/><path d="M134.2 333.3L138.1 329.3L143.1 324.6" stroke="#5a59ed" fill="none"/><path d="M143.1 324.6L139.2 330.4" stroke="#5a69f9"/><path d="M134.2 333.3L139.2 330.4" stroke="#5647d0"/><path d="M242.7 339.2L247.8 338.1L243.9 336.7L238.8 337.8Z" stroke="#513cb1"/><path d="M106.2 338.7L111.2 337.6L107.3 336.2L102.3 337.3Z" stroke="#513cb1"/><path d="M210.8 337.2L215.9 337.2L212.0 335.5L206.9 335.1Z" stroke="#533fbc"/><path d="M178.9 310.3L184.0 319.1L180.1 316.0L175.0 307.9Z" stroke="none"/><path d="M175.0 307.9L178.9 310.3L184.0 319.1" stroke="#3da1ed" fill="none"/><path d="M184.0 319.1L180.1 316.0" stroke="#517eff"/><path d="M175.0 307.9L180.1 316.0" stroke="#3ba5ea"/><path d="M147.0 316.3L152.1 310.3L148.2 320.1L143.1 324.6Z" stroke="none"/><path d="M143.1 324.6L147.0 316.3L152.1 310.3" stroke="#448efa" fill="none"/><path d="M152.1 310.3L148.2 320.1" stroke="#409cf0"/><path d="M143.1 324.6L148.2 320.1" stroke="#5a69f9"/><path d="M115.1 338.9L120.2 337.6L116.3 336.5L111.2 337.6Z" stroke="#513cb1"/><path d="M219.7 338.9L224.8 338.3L220.9 336.7L215.9 337.2Z" stroke="#513cb1"/><path d="M83.2 339.1L88.3 338.0L84.4 336.6L79.3 337.6Z" stroke="#513cb1"/><path d="M187.8 323.1L192.9 328.0L189.0 324.7L184.0 319.1Z" stroke="none"/><path d="M184.0 319.1L187.8 323.1L192.9 328.0" stroke="#5773fd" fill="none"/><path d="M192.9 328.0L189.0 324.7" stroke="#5a5ef2"/><path d="M184.0 319.1L189.0 324.7" stroke="#517eff"/><path d="M155.9 300.2L161.0 298.2L157.1 307.1L152.1 310.3Z" stroke="none"/><path d="M152.1 310.3L155.9 300.2L161.0 298.2" stroke="#1abfcf" fill="none"/><path d="M161.0 298.2L157.1 307.1" stroke="#1abfcf"/><path d="M152.1 310.3L157.1 307.1" stroke="#409cf0"/><path d="M124.0 338.0L129.1 335.9L125.2 336.2L120.2 337.6Z" stroke="none"/><path d="M120.2 337.6L124.0 338.0L129.1 335.9" stroke="#533fbc" fill="none"/><path d="M129.1 335.9L125.2 336.2" stroke="#5543c6"/><path d="M120.2 337.6L125.2 336.2" stroke="#513cb1"/><path d="M228.7 339.7L233.8 338.8L229.9 337.3L224.8 338.3Z" stroke="#513cb1"/><path d="M92.1 339.4L97.2 338.4L93.3 336.9L88.3 338.0Z" stroke="#513cb1"/><path d="M196.8 331.5L201.9 333.8L198.0 331.1L192.9 328.0Z" stroke="none"/><path d="M192.9 328.0L196.8 331.5L201.9 333.8" stroke="#5954e8" fill="none"/><path d="M201.9 333.8L198.0 331.1" stroke="#584bd9"/><path d="M192.9 328.0L198.0 331.1" stroke="#5a5ef2"/><path d="M164.9 290.7L170.0 298.3L166.1 301.5L161.0 298.2Z" stroke="none"/><path d="M161.0 298.2L164.9 290.7L170.0 298.3" stroke="#4bcda1" fill="none"/><path d="M170.0 298.3L166.1 301.5" stroke="#1abfcf"/><path d="M161.0 298.2L166.1 301.5" stroke="#1abfcf"/><path d="M133.0 333.7L138.1 329.3L134.2 333.3L129.1 335.9Z" stroke="none"/><path d="M129.1 335.9L133.0 333.7L138.1 329.3" stroke="#584bd9" fill="none"/><path d="M138.1 329.3L134.2 333.3" stroke="#5a59ed"/><path d="M129.1 335.9L134.2 333.3" stroke="#5543c6"/><path d="M237.6 340.2L242.7 339.2L238.8 337.8L233.8 338.8Z" stroke="#513cb1"/><path d="M101.1 339.8L106.2 338.7L102.3 337.3L97.2 338.4Z" stroke="#513cb1"/><path d="M205.7 336.4L210.8 337.2L206.9 335.1L201.9 333.8Z" stroke="none"/><path d="M201.9 333.8L205.7 336.4L210.8 337.2" stroke="#5647d0" fill="none"/><path d="M210.8 337.2L206.9 335.1" stroke="#533fbc"/><path d="M201.9 333.8L206.9 335.1" stroke="#584bd9"/><path d="M173.8 297.9L178.9 310.3L175.0 307.9L170.0 298.3Z" stroke="none"/><path d="M170.0 298.3L173.8 297.9L178.9 310.3" stroke="#23c4c3" fill="none"/><path d="M178.9 310.3L175.0 307.9" stroke="#3da1ed"/><path d="M170.0 298.3L175.0 307.9" stroke="#1abfcf"/><path d="M141.9 323.4L147.0 316.3L143.1 324.6L138.1 329.3Z" stroke="none"/><path d="M138.1 329.3L141.9 323.4L147.0 316.3" stroke="#5773fd" fill="none"/><path d="M147.0 316.3L143.1 324.6" stroke="#448efa"/><path d="M138.1 329.3L143.1 324.6" stroke="#5a59ed"/><path d="M246.6 340.6L251.6 339.6L247.8 338.1L242.7 339.2Z" stroke="#513cb1"/><path d="M110.0 340.1L115.1 338.9L111.2 337.6L106.2 338.7Z" stroke="#513cb1"/><path d="M214.7 339.2L219.7 338.9L215.9 337.2L210.8 337.2Z" stroke="#533fbc"/><path d="M78.1 340.1L83.2 339.1L79.3 337.6L74.3 338.7Z" stroke="#513cb1"/><path d="M182.8 314.5L187.8 323.1L184.0 319.1L178.9 310.3Z" stroke="none"/><path d="M178.9 310.3L182.8 314.5L187.8 323.1" stroke="#4298f4" fill="none"/><path d="M187.8 323.1L184.0 319.1" stroke="#5773fd"/><path d="M178.9 310.3L184.0 319.1" stroke="#3da1ed"/><path d="M150.9 307.4L155.9 300.2L152.1 310.3L147.0 316.3Z" stroke="none"/><path d="M147.0 316.3L150.9 307.4L155.9 300.2" stroke="#36aee5" fill="none"/><path d="M155.9 300.2L152.1 310.3" stroke="#1abfcf"/><path d="M147.0 316.3L152.1 310.3" stroke="#448efa"/><path d="M119.0 339.8L124.0 338.0L120.2 337.6L115.1 338.9Z" stroke="#533fbc"/><path d="M223.6 340.5L228.7 339.7L224.8 338.3L219.7 338.9Z" stroke="#513cb1"/><path d="M87.1 340.5L92.1 339.4L88.3 338.0L83.2 339.1Z" stroke="#513cb1"/><path d="M191.7 327.7L196.8 331.5L192.9 328.0L187.8 323.1Z" stroke="none"/><path d="M187.8 323.1L191.7 327.7L196.8 331.5" stroke="#5a69f9" fill="none"/><path d="M196.8 331.5L192.9 328.0" stroke="#5954e8"/><path d="M187.8 323.1L192.9 328.0" stroke="#5773fd"/><path d="M159.8 289.6L164.9 290.7L161.0 298.2L155.9 300.2Z" stroke="none"/><path d="M155.9 300.2L159.8 289.6L164.9 290.7" stroke="#52cf99" fill="none"/><path d="M164.9 290.7L161.0 298.2" stroke="#4bcda1"/><path d="M155.9 300.2L161.0 298.2" stroke="#1abfcf"/><path d="M127.9 337.3L133.0 333.7L129.1 335.9L124.0 338.0Z" stroke="none"/><path d="M124.0 338.0L127.9 337.3L133.0 333.7" stroke="#5647d0" fill="none"/><path d="M133.0 333.7L129.1 335.9" stroke="#584bd9"/><path d="M124.0 338.0L129.1 335.9" stroke="#533fbc"/><path d="M232.6 341.2L237.6 340.2L233.8 338.8L228.7 339.7Z" stroke="#513cb1"/><path d="M96.0 340.8L101.1 339.8L97.2 338.4L92.1 339.4Z" stroke="#513cb1"/><path d="M200.7 335.0L205.7 336.4L201.9 333.8L196.8 331.5Z" stroke="none"/><path d="M196.8 331.5L200.7 335.0L205.7 336.4" stroke="#594fe1" fill="none"/><path d="M205.7 336.4L201.9 333.8" stroke="#5647d0"/><path d="M196.8 331.5L201.9 333.8" stroke="#5954e8"/><path d="M168.8 285.4L173.8 297.9L170.0 298.3L164.9 290.7Z" stroke="none"/><path d="M164.9 290.7L168.8 285.4L173.8 297.9" stroke="#80d273" fill="none"/><path d="M173.8 297.9L170.0 298.3" stroke="#23c4c3"/><path d="M164.9 290.7L170.0 298.3" stroke="#4bcda1"/><path d="M136.9 330.1L141.9 323.4L138.1 329.3L133.0 333.7Z" stroke="none"/><path d="M133.0 333.7L136.9 330.1L141.9 323.4" stroke="#5a5ef2" fill="none"/><path d="M141.9 323.4L138.1 329.3" stroke="#5773fd"/><path d="M133.0 333.7L138.1 329.3" stroke="#584bd9"/><path d="M241.5 341.7L246.6 340.6L242.7 339.2L237.6 340.2Z" stroke="#513cb1"/><path d="M105.0 341.2L110.0 340.1L106.2 338.7L101.1 339.8Z" stroke="#513cb1"/><path d="M209.6 338.9L214.7 339.2L210.8 337.2L205.7 336.4Z" stroke="none"/><path d="M205.7 336.4L209.6 338.9L214.7 339.2" stroke="#5543c6" fill="none"/><path d="M214.7 339.2L210.8 337.2" stroke="#533fbc"/><path d="M205.7 336.4L210.8 337.2" stroke="#5647d0"/><path d="M73.1 341.2L78.1 340.1L74.3 338.7L69.2 339.7Z" stroke="#513cb1"/><path d="M177.7 300.9L182.8 314.5L178.9 310.3L173.8 297.9Z" stroke="none"/><path d="M173.8 297.9L177.7 300.9L182.8 314.5" stroke="#1bc1c9" fill="none"/><path d="M182.8 314.5L178.9 310.3" stroke="#4298f4"/><path d="M173.8 297.9L178.9 310.3" stroke="#23c4c3"/><path d="M145.8 317.2L150.9 307.4L147.0 316.3L141.9 323.4Z" stroke="none"/><path d="M141.9 323.4L145.8 317.2L150.9 307.4" stroke="#4293f8" fill="none"/><path d="M150.9 307.4L147.0 316.3" stroke="#36aee5"/><path d="M141.9 323.4L147.0 316.3" stroke="#5773fd"/><path d="M250.5 342.0L255.5 341.0L251.6 339.6L246.6 340.6Z" stroke="#513cb1"/><path d="M113.9 341.3L119.0 339.8L115.1 338.9L110.0 340.1Z" stroke="#513cb1"/><path d="M218.6 341.1L223.6 340.5L219.7 338.9L214.7 339.2Z" stroke="#533fbc"/><path d="M82.0 341.5L87.1 340.5L83.2 339.1L78.1 340.1Z" stroke="#513cb1"/><path d="M186.7 320.3L191.7 327.7L187.8 323.1L182.8 314.5Z" stroke="none"/><path d="M182.8 314.5L186.7 320.3L191.7 327.7" stroke="#4789fd" fill="none"/><path d="M191.7 327.7L187.8 323.1" stroke="#5a69f9"/><path d="M182.8 314.5L187.8 323.1" stroke="#4298f4"/><path d="M154.8 296.6L159.8 289.6L155.9 300.2L150.9 307.4Z" stroke="none"/><path d="M150.9 307.4L154.8 296.6L159.8 289.6" stroke="#3ac8b7" fill="none"/><path d="M159.8 289.6L155.9 300.2" stroke="#52cf99"/><path d="M150.9 307.4L155.9 300.2" stroke="#36aee5"/><path d="M122.9 340.1L127.9 337.3L124.0 338.0L119.0 339.8Z" stroke="none"/><path d="M119.0 339.8L122.9 340.1L127.9 337.3" stroke="#533fbc" fill="none"/><path d="M127.9 337.3L124.0 338.0" stroke="#5647d0"/><path d="M119.0 339.8L124.0 338.0" stroke="#533fbc"/><path d="M227.5 342.1L232.6 341.2L228.7 339.7L223.6 340.5Z" stroke="#513cb1"/><path d="M91.0 341.9L96.0 340.8L92.1 339.4L87.1 340.5Z" stroke="#513cb1"/><path d="M195.6 332.4L200.7 335.0L196.8 331.5L191.7 327.7Z" stroke="none"/><path d="M191.7 327.7L195.6 332.4L200.7 335.0" stroke="#5a59ed" fill="none"/><path d="M200.7 335.0L196.8 331.5" stroke="#594fe1"/><path d="M191.7 327.7L196.8 331.5" stroke="#5a69f9"/><path d="M163.7 279.0L168.8 285.4L164.9 290.7L159.8 289.6Z" stroke="none"/><path d="M159.8 289.6L163.7 279.0L168.8 285.4" stroke="#c0ca45" fill="none"/><path d="M168.8 285.4L164.9 290.7" stroke="#80d273"/><path d="M159.8 289.6L164.9 290.7" stroke="#52cf99"/><path d="M131.8 335.7L136.9 330.1L133.0 333.7L127.9 337.3Z" stroke="none"/><path d="M127.9 337.3L131.8 335.7L136.9 330.1" stroke="#594fe1" fill="none"/><path d="M136.9 330.1L133.0 333.7" stroke="#5a5ef2"/><path d="M127.9 337.3L133.0 333.7" stroke="#5647d0"/><path d="M236.5 342.7L241.5 341.7L237.6 340.2L232.6 341.2Z" stroke="#513cb1"/><path d="M99.9 342.2L105.0 341.2L101.1 339.8L96.0 340.8Z" stroke="#513cb1"/><path d="M204.6 338.3L209.6 338.9L205.7 336.4L200.7 335.0Z" stroke="none"/><path d="M200.7 335.0L204.6 338.3L209.6 338.9" stroke="#5647d0" fill="none"/><path d="M209.6 338.9L205.7 336.4" stroke="#5543c6"/><path d="M200.7 335.0L205.7 336.4" stroke="#594fe1"/><path d="M68.0 342.2L73.1 341.2L69.2 339.7L64.1 340.8Z" stroke="#513cb1"/><path d="M172.7 284.9L177.7 300.9L173.8 297.9L168.8 285.4Z" stroke="none"/><path d="M168.8 285.4L172.7 284.9L177.7 300.9" stroke="#8dd169" fill="none"/><path d="M177.7 300.9L173.8 297.9" stroke="#1bc1c9"/><path d="M168.8 285.4L173.8 297.9" stroke="#80d273"/><path d="M140.8 326.6L145.8 317.2L141.9 323.4L136.9 330.1Z" stroke="none"/><path d="M136.9 330.1L140.8 326.6L145.8 317.2" stroke="#5773fd" fill="none"/><path d="M145.8 317.2L141.9 323.4" stroke="#4293f8"/><path d="M136.9 330.1L141.9 323.4" stroke="#5a5ef2"/><path d="M245.4 343.1L250.5 342.0L246.6 340.6L241.5 341.7Z" stroke="#513cb1"/><path d="M108.9 342.5L113.9 341.3L110.0 340.1L105.0 341.2Z" stroke="#513cb1"/><path d="M213.5 341.3L218.6 341.1L214.7 339.2L209.6 338.9Z" stroke="#533fbc"/><path d="M77.0 342.6L82.0 341.5L78.1 340.1L73.1 341.2Z" stroke="#513cb1"/><path d="M181.6 307.3L186.7 320.3L182.8 314.5L177.7 300.9Z" stroke="none"/><path d="M177.7 300.9L181.6 307.3L186.7 320.3" stroke="#2fb6df" fill="none"/><path d="M186.7 320.3L182.8 314.5" stroke="#4789fd"/><path d="M177.7 300.9L182.8 314.5" stroke="#1bc1c9"/><path d="M149.7 308.7L154.8 296.6L150.9 307.4L145.8 317.2Z" stroke="none"/><path d="M145.8 317.2L149.7 308.7L154.8 296.6" stroke="#33b2e3" fill="none"/><path d="M154.8 296.6L150.9 307.4" stroke="#3ac8b7"/><path d="M145.8 317.2L150.9 307.4" stroke="#4293f8"/><path d="M254.3 343.5L259.4 342.4L255.5 341.0L250.5 342.0Z" stroke="#513cb1"/><path d="M117.8 342.2L122.9 340.1L119.0 339.8L113.9 341.3Z" stroke="#533fbc"/><path d="M222.4 342.8L227.5 342.1L223.6 340.5L218.6 341.1Z" stroke="#513cb1"/><path d="M85.9 343.0L91.0 341.9L87.1 340.5L82.0 341.5Z" stroke="#513cb1"/><path d="M190.5 326.8L195.6 332.4L191.7 327.7L186.7 320.3Z" stroke="none"/><path d="M186.7 320.3L190.5 326.8L195.6 332.4" stroke="#5773fd" fill="none"/><path d="M195.6 332.4L191.7 327.7" stroke="#5a59ed"/><path d="M186.7 320.3L191.7 327.7" stroke="#4789fd"/><path d="M158.6 282.6L163.7 279.0L159.8 289.6L154.8 296.6Z" stroke="none"/><path d="M154.8 296.6L158.6 282.6L163.7 279.0" stroke="#a7ce55" fill="none"/><path d="M163.7 279.0L159.8 289.6" stroke="#c0ca45"/><path d="M154.8 296.6L159.8 289.6" stroke="#3ac8b7"/><path d="M126.7 339.8L131.8 335.7L127.9 337.3L122.9 340.1Z" stroke="none"/><path d="M122.9 340.1L126.7 339.8L131.8 335.7" stroke="#5647d0" fill="none"/><path d="M131.8 335.7L127.9 337.3" stroke="#594fe1"/><path d="M122.9 340.1L127.9 337.3" stroke="#533fbc"/><path d="M231.4 343.6L236.5 342.7L232.6 341.2L227.5 342.1Z" stroke="#513cb1"/><path d="M94.8 343.3L99.9 342.2L96.0 340.8L91.0 341.9Z" stroke="#513cb1"/><path d="M199.5 336.9L204.6 338.3L200.7 335.0L195.6 332.4Z" stroke="none"/><path d="M195.6 332.4L199.5 336.9L204.6 338.3" stroke="#594fe1" fill="none"/><path d="M204.6 338.3L200.7 335.0" stroke="#5647d0"/><path d="M195.6 332.4L200.7 335.0" stroke="#5a59ed"/><path d="M62.9 343.3L68.0 342.2L64.1 340.8L59.1 341.9Z" stroke="#513cb1"/><path d="M167.6 273.4L172.7 284.9L168.8 285.4L163.7 279.0Z" stroke="none"/><path d="M163.7 279.0L167.6 273.4L172.7 284.9" stroke="#f1c14a" fill="none"/><path d="M172.7 284.9L168.8 285.4" stroke="#8dd169"/><path d="M163.7 279.0L168.8 285.4" stroke="#c0ca45"/><path d="M135.7 334.2L140.8 326.6L136.9 330.1L131.8 335.7Z" stroke="none"/><path d="M131.8 335.7L135.7 334.2L140.8 326.6" stroke="#5a59ed" fill="none"/><path d="M140.8 326.6L136.9 330.1" stroke="#5773fd"/><path d="M131.8 335.7L136.9 330.1" stroke="#594fe1"/><path d="M240.3 344.1L245.4 343.1L241.5 341.7L236.5 342.7Z" stroke="#513cb1"/><path d="M103.8 343.6L108.9 342.5L105.0 341.2L99.9 342.2Z" stroke="#513cb1"/><path d="M208.4 341.2L213.5 341.3L209.6 338.9L204.6 338.3Z" stroke="none"/><path d="M204.6 338.3L208.4 341.2L213.5 341.3" stroke="#5543c6" fill="none"/><path d="M213.5 341.3L209.6 338.9" stroke="#533fbc"/><path d="M204.6 338.3L209.6 338.9" stroke="#5647d0"/><path d="M71.9 343.6L77.0 342.6L73.1 341.2L68.0 342.2Z" stroke="#513cb1"/><path d="M176.5 290.8L181.6 307.3L177.7 300.9L172.7 284.9Z" stroke="none"/><path d="M172.7 284.9L176.5 290.8L181.6 307.3" stroke="#68d187" fill="none"/><path d="M181.6 307.3L177.7 300.9" stroke="#2fb6df"/><path d="M172.7 284.9L177.7 300.9" stroke="#8dd169"/><path d="M144.6 321.5L149.7 308.7L145.8 317.2L140.8 326.6Z" stroke="none"/><path d="M140.8 326.6L144.6 321.5L149.7 308.7" stroke="#4789fd" fill="none"/><path d="M149.7 308.7L145.8 317.2" stroke="#33b2e3"/><path d="M140.8 326.6L145.8 317.2" stroke="#5773fd"/><path d="M249.3 344.5L254.3 343.5L250.5 342.0L245.4 343.1Z" stroke="#513cb1"/><path d="M112.7 343.7L117.8 342.2L113.9 341.3L108.9 342.5Z" stroke="#513cb1"/><path d="M217.4 343.3L222.4 342.8L218.6 341.1L213.5 341.3Z" stroke="#533fbc"/><path d="M80.8 344.0L85.9 343.0L82.0 341.5L77.0 342.6Z" stroke="#513cb1"/><path d="M185.5 316.0L190.5 326.8L186.7 320.3L181.6 307.3Z" stroke="none"/><path d="M181.6 307.3L185.5 316.0L190.5 326.8" stroke="#3da1ed" fill="none"/><path d="M190.5 326.8L186.7 320.3" stroke="#5773fd"/><path d="M181.6 307.3L186.7 320.3" stroke="#2fb6df"/><path d="M153.6 294.8L158.6 282.6L154.8 296.6L149.7 308.7Z" stroke="none"/><path d="M149.7 308.7L153.6 294.8L158.6 282.6" stroke="#4bcda1" fill="none"/><path d="M158.6 282.6L154.8 296.6" stroke="#a7ce55"/><path d="M149.7 308.7L154.8 296.6" stroke="#33b2e3"/><path d="M258.2 344.9L263.3 343.8L259.4 342.4L254.3 343.5Z" stroke="#513cb1"/><path d="M121.7 342.8L126.7 339.8L122.9 340.1L117.8 342.2Z" stroke="none"/><path d="M117.8 342.2L121.7 342.8L126.7 339.8" stroke="#533fbc" fill="none"/><path d="M126.7 339.8L122.9 340.1" stroke="#5647d0"/><path d="M117.8 342.2L122.9 340.1" stroke="#533fbc"/><path d="M226.3 344.5L231.4 343.6L227.5 342.1L222.4 342.8Z" stroke="#513cb1"/><path d="M89.8 344.4L94.8 343.3L91.0 341.9L85.9 343.0Z" stroke="#513cb1"/><path d="M194.4 333.3L199.5 336.9L195.6 332.4L190.5 326.8Z" stroke="none"/><path d="M190.5 326.8L194.4 333.3L199.5 336.9" stroke="#5a5ef2" fill="none"/><path d="M199.5 336.9L195.6 332.4" stroke="#594fe1"/><path d="M190.5 326.8L195.6 332.4" stroke="#5773fd"/><path d="M57.9 344.3L62.9 343.3L59.1 341.9L54.0 342.9Z" stroke="#513cb1"/><path d="M162.5 271.5L167.6 273.4L163.7 279.0L158.6 282.6Z" stroke="none"/><path d="M158.6 282.6L162.5 271.5L167.6 273.4" stroke="#fec450" fill="none"/><path d="M167.6 273.4L163.7 279.0" stroke="#f1c14a"/><path d="M158.6 282.6L163.7 279.0" stroke="#a7ce55"/><path d="M130.6 339.6L135.7 334.2L131.8 335.7L126.7 339.8Z" stroke="none"/><path d="M126.7 339.8L130.6 339.6L135.7 334.2" stroke="#584bd9" fill="none"/><path d="M135.7 334.2L131.8 335.7" stroke="#5a59ed"/><path d="M126.7 339.8L131.8 335.7" stroke="#5647d0"/><path d="M235.3 345.1L240.3 344.1L236.5 342.7L231.4 343.6Z" stroke="#513cb1"/><path d="M98.7 344.7L103.8 343.6L99.9 342.2L94.8 343.3Z" stroke="#513cb1"/><path d="M203.4 340.7L208.4 341.2L204.6 338.3L199.5 336.9Z" stroke="none"/><path d="M199.5 336.9L203.4 340.7L208.4 341.2" stroke="#5647d0" fill="none"/><path d="M208.4 341.2L204.6 338.3" stroke="#5543c6"/><path d="M199.5 336.9L204.6 338.3" stroke="#594fe1"/><path d="M66.8 344.7L71.9 343.6L68.0 342.2L62.9 343.3Z" stroke="#513cb1"/><path d="M171.5 277.0L176.5 290.8L172.7 284.9L167.6 273.4Z" stroke="none"/><path d="M167.6 273.4L171.5 277.0L176.5 290.8" stroke="#e9c242" fill="none"/><path d="M176.5 290.8L172.7 284.9" stroke="#68d187"/><path d="M167.6 273.4L172.7 284.9" stroke="#f1c14a"/><path d="M139.6 331.7L144.6 321.5L140.8 326.6L135.7 334.2Z" stroke="none"/><path d="M135.7 334.2L139.6 331.7L144.6 321.5" stroke="#5a69f9" fill="none"/><path d="M144.6 321.5L140.8 326.6" stroke="#4789fd"/><path d="M135.7 334.2L140.8 326.6" stroke="#5a59ed"/><path d="M244.2 345.6L249.3 344.5L245.4 343.1L240.3 344.1Z" stroke="#513cb1"/><path d="M107.7 345.0L112.7 343.7L108.9 342.5L103.8 343.6Z" stroke="#513cb1"/><path d="M212.3 343.7L217.4 343.3L213.5 341.3L208.4 341.2Z" stroke="#533fbc"/><path d="M75.8 345.1L80.8 344.0L77.0 342.6L71.9 343.6Z" stroke="#513cb1"/><path d="M180.4 301.2L185.5 316.0L181.6 307.3L176.5 290.8Z" stroke="none"/><path d="M176.5 290.8L180.4 301.2L185.5 316.0" stroke="#30c6bd" fill="none"/><path d="M185.5 316.0L181.6 307.3" stroke="#3da1ed"/><path d="M176.5 290.8L181.6 307.3" stroke="#68d187"/><path d="M148.5 310.6L153.6 294.8L149.7 308.7L144.6 321.5Z" stroke="none"/><path d="M144.6 321.5L148.5 310.6L153.6 294.8" stroke="#33b2e3" fill="none"/><path d="M153.6 294.8L149.7 308.7" stroke="#4bcda1"/><path d="M144.6 321.5L149.7 308.7" stroke="#4789fd"/><path d="M253.2 345.9L258.2 344.9L254.3 343.5L249.3 344.5Z" stroke="#513cb1"/><path d="M116.6 344.8L121.7 342.8L117.8 342.2L112.7 343.7Z" stroke="#513cb1"/><path d="M221.3 345.2L226.3 344.5L222.4 342.8L217.4 343.3Z" stroke="#513cb1"/><path d="M84.7 345.4L89.8 344.4L85.9 343.0L80.8 344.0Z" stroke="#513cb1"/><path d="M189.4 325.3L194.4 333.3L190.5 326.8L185.5 316.0Z" stroke="none"/><path d="M185.5 316.0L189.4 325.3L194.4 333.3" stroke="#4c83fe" fill="none"/><path d="M194.4 333.3L190.5 326.8" stroke="#5a5ef2"/><path d="M185.5 316.0L190.5 326.8" stroke="#3da1ed"/><path d="M52.8 345.4L57.9 344.3L54.0 342.9L48.9 344.0Z" stroke="#513cb1"/><path d="M157.5 280.0L162.5 271.5L158.6 282.6L153.6 294.8Z" stroke="none"/><path d="M153.6 294.8L157.5 280.0L162.5 271.5" stroke="#d6c63d" fill="none"/><path d="M162.5 271.5L158.6 282.6" stroke="#fec450"/><path d="M153.6 294.8L158.6 282.6" stroke="#4bcda1"/><path d="M262.1 346.3L267.2 345.2L263.3 343.8L258.2 344.9Z" stroke="#513cb1"/><path d="M125.6 343.2L130.6 339.6L126.7 339.8L121.7 342.8Z" stroke="none"/><path d="M121.7 342.8L125.6 343.2L130.6 339.6" stroke="#5543c6" fill="none"/><path d="M130.6 339.6L126.7 339.8" stroke="#584bd9"/><path d="M121.7 342.8L126.7 339.8" stroke="#533fbc"/><path d="M230.2 346.1L235.3 345.1L231.4 343.6L226.3 344.5Z" stroke="#513cb1"/><path d="M93.7 345.8L98.7 344.7L94.8 343.3L89.8 344.4Z" stroke="#513cb1"/><path d="M198.3 338.9L203.4 340.7L199.5 336.9L194.4 333.3Z" stroke="none"/><path d="M194.4 333.3L198.3 338.9L203.4 340.7" stroke="#594fe1" fill="none"/><path d="M203.4 340.7L199.5 336.9" stroke="#5647d0"/><path d="M194.4 333.3L199.5 336.9" stroke="#5a5ef2"/><path d="M61.8 345.8L66.8 344.7L62.9 343.3L57.9 344.3Z" stroke="#513cb1"/><path d="M166.4 271.1L171.5 277.0L167.6 273.4L162.5 271.5Z" stroke="none"/><path d="M162.5 271.5L166.4 271.1L171.5 277.0" stroke="#fecf48" fill="none"/><path d="M171.5 277.0L167.6 273.4" stroke="#e9c242"/><path d="M162.5 271.5L167.6 273.4" stroke="#fec450"/><path d="M134.5 338.7L139.6 331.7L135.7 334.2L130.6 339.6Z" stroke="none"/><path d="M130.6 339.6L134.5 338.7L139.6 331.7" stroke="#594fe1" fill="none"/><path d="M139.6 331.7L135.7 334.2" stroke="#5a69f9"/><path d="M130.6 339.6L135.7 334.2" stroke="#584bd9"/><path d="M239.1 346.6L244.2 345.6L240.3 344.1L235.3 345.1Z" stroke="#513cb1"/><path d="M102.6 346.1L107.7 345.0L103.8 343.6L98.7 344.7Z" stroke="#513cb1"/><path d="M207.2 343.9L212.3 343.7L208.4 341.2L203.4 340.7Z" stroke="none"/><path d="M203.4 340.7L207.2 343.9L212.3 343.7" stroke="#5543c6" fill="none"/><path d="M212.3 343.7L208.4 341.2" stroke="#533fbc"/><path d="M203.4 340.7L208.4 341.2" stroke="#5647d0"/><path d="M70.7 346.1L75.8 345.1L71.9 343.6L66.8 344.7Z" stroke="#513cb1"/><path d="M175.3 287.5L180.4 301.2L176.5 290.8L171.5 277.0Z" stroke="none"/><path d="M171.5 277.0L175.3 287.5L180.4 301.2" stroke="#9ad05f" fill="none"/><path d="M180.4 301.2L176.5 290.8" stroke="#30c6bd"/><path d="M171.5 277.0L176.5 290.8" stroke="#e9c242"/><path d="M143.4 324.6L148.5 310.6L144.6 321.5L139.6 331.7Z" stroke="none"/><path d="M139.6 331.7L143.4 324.6L148.5 310.6" stroke="#4789fd" fill="none"/><path d="M148.5 310.6L144.6 321.5" stroke="#33b2e3"/><path d="M139.6 331.7L144.6 321.5" stroke="#5a69f9"/><path d="M248.1 347.0L253.2 345.9L249.3 344.5L244.2 345.6Z" stroke="#513cb1"/><path d="M111.5 346.3L116.6 344.8L112.7 343.7L107.7 345.0Z" stroke="#513cb1"/><path d="M216.2 345.9L221.3 345.2L217.4 343.3L212.3 343.7Z" stroke="#533fbc"/><path d="M79.6 346.5L84.7 345.4L80.8 344.0L75.8 345.1Z" stroke="#513cb1"/><path d="M184.3 313.1L189.4 325.3L185.5 316.0L180.4 301.2Z" stroke="none"/><path d="M180.4 301.2L184.3 313.1L189.4 325.3" stroke="#33b2e3" fill="none"/><path d="M189.4 325.3L185.5 316.0" stroke="#4c83fe"/><path d="M180.4 301.2L185.5 316.0" stroke="#30c6bd"/><path d="M47.7 346.5L52.8 345.4L48.9 344.0L43.9 345.0Z" stroke="#513cb1"/><path d="M152.4 295.0L157.5 280.0L153.6 294.8L148.5 310.6Z" stroke="none"/><path d="M148.5 310.6L152.4 295.0L157.5 280.0" stroke="#5cd091" fill="none"/><path d="M157.5 280.0L153.6 294.8" stroke="#d6c63d"/><path d="M148.5 310.6L153.6 294.8" stroke="#33b2e3"/><path d="M257.0 347.4L262.1 346.3L258.2 344.9L253.2 345.9Z" stroke="#513cb1"/><path d="M120.5 345.7L125.6 343.2L121.7 342.8L116.6 344.8Z" stroke="none"/><path d="M116.6 344.8L120.5 345.7L125.6 343.2" stroke="#533fbc" fill="none"/><path d="M125.6 343.2L121.7 342.8" stroke="#5543c6"/><path d="M116.6 344.8L121.7 342.8" stroke="#513cb1"/><path d="M225.1 346.9L230.2 346.1L226.3 344.5L221.3 345.2Z" stroke="#513cb1"/><path d="M88.6 346.9L93.7 345.8L89.8 344.4L84.7 345.4Z" stroke="#513cb1"/><path d="M193.2 333.9L198.3 338.9L194.4 333.3L189.4 325.3Z" stroke="none"/><path d="M189.4 325.3L193.2 333.9L198.3 338.9" stroke="#5a69f9" fill="none"/><path d="M198.3 338.9L194.4 333.3" stroke="#594fe1"/><path d="M189.4 325.3L194.4 333.3" stroke="#4c83fe"/><path d="M56.7 346.8L61.8 345.8L57.9 344.3L52.8 345.4Z" stroke="#513cb1"/><path d="M161.3 273.8L166.4 271.1L162.5 271.5L157.5 280.0Z" stroke="none"/><path d="M157.5 280.0L161.3 273.8L166.4 271.1" stroke="#fec450" fill="none"/><path d="M166.4 271.1L162.5 271.5" stroke="#fecf48"/><path d="M157.5 280.0L162.5 271.5" stroke="#d6c63d"/><path d="M266.0 347.7L271.0 346.7L267.2 345.2L262.1 346.3Z" stroke="#513cb1"/><path d="M129.4 343.2L134.5 338.7L130.6 339.6L125.6 343.2Z" stroke="none"/><path d="M125.6 343.2L129.4 343.2L134.5 338.7" stroke="#5647d0" fill="none"/><path d="M134.5 338.7L130.6 339.6" stroke="#594fe1"/><path d="M125.6 343.2L130.6 339.6" stroke="#5543c6"/><path d="M234.1 347.6L239.1 346.6L235.3 345.1L230.2 346.1Z" stroke="#513cb1"/><path d="M97.5 347.2L102.6 346.1L98.7 344.7L93.7 345.8Z" stroke="#513cb1"/><path d="M202.2 343.4L207.2 343.9L203.4 340.7L198.3 338.9Z" stroke="none"/><path d="M198.3 338.9L202.2 343.4L207.2 343.9" stroke="#5647d0" fill="none"/><path d="M207.2 343.9L203.4 340.7" stroke="#5543c6"/><path d="M198.3 338.9L203.4 340.7" stroke="#594fe1"/><path d="M65.6 347.2L70.7 346.1L66.8 344.7L61.8 345.8Z" stroke="#513cb1"/><path d="M170.3 279.6L175.3 287.5L171.5 277.0L166.4 271.1Z" stroke="none"/><path d="M166.4 271.1L170.3 279.6L175.3 287.5" stroke="#e0c33e" fill="none"/><path d="M175.3 287.5L171.5 277.0" stroke="#9ad05f"/><path d="M166.4 271.1L171.5 277.0" stroke="#fecf48"/><path d="M138.4 334.5L143.4 324.6L139.6 331.7L134.5 338.7Z" stroke="none"/><path d="M134.5 338.7L138.4 334.5L143.4 324.6" stroke="#5a69f9" fill="none"/><path d="M143.4 324.6L139.6 331.7" stroke="#4789fd"/><path d="M134.5 338.7L139.6 331.7" stroke="#594fe1"/><path d="M243.0 348.0L248.1 347.0L244.2 345.6L239.1 346.6Z" stroke="#513cb1"/><path d="M106.5 347.5L111.5 346.3L107.7 345.0L102.6 346.1Z" stroke="#513cb1"/><path d="M211.1 346.5L216.2 345.9L212.3 343.7L207.2 343.9Z" stroke="#533fbc"/><path d="M74.6 347.5L79.6 346.5L75.8 345.1L70.7 346.1Z" stroke="#513cb1"/><path d="M179.2 300.3L184.3 313.1L180.4 301.2L175.3 287.5Z" stroke="none"/><path d="M175.3 287.5L179.2 300.3L184.3 313.1" stroke="#46cca9" fill="none"/><path d="M184.3 313.1L180.4 301.2" stroke="#33b2e3"/><path d="M175.3 287.5L180.4 301.2" stroke="#9ad05f"/><path d="M42.7 347.5L47.7 346.5L43.9 345.0L38.8 346.1Z" stroke="#513cb1"/><path d="M147.3 311.0L152.4 295.0L148.5 310.6L143.4 324.6Z" stroke="none"/><path d="M143.4 324.6L147.3 311.0L152.4 295.0" stroke="#29b9da" fill="none"/><path d="M152.4 295.0L148.5 310.6" stroke="#5cd091"/><path d="M143.4 324.6L148.5 310.6" stroke="#4789fd"/><path d="M252.0 348.4L257.0 347.4L253.2 345.9L248.1 347.0Z" stroke="#513cb1"/><path d="M115.4 347.4L120.5 345.7L116.6 344.8L111.5 346.3Z" stroke="#513cb1"/><path d="M220.1 347.8L225.1 346.9L221.3 345.2L216.2 345.9Z" stroke="#513cb1"/><path d="M83.5 347.9L88.6 346.9L84.7 345.4L79.6 346.5Z" stroke="#513cb1"/><path d="M188.2 324.7L193.2 333.9L189.4 325.3L184.3 313.1Z" stroke="none"/><path d="M184.3 313.1L188.2 324.7L193.2 333.9" stroke="#448efa" fill="none"/><path d="M193.2 333.9L189.4 325.3" stroke="#5a69f9"/><path d="M184.3 313.1L189.4 325.3" stroke="#33b2e3"/><path d="M51.6 347.9L56.7 346.8L52.8 345.4L47.7 346.5Z" stroke="#513cb1"/><path d="M156.3 282.9L161.3 273.8L157.5 280.0L152.4 295.0Z" stroke="none"/><path d="M152.4 295.0L156.3 282.9L161.3 273.8" stroke="#d6c63d" fill="none"/><path d="M161.3 273.8L157.5 280.0" stroke="#fec450"/><path d="M152.4 295.0L157.5 280.0" stroke="#5cd091"/><path d="M260.9 348.8L266.0 347.7L262.1 346.3L257.0 347.4Z" stroke="#513cb1"/><path d="M124.4 346.2L129.4 343.2L125.6 343.2L120.5 345.7Z" stroke="none"/><path d="M120.5 345.7L124.4 346.2L129.4 343.2" stroke="#5543c6" fill="none"/><path d="M129.4 343.2L125.6 343.2" stroke="#5647d0"/><path d="M120.5 345.7L125.6 343.2" stroke="#533fbc"/><path d="M229.0 348.5L234.1 347.6L230.2 346.1L225.1 346.9Z" stroke="#513cb1"/><path d="M92.5 348.3L97.5 347.2L93.7 345.8L88.6 346.9Z" stroke="#513cb1"/><path d="M197.1 340.7L202.2 343.4L198.3 338.9L193.2 333.9Z" stroke="none"/><path d="M193.2 333.9L197.1 340.7L202.2 343.4" stroke="#5954e8" fill="none"/><path d="M202.2 343.4L198.3 338.9" stroke="#5647d0"/><path d="M193.2 333.9L198.3 338.9" stroke="#5a69f9"/><path d="M60.6 348.2L65.6 347.2L61.8 345.8L56.7 346.8Z" stroke="#513cb1"/><path d="M165.2 277.2L170.3 279.6L166.4 271.1L161.3 273.8Z" stroke="none"/><path d="M161.3 273.8L165.2 277.2L170.3 279.6" stroke="#f9c150" fill="none"/><path d="M170.3 279.6L166.4 271.1" stroke="#e0c33e"/><path d="M161.3 273.8L166.4 271.1" stroke="#fec450"/><path d="M269.9 349.1L274.9 348.1L271.0 346.7L266.0 347.7Z" stroke="#513cb1"/><path d="M133.3 340.9L138.4 334.5L134.5 338.7L129.4 343.2Z" stroke="none"/><path d="M129.4 343.2L133.3 340.9L138.4 334.5" stroke="#5954e8" fill="none"/><path d="M138.4 334.5L134.5 338.7" stroke="#5a69f9"/><path d="M129.4 343.2L134.5 338.7" stroke="#5647d0"/><path d="M238.0 349.1L243.0 348.0L239.1 346.6L234.1 347.6Z" stroke="#513cb1"/><path d="M101.4 348.6L106.5 347.5L102.6 346.1L97.5 347.2Z" stroke="#513cb1"/><path d="M206.1 346.8L211.1 346.5L207.2 343.9L202.2 343.4Z" stroke="none"/><path d="M202.2 343.4L206.1 346.8L211.1 346.5" stroke="#5543c6" fill="none"/><path d="M211.1 346.5L207.2 343.9" stroke="#533fbc"/><path d="M202.2 343.4L207.2 343.9" stroke="#5647d0"/><path d="M69.5 348.6L74.6 347.5L70.7 346.1L65.6 347.2Z" stroke="#513cb1"/><path d="M174.2 290.7L179.2 300.3L175.3 287.5L170.3 279.6Z" stroke="none"/><path d="M170.3 279.6L174.2 290.7L179.2 300.3" stroke="#8dd169" fill="none"/><path d="M179.2 300.3L175.3 287.5" stroke="#46cca9"/><path d="M170.3 279.6L175.3 287.5" stroke="#e0c33e"/><path d="M142.3 324.3L147.3 311.0L143.4 324.6L138.4 334.5Z" stroke="none"/><path d="M138.4 334.5L142.3 324.3L147.3 311.0" stroke="#4293f8" fill="none"/><path d="M147.3 311.0L143.4 324.6" stroke="#29b9da"/><path d="M138.4 334.5L143.4 324.6" stroke="#5a69f9"/><path d="M246.9 349.5L252.0 348.4L248.1 347.0L243.0 348.0Z" stroke="#513cb1"/><path d="M110.4 348.8L115.4 347.4L111.5 346.3L106.5 347.5Z" stroke="#513cb1"/><path d="M215.0 348.6L220.1 347.8L216.2 345.9L211.1 346.5Z" stroke="#533fbc"/><path d="M78.5 349.0L83.5 347.9L79.6 346.5L74.6 347.5Z" stroke="#513cb1"/><path d="M183.1 313.3L188.2 324.7L184.3 313.1L179.2 300.3Z" stroke="none"/><path d="M179.2 300.3L183.1 313.3L188.2 324.7" stroke="#2fb6df" fill="none"/><path d="M188.2 324.7L184.3 313.1" stroke="#448efa"/><path d="M179.2 300.3L184.3 313.1" stroke="#46cca9"/><path d="M46.6 348.9L51.6 347.9L47.7 346.5L42.7 347.5Z" stroke="#513cb1"/><path d="M151.2 295.5L156.3 282.9L152.4 295.0L147.3 311.0Z" stroke="none"/><path d="M147.3 311.0L151.2 295.5L156.3 282.9" stroke="#68d187" fill="none"/><path d="M156.3 282.9L152.4 295.0" stroke="#d6c63d"/><path d="M147.3 311.0L152.4 295.0" stroke="#29b9da"/><path d="M255.8 349.8L260.9 348.8L257.0 347.4L252.0 348.4Z" stroke="#513cb1"/><path d="M119.3 348.3L124.4 346.2L120.5 345.7L115.4 347.4Z" stroke="none"/><path d="M115.4 347.4L119.3 348.3L124.4 346.2" stroke="#533fbc" fill="none"/><path d="M124.4 346.2L120.5 345.7" stroke="#5543c6"/><path d="M115.4 347.4L120.5 345.7" stroke="#513cb1"/><path d="M223.9 349.5L229.0 348.5L225.1 346.9L220.1 347.8Z" stroke="#513cb1"/><path d="M87.4 349.3L92.5 348.3L88.6 346.9L83.5 347.9Z" stroke="#513cb1"/><path d="M192.0 334.8L197.1 340.7L193.2 333.9L188.2 324.7Z" stroke="none"/><path d="M188.2 324.7L192.0 334.8L197.1 340.7" stroke="#596efb" fill="none"/><path d="M197.1 340.7L193.2 333.9" stroke="#5954e8"/><path d="M188.2 324.7L193.2 333.9" stroke="#448efa"/><path d="M55.5 349.3L60.6 348.2L56.7 346.8L51.6 347.9Z" stroke="#513cb1"/><path d="M160.1 278.4L165.2 277.2L161.3 273.8L156.3 282.9Z" stroke="none"/><path d="M156.3 282.9L160.1 278.4L165.2 277.2" stroke="#f9c150" fill="none"/><path d="M165.2 277.2L161.3 273.8" stroke="#f9c150"/><path d="M156.3 282.9L161.3 273.8" stroke="#d6c63d"/><path d="M264.8 350.2L269.9 349.1L266.0 347.7L260.9 348.8Z" stroke="#513cb1"/><path d="M128.2 345.2L133.3 340.9L129.4 343.2L124.4 346.2Z" stroke="none"/><path d="M124.4 346.2L128.2 345.2L133.3 340.9" stroke="#5647d0" fill="none"/><path d="M133.3 340.9L129.4 343.2" stroke="#5954e8"/><path d="M124.4 346.2L129.4 343.2" stroke="#5543c6"/><path d="M232.9 350.1L238.0 349.1L234.1 347.6L229.0 348.5Z" stroke="#513cb1"/><path d="M96.3 349.7L101.4 348.6L97.5 347.2L92.5 348.3Z" stroke="#513cb1"/><path d="M201.0 345.8L206.1 346.8L202.2 343.4L197.1 340.7Z" stroke="none"/><path d="M197.1 340.7L201.0 345.8L206.1 346.8" stroke="#5647d0" fill="none"/><path d="M206.1 346.8L202.2 343.4" stroke="#5543c6"/><path d="M197.1 340.7L202.2 343.4" stroke="#5954e8"/><path d="M64.4 349.7L69.5 348.6L65.6 347.2L60.6 348.2Z" stroke="#513cb1"/><path d="M169.1 284.1L174.2 290.7L170.3 279.6L165.2 277.2Z" stroke="none"/><path d="M165.2 277.2L169.1 284.1L174.2 290.7" stroke="#d6c63d" fill="none"/><path d="M174.2 290.7L170.3 279.6" stroke="#8dd169"/><path d="M165.2 277.2L170.3 279.6" stroke="#f9c150"/><path d="M273.7 350.6L278.8 349.5L274.9 348.1L269.9 349.1Z" stroke="#513cb1"/><path d="M137.2 334.0L142.3 324.3L138.4 334.5L133.3 340.9Z" stroke="none"/><path d="M133.3 340.9L137.2 334.0L142.3 324.3" stroke="#5773fd" fill="none"/><path d="M142.3 324.3L138.4 334.5" stroke="#4293f8"/><path d="M133.3 340.9L138.4 334.5" stroke="#5954e8"/><path d="M241.8 350.5L246.9 349.5L243.0 348.0L238.0 349.1Z" stroke="#513cb1"/><path d="M105.3 350.0L110.4 348.8L106.5 347.5L101.4 348.6Z" stroke="#513cb1"/><path d="M209.9 349.3L215.0 348.6L211.1 346.5L206.1 346.8Z" stroke="#533fbc"/><path d="M73.4 350.0L78.5 349.0L74.6 347.5L69.5 348.6Z" stroke="#513cb1"/><path d="M178.0 302.3L183.1 313.3L179.2 300.3L174.2 290.7Z" stroke="none"/><path d="M174.2 290.7L178.0 302.3L183.1 313.3" stroke="#46cca9" fill="none"/><path d="M183.1 313.3L179.2 300.3" stroke="#2fb6df"/><path d="M174.2 290.7L179.2 300.3" stroke="#8dd169"/><path d="M146.1 309.0L151.2 295.5L147.3 311.0L142.3 324.3Z" stroke="none"/><path d="M142.3 324.3L146.1 309.0L151.2 295.5" stroke="#1bc1c9" fill="none"/><path d="M151.2 295.5L147.3 311.0" stroke="#68d187"/><path d="M142.3 324.3L147.3 311.0" stroke="#4293f8"/><path d="M250.8 350.9L255.8 349.8L252.0 348.4L246.9 349.5Z" stroke="#513cb1"/><path d="M114.2 349.9L119.3 348.3L115.4 347.4L110.4 348.8Z" stroke="#513cb1"/><path d="M218.9 350.4L223.9 349.5L220.1 347.8L215.0 348.6Z" stroke="#513cb1"/><path d="M82.3 350.4L87.4 349.3L83.5 347.9L78.5 349.0Z" stroke="#513cb1"/><path d="M187.0 325.8L192.0 334.8L188.2 324.7L183.1 313.3Z" stroke="none"/><path d="M183.1 313.3L187.0 325.8L192.0 334.8" stroke="#4293f8" fill="none"/><path d="M192.0 334.8L188.2 324.7" stroke="#596efb"/><path d="M183.1 313.3L188.2 324.7" stroke="#2fb6df"/><path d="M50.4 350.4L55.5 349.3L51.6 347.9L46.6 348.9Z" stroke="#513cb1"/><path d="M155.1 283.1L160.1 278.4L156.3 282.9L151.2 295.5Z" stroke="none"/><path d="M151.2 295.5L155.1 283.1L160.1 278.4" stroke="#e0c33e" fill="none"/><path d="M160.1 278.4L156.3 282.9" stroke="#f9c150"/><path d="M151.2 295.5L156.3 282.9" stroke="#68d187"/><path d="M259.7 351.3L264.8 350.2L260.9 348.8L255.8 349.8Z" stroke="#513cb1"/><path d="M123.2 348.3L128.2 345.2L124.4 346.2L119.3 348.3Z" stroke="none"/><path d="M119.3 348.3L123.2 348.3L128.2 345.2" stroke="#5543c6" fill="none"/><path d="M128.2 345.2L124.4 346.2" stroke="#5647d0"/><path d="M119.3 348.3L124.4 346.2" stroke="#533fbc"/><path d="M227.8 351.1L232.9 350.1L229.0 348.5L223.9 349.5Z" stroke="#513cb1"/><path d="M91.3 350.8L96.3 349.7L92.5 348.3L87.4 349.3Z" stroke="#513cb1"/><path d="M195.9 342.7L201.0 345.8L197.1 340.7L192.0 334.8Z" stroke="none"/><path d="M192.0 334.8L195.9 342.7L201.0 345.8" stroke="#5954e8" fill="none"/><path d="M201.0 345.8L197.1 340.7" stroke="#5647d0"/><path d="M192.0 334.8L197.1 340.7" stroke="#596efb"/><path d="M59.4 350.7L64.4 349.7L60.6 348.2L55.5 349.3Z" stroke="#513cb1"/><path d="M164.0 278.2L169.1 284.1L165.2 277.2L160.1 278.4Z" stroke="none"/><path d="M160.1 278.4L164.0 278.2L169.1 284.1" stroke="#fec450" fill="none"/><path d="M169.1 284.1L165.2 277.2" stroke="#d6c63d"/><path d="M160.1 278.4L165.2 277.2" stroke="#f9c150"/><path d="M268.7 351.6L273.7 350.6L269.9 349.1L264.8 350.2Z" stroke="#513cb1"/><path d="M132.1 341.0L137.2 334.0L133.3 340.9L128.2 345.2Z" stroke="none"/><path d="M128.2 345.2L132.1 341.0L137.2 334.0" stroke="#5a59ed" fill="none"/><path d="M137.2 334.0L133.3 340.9" stroke="#5773fd"/><path d="M128.2 345.2L133.3 340.9" stroke="#5647d0"/><path d="M236.8 351.5L241.8 350.5L238.0 349.1L232.9 350.1Z" stroke="#513cb1"/><path d="M100.2 351.1L105.3 350.0L101.4 348.6L96.3 349.7Z" stroke="#513cb1"/><path d="M204.9 349.4L209.9 349.3L206.1 346.8L201.0 345.8Z" stroke="none"/><path d="M201.0 345.8L204.9 349.4L209.9 349.3" stroke="#5543c6" fill="none"/><path d="M209.9 349.3L206.1 346.8" stroke="#533fbc"/><path d="M201.0 345.8L206.1 346.8" stroke="#5647d0"/><path d="M68.3 351.1L73.4 350.0L69.5 348.6L64.4 349.7Z" stroke="#513cb1"/><path d="M173.0 291.9L178.0 302.3L174.2 290.7L169.1 284.1Z" stroke="none"/><path d="M169.1 284.1L173.0 291.9L178.0 302.3" stroke="#9ad05f" fill="none"/><path d="M178.0 302.3L174.2 290.7" stroke="#46cca9"/><path d="M169.1 284.1L174.2 290.7" stroke="#d6c63d"/><path d="M277.6 352.0L282.7 350.9L278.8 349.5L273.7 350.6Z" stroke="#513cb1"/><path d="M141.1 321.5L146.1 309.0L142.3 324.3L137.2 334.0Z" stroke="none"/><path d="M137.2 334.0L141.1 321.5L146.1 309.0" stroke="#3ba5ea" fill="none"/><path d="M146.1 309.0L142.3 324.3" stroke="#1bc1c9"/><path d="M137.2 334.0L142.3 324.3" stroke="#5773fd"/><path d="M245.7 351.9L250.8 350.9L246.9 349.5L241.8 350.5Z" stroke="#513cb1"/><path d="M109.2 351.3L114.2 349.9L110.4 348.8L105.3 350.0Z" stroke="#513cb1"/><path d="M213.8 351.4L218.9 350.4L215.0 348.6L209.9 349.3Z" stroke="#513cb1"/><path d="M77.3 351.4L82.3 350.4L78.5 349.0L73.4 350.0Z" stroke="#513cb1"/><path d="M181.9 314.9L187.0 325.8L183.1 313.3L178.0 302.3Z" stroke="none"/><path d="M178.0 302.3L181.9 314.9L187.0 325.8" stroke="#29b9da" fill="none"/><path d="M187.0 325.8L183.1 313.3" stroke="#4293f8"/><path d="M178.0 302.3L183.1 313.3" stroke="#46cca9"/><path d="M150.0 292.2L155.1 283.1L151.2 295.5L146.1 309.0Z" stroke="none"/><path d="M146.1 309.0L150.0 292.2L155.1 283.1" stroke="#9ad05f" fill="none"/><path d="M155.1 283.1L151.2 295.5" stroke="#e0c33e"/><path d="M146.1 309.0L151.2 295.5" stroke="#1bc1c9"/><path d="M254.7 352.3L259.7 351.3L255.8 349.8L250.8 350.9Z" stroke="#513cb1"/><path d="M118.1 350.6L123.2 348.3L119.3 348.3L114.2 349.9Z" stroke="none"/><path d="M114.2 349.9L118.1 350.6L123.2 348.3" stroke="#533fbc" fill="none"/><path d="M123.2 348.3L119.3 348.3" stroke="#5543c6"/><path d="M114.2 349.9L119.3 348.3" stroke="#513cb1"/><path d="M222.8 352.1L227.8 351.1L223.9 349.5L218.9 350.4Z" stroke="#513cb1"/><path d="M86.2 351.8L91.3 350.8L87.4 349.3L82.3 350.4Z" stroke="#513cb1"/><path d="M190.9 336.6L195.9 342.7L192.0 334.8L187.0 325.8Z" stroke="none"/><path d="M187.0 325.8L190.9 336.6L195.9 342.7" stroke="#596efb" fill="none"/><path d="M195.9 342.7L192.0 334.8" stroke="#5954e8"/><path d="M187.0 325.8L192.0 334.8" stroke="#4293f8"/><path d="M54.3 351.8L59.4 350.7L55.5 349.3L50.4 350.4Z" stroke="#513cb1"/><path d="M159.0 274.7L164.0 278.2L160.1 278.4L155.1 283.1Z" stroke="none"/><path d="M155.1 283.1L159.0 274.7L164.0 278.2" stroke="#fdd445" fill="none"/><path d="M164.0 278.2L160.1 278.4" stroke="#fec450"/><path d="M155.1 283.1L160.1 278.4" stroke="#e0c33e"/><path d="M263.6 352.7L268.7 351.6L264.8 350.2L259.7 351.3Z" stroke="#513cb1"/><path d="M127.1 346.4L132.1 341.0L128.2 345.2L123.2 348.3Z" stroke="none"/><path d="M123.2 348.3L127.1 346.4L132.1 341.0" stroke="#584bd9" fill="none"/><path d="M132.1 341.0L128.2 345.2" stroke="#5a59ed"/><path d="M123.2 348.3L128.2 345.2" stroke="#5543c6"/><path d="M231.7 352.6L236.8 351.5L232.9 350.1L227.8 351.1Z" stroke="#513cb1"/><path d="M95.2 352.2L100.2 351.1L96.3 349.7L91.3 350.8Z" stroke="#513cb1"/><path d="M199.8 348.2L204.9 349.4L201.0 345.8L195.9 342.7Z" stroke="none"/><path d="M195.9 342.7L199.8 348.2L204.9 349.4" stroke="#5647d0" fill="none"/><path d="M204.9 349.4L201.0 345.8" stroke="#5543c6"/><path d="M195.9 342.7L201.0 345.8" stroke="#5954e8"/><path d="M63.3 352.1L68.3 351.1L64.4 349.7L59.4 350.7Z" stroke="#513cb1"/><path d="M167.9 280.8L173.0 291.9L169.1 284.1L164.0 278.2Z" stroke="none"/><path d="M164.0 278.2L167.9 280.8L173.0 291.9" stroke="#f9c150" fill="none"/><path d="M173.0 291.9L169.1 284.1" stroke="#9ad05f"/><path d="M164.0 278.2L169.1 284.1" stroke="#fec450"/><path d="M272.6 353.0L277.6 352.0L273.7 350.6L268.7 351.6Z" stroke="#513cb1"/><path d="M136.0 332.5L141.1 321.5L137.2 334.0L132.1 341.0Z" stroke="none"/><path d="M132.1 341.0L136.0 332.5L141.1 321.5" stroke="#4c83fe" fill="none"/><path d="M141.1 321.5L137.2 334.0" stroke="#3ba5ea"/><path d="M132.1 341.0L137.2 334.0" stroke="#5a59ed"/><path d="M240.7 353.0L245.7 351.9L241.8 350.5L236.8 351.5Z" stroke="#513cb1"/><path d="M104.1 352.5L109.2 351.3L105.3 350.0L100.2 351.1Z" stroke="#513cb1"/><path d="M208.8 352.0L213.8 351.4L209.9 349.3L204.9 349.4Z" stroke="none"/><path d="M204.9 349.4L208.8 352.0L213.8 351.4" stroke="#533fbc" fill="none"/><path d="M213.8 351.4L209.9 349.3" stroke="#513cb1"/><path d="M204.9 349.4L209.9 349.3" stroke="#5543c6"/><path d="M72.2 352.5L77.3 351.4L73.4 350.0L68.3 351.1Z" stroke="#513cb1"/><path d="M176.9 302.6L181.9 314.9L178.0 302.3L173.0 291.9Z" stroke="none"/><path d="M173.0 291.9L176.9 302.6L181.9 314.9" stroke="#52cf99" fill="none"/><path d="M181.9 314.9L178.0 302.3" stroke="#29b9da"/><path d="M173.0 291.9L178.0 302.3" stroke="#9ad05f"/><path d="M281.5 353.4L286.6 352.3L282.7 350.9L277.6 352.0Z" stroke="#513cb1"/><path d="M145.0 305.2L150.0 292.2L146.1 309.0L141.1 321.5Z" stroke="none"/><path d="M141.1 321.5L145.0 305.2L150.0 292.2" stroke="#46cca9" fill="none"/><path d="M150.0 292.2L146.1 309.0" stroke="#9ad05f"/><path d="M141.1 321.5L146.1 309.0" stroke="#3ba5ea"/><path d="M249.6 353.4L254.7 352.3L250.8 350.9L245.7 351.9Z" stroke="#513cb1"/><path d="M113.1 352.4L118.1 350.6L114.2 349.9L109.2 351.3Z" stroke="#513cb1"/><path d="M217.7 353.1L222.8 352.1L218.9 350.4L213.8 351.4Z" stroke="#513cb1"/><path d="M81.2 352.9L86.2 351.8L82.3 350.4L77.3 351.4Z" stroke="#513cb1"/><path d="M185.8 327.9L190.9 336.6L187.0 325.8L181.9 314.9Z" stroke="none"/><path d="M181.9 314.9L185.8 327.9L190.9 336.6" stroke="#4293f8" fill="none"/><path d="M190.9 336.6L187.0 325.8" stroke="#596efb"/><path d="M181.9 314.9L187.0 325.8" stroke="#29b9da"/><path d="M153.9 277.6L159.0 274.7L155.1 283.1L150.0 292.2Z" stroke="none"/><path d="M150.0 292.2L153.9 277.6L159.0 274.7" stroke="#fecf48" fill="none"/><path d="M159.0 274.7L155.1 283.1" stroke="#fdd445"/><path d="M150.0 292.2L155.1 283.1" stroke="#9ad05f"/><path d="M258.5 353.7L263.6 352.7L259.7 351.3L254.7 352.3Z" stroke="#513cb1"/><path d="M122.0 350.3L127.1 346.4L123.2 348.3L118.1 350.6Z" stroke="none"/><path d="M118.1 350.6L122.0 350.3L127.1 346.4" stroke="#5543c6" fill="none"/><path d="M127.1 346.4L123.2 348.3" stroke="#584bd9"/><path d="M118.1 350.6L123.2 348.3" stroke="#533fbc"/><path d="M226.6 353.6L231.7 352.6L227.8 351.1L222.8 352.1Z" stroke="#513cb1"/><path d="M90.1 353.2L95.2 352.2L91.3 350.8L86.2 351.8Z" stroke="#513cb1"/><path d="M194.7 345.0L199.8 348.2L195.9 342.7L190.9 336.6Z" stroke="none"/><path d="M190.9 336.6L194.7 345.0L199.8 348.2" stroke="#5954e8" fill="none"/><path d="M199.8 348.2L195.9 342.7" stroke="#5647d0"/><path d="M190.9 336.6L195.9 342.7" stroke="#596efb"/><path d="M58.2 353.2L63.3 352.1L59.4 350.7L54.3 351.8Z" stroke="#513cb1"/><path d="M162.8 271.3L167.9 280.8L164.0 278.2L159.0 274.7Z" stroke="none"/><path d="M159.0 274.7L162.8 271.3L167.9 280.8" stroke="#f6eb3a" fill="none"/><path d="M167.9 280.8L164.0 278.2" stroke="#f9c150"/><path d="M159.0 274.7L164.0 278.2" stroke="#fdd445"/><path d="M267.5 354.1L272.6 353.0L268.7 351.6L263.6 352.7Z" stroke="#513cb1"/><path d="M130.9 341.6L136.0 332.5L132.1 341.0L127.1 346.4Z" stroke="none"/><path d="M127.1 346.4L130.9 341.6L136.0 332.5" stroke="#5a64f5" fill="none"/><path d="M136.0 332.5L132.1 341.0" stroke="#4c83fe"/><path d="M127.1 346.4L132.1 341.0" stroke="#584bd9"/><path d="M235.6 354.0L240.7 353.0L236.8 351.5L231.7 352.6Z" stroke="#513cb1"/><path d="M99.0 353.6L104.1 352.5L100.2 351.1L95.2 352.2Z" stroke="#513cb1"/><path d="M203.7 352.0L208.8 352.0L204.9 349.4L199.8 348.2Z" stroke="none"/><path d="M199.8 348.2L203.7 352.0L208.8 352.0" stroke="#533fbc" fill="none"/><path d="M208.8 352.0L204.9 349.4" stroke="#533fbc"/><path d="M199.8 348.2L204.9 349.4" stroke="#5647d0"/><path d="M67.1 353.6L72.2 352.5L68.3 351.1L63.3 352.1Z" stroke="#513cb1"/><path d="M171.8 288.8L176.9 302.6L173.0 291.9L167.9 280.8Z" stroke="none"/><path d="M167.9 280.8L171.8 288.8L176.9 302.6" stroke="#cbc83f" fill="none"/><path d="M176.9 302.6L173.0 291.9" stroke="#52cf99"/><path d="M167.9 280.8L173.0 291.9" stroke="#f9c150"/><path d="M276.4 354.5L281.5 353.4L277.6 352.0L272.6 353.0Z" stroke="#513cb1"/><path d="M139.9 320.1L145.0 305.2L141.1 321.5L136.0 332.5Z" stroke="none"/><path d="M136.0 332.5L139.9 320.1L145.0 305.2" stroke="#33b2e3" fill="none"/><path d="M145.0 305.2L141.1 321.5" stroke="#46cca9"/><path d="M136.0 332.5L141.1 321.5" stroke="#4c83fe"/><path d="M244.5 354.4L249.6 353.4L245.7 351.9L240.7 353.0Z" stroke="#513cb1"/><path d="M108.0 353.8L113.1 352.4L109.2 351.3L104.1 352.5Z" stroke="#513cb1"/><path d="M212.6 354.0L217.7 353.1L213.8 351.4L208.8 352.0Z" stroke="#513cb1"/><path d="M76.1 353.9L81.2 352.9L77.3 351.4L72.2 352.5Z" stroke="#513cb1"/><path d="M180.7 316.6L185.8 327.9L181.9 314.9L176.9 302.6Z" stroke="none"/><path d="M176.9 302.6L180.7 316.6L185.8 327.9" stroke="#29b9da" fill="none"/><path d="M185.8 327.9L181.9 314.9" stroke="#4293f8"/><path d="M176.9 302.6L181.9 314.9" stroke="#52cf99"/><path d="M285.4 354.8L290.4 353.8L286.6 352.3L281.5 353.4Z" stroke="#513cb1"/><path d="M148.8 289.1L153.9 277.6L150.0 292.2L145.0 305.2Z" stroke="none"/><path d="M145.0 305.2L148.8 289.1L153.9 277.6" stroke="#cbc83f" fill="none"/><path d="M153.9 277.6L150.0 292.2" stroke="#fecf48"/><path d="M145.0 305.2L150.0 292.2" stroke="#46cca9"/><path d="M253.5 354.8L258.5 353.7L254.7 352.3L249.6 353.4Z" stroke="#513cb1"/><path d="M116.9 353.0L122.0 350.3L118.1 350.6L113.1 352.4Z" stroke="none"/><path d="M113.1 352.4L116.9 353.0L122.0 350.3" stroke="#533fbc" fill="none"/><path d="M122.0 350.3L118.1 350.6" stroke="#5543c6"/><path d="M113.1 352.4L118.1 350.6" stroke="#513cb1"/><path d="M221.6 354.6L226.6 353.6L222.8 352.1L217.7 353.1Z" stroke="#513cb1"/><path d="M85.0 354.3L90.1 353.2L86.2 351.8L81.2 352.9Z" stroke="#513cb1"/><path d="M189.7 339.3L194.7 345.0L190.9 336.6L185.8 327.9Z" stroke="none"/><path d="M185.8 327.9L189.7 339.3L194.7 345.0" stroke="#596efb" fill="none"/><path d="M194.7 345.0L190.9 336.6" stroke="#5954e8"/><path d="M185.8 327.9L190.9 336.6" stroke="#4293f8"/><path d="M157.8 269.3L162.8 271.3L159.0 274.7L153.9 277.6Z" stroke="none"/><path d="M153.9 277.6L157.8 269.3L162.8 271.3" stroke="#f8f632" fill="none"/><path d="M162.8 271.3L159.0 274.7" stroke="#f6eb3a"/><path d="M153.9 277.6L159.0 274.7" stroke="#fecf48"/><path d="M262.4 355.2L267.5 354.1L263.6 352.7L258.5 353.7Z" stroke="#513cb1"/><path d="M125.9 348.4L130.9 341.6L127.1 346.4L122.0 350.3Z" stroke="none"/><path d="M122.0 350.3L125.9 348.4L130.9 341.6" stroke="#594fe1" fill="none"/><path d="M130.9 341.6L127.1 346.4" stroke="#5a64f5"/><path d="M122.0 350.3L127.1 346.4" stroke="#5543c6"/><path d="M230.5 355.1L235.6 354.0L231.7 352.6L226.6 353.6Z" stroke="#513cb1"/><path d="M94.0 354.6L99.0 353.6L95.2 352.2L90.1 353.2Z" stroke="#513cb1"/><path d="M198.6 350.8L203.7 352.0L199.8 348.2L194.7 345.0Z" stroke="none"/><path d="M194.7 345.0L198.6 350.8L203.7 352.0" stroke="#5647d0" fill="none"/><path d="M203.7 352.0L199.8 348.2" stroke="#533fbc"/><path d="M194.7 345.0L199.8 348.2" stroke="#5954e8"/><path d="M62.1 354.6L67.1 353.6L63.3 352.1L58.2 353.2Z" stroke="#513cb1"/><path d="M166.7 276.5L171.8 288.8L167.9 280.8L162.8 271.3Z" stroke="none"/><path d="M162.8 271.3L166.7 276.5L171.8 288.8" stroke="#fada42" fill="none"/><path d="M171.8 288.8L167.9 280.8" stroke="#cbc83f"/><path d="M162.8 271.3L167.9 280.8" stroke="#f6eb3a"/><path d="M271.4 355.5L276.4 354.5L272.6 353.0L267.5 354.1Z" stroke="#513cb1"/><path d="M134.8 334.0L139.9 320.1L136.0 332.5L130.9 341.6Z" stroke="none"/><path d="M130.9 341.6L134.8 334.0L139.9 320.1" stroke="#4c83fe" fill="none"/><path d="M139.9 320.1L136.0 332.5" stroke="#33b2e3"/><path d="M130.9 341.6L136.0 332.5" stroke="#5a64f5"/><path d="M239.5 355.5L244.5 354.4L240.7 353.0L235.6 354.0Z" stroke="#513cb1"/><path d="M102.9 355.0L108.0 353.8L104.1 352.5L99.0 353.6Z" stroke="#513cb1"/><path d="M207.6 354.6L212.6 354.0L208.8 352.0L203.7 352.0Z" stroke="#533fbc"/><path d="M71.0 355.0L76.1 353.9L72.2 352.5L67.1 353.6Z" stroke="#513cb1"/><path d="M175.7 303.5L180.7 316.6L176.9 302.6L171.8 288.8Z" stroke="none"/><path d="M171.8 288.8L175.7 303.5L180.7 316.6" stroke="#5cd091" fill="none"/><path d="M180.7 316.6L176.9 302.6" stroke="#29b9da"/><path d="M171.8 288.8L176.9 302.6" stroke="#cbc83f"/><path d="M280.3 355.9L285.4 354.8L281.5 353.4L276.4 354.5Z" stroke="#513cb1"/><path d="M143.8 306.7L148.8 289.1L145.0 305.2L139.9 320.1Z" stroke="none"/><path d="M139.9 320.1L143.8 306.7L148.8 289.1" stroke="#46cca9" fill="none"/><path d="M148.8 289.1L145.0 305.2" stroke="#cbc83f"/><path d="M139.9 320.1L145.0 305.2" stroke="#33b2e3"/><path d="M248.4 355.8L253.5 354.8L249.6 353.4L244.5 354.4Z" stroke="#513cb1"/><path d="M111.9 354.9L116.9 353.0L113.1 352.4L108.0 353.8Z" stroke="#513cb1"/><path d="M216.5 355.7L221.6 354.6L217.7 353.1L212.6 354.0Z" stroke="#513cb1"/><path d="M80.0 355.3L85.0 354.3L81.2 352.9L76.1 353.9Z" stroke="#513cb1"/><path d="M184.6 331.2L189.7 339.3L185.8 327.9L180.7 316.6Z" stroke="none"/><path d="M180.7 316.6L184.6 331.2L189.7 339.3" stroke="#4293f8" fill="none"/><path d="M189.7 339.3L185.8 327.9" stroke="#596efb"/><path d="M180.7 316.6L185.8 327.9" stroke="#29b9da"/><path d="M289.3 356.2L294.3 355.2L290.4 353.8L285.4 354.8Z" stroke="#513cb1"/><path d="M152.7 278.5L157.8 269.3L153.9 277.6L148.8 289.1Z" stroke="none"/><path d="M148.8 289.1L152.7 278.5L157.8 269.3" stroke="#fdd445" fill="none"/><path d="M157.8 269.3L153.9 277.6" stroke="#f8f632"/><path d="M148.8 289.1L153.9 277.6" stroke="#cbc83f"/><path d="M257.4 356.2L262.4 355.2L258.5 353.7L253.5 354.8Z" stroke="#513cb1"/><path d="M120.8 353.0L125.9 348.4L122.0 350.3L116.9 353.0Z" stroke="none"/><path d="M116.9 353.0L120.8 353.0L125.9 348.4" stroke="#5543c6" fill="none"/><path d="M125.9 348.4L122.0 350.3" stroke="#594fe1"/><path d="M116.9 353.0L122.0 350.3" stroke="#533fbc"/><path d="M225.5 356.1L230.5 355.1L226.6 353.6L221.6 354.6Z" stroke="#513cb1"/><path d="M88.9 355.7L94.0 354.6L90.1 353.2L85.0 354.3Z" stroke="#513cb1"/><path d="M193.6 348.0L198.6 350.8L194.7 345.0L189.7 339.3Z" stroke="none"/><path d="M189.7 339.3L193.6 348.0L198.6 350.8" stroke="#5954e8" fill="none"/><path d="M198.6 350.8L194.7 345.0" stroke="#5647d0"/><path d="M189.7 339.3L194.7 345.0" stroke="#596efb"/><path d="M161.7 271.4L166.7 276.5L162.8 271.3L157.8 269.3Z" stroke="none"/><path d="M157.8 269.3L161.7 271.4L166.7 276.5" stroke="#f8f632" fill="none"/><path d="M166.7 276.5L162.8 271.3" stroke="#fada42"/><path d="M157.8 269.3L162.8 271.3" stroke="#f8f632"/><path d="M266.3 356.6L271.4 355.5L267.5 354.1L262.4 355.2Z" stroke="#513cb1"/><path d="M129.8 344.9L134.8 334.0L130.9 341.6L125.9 348.4Z" stroke="none"/><path d="M125.9 348.4L129.8 344.9L134.8 334.0" stroke="#5a5ef2" fill="none"/><path d="M134.8 334.0L130.9 341.6" stroke="#4c83fe"/><path d="M125.9 348.4L130.9 341.6" stroke="#594fe1"/><path d="M234.4 356.5L239.5 355.5L235.6 354.0L230.5 355.1Z" stroke="#513cb1"/><path d="M97.9 356.1L102.9 355.0L99.0 353.6L94.0 354.6Z" stroke="#513cb1"/><path d="M202.5 354.7L207.6 354.6L203.7 352.0L198.6 350.8Z" stroke="none"/><path d="M198.6 350.8L202.5 354.7L207.6 354.6" stroke="#533fbc" fill="none"/><path d="M207.6 354.6L203.7 352.0" stroke="#533fbc"/><path d="M198.6 350.8L203.7 352.0" stroke="#5647d0"/><path d="M66.0 356.0L71.0 355.0L67.1 353.6L62.1 354.6Z" stroke="#513cb1"/><path d="M170.6 291.2L175.7 303.5L171.8 288.8L166.7 276.5Z" stroke="none"/><path d="M166.7 276.5L170.6 291.2L175.7 303.5" stroke="#cbc83f" fill="none"/><path d="M175.7 303.5L171.8 288.8" stroke="#5cd091"/><path d="M166.7 276.5L171.8 288.8" stroke="#fada42"/><path d="M275.2 356.9L280.3 355.9L276.4 354.5L271.4 355.5Z" stroke="#513cb1"/><path d="M138.7 325.2L143.8 306.7L139.9 320.1L134.8 334.0Z" stroke="none"/><path d="M134.8 334.0L138.7 325.2L143.8 306.7" stroke="#39aae7" fill="none"/><path d="M143.8 306.7L139.9 320.1" stroke="#46cca9"/><path d="M134.8 334.0L139.9 320.1" stroke="#4c83fe"/><path d="M243.3 356.9L248.4 355.8L244.5 354.4L239.5 355.5Z" stroke="#513cb1"/><path d="M106.8 356.3L111.9 354.9L108.0 353.8L102.9 355.0Z" stroke="#513cb1"/><path d="M211.4 356.6L216.5 355.7L212.6 354.0L207.6 354.6Z" stroke="#513cb1"/><path d="M74.9 356.4L80.0 355.3L76.1 353.9L71.0 355.0Z" stroke="#513cb1"/><path d="M179.5 321.1L184.6 331.2L180.7 316.6L175.7 303.5Z" stroke="none"/><path d="M175.7 303.5L179.5 321.1L184.6 331.2" stroke="#2fb6df" fill="none"/><path d="M184.6 331.2L180.7 316.6" stroke="#4293f8"/><path d="M175.7 303.5L180.7 316.6" stroke="#5cd091"/><path d="M284.2 357.3L289.3 356.2L285.4 354.8L280.3 355.9Z" stroke="#513cb1"/><path d="M147.6 296.8L152.7 278.5L148.8 289.1L143.8 306.7Z" stroke="none"/><path d="M143.8 306.7L147.6 296.8L152.7 278.5" stroke="#a7ce55" fill="none"/><path d="M152.7 278.5L148.8 289.1" stroke="#fdd445"/><path d="M143.8 306.7L148.8 289.1" stroke="#46cca9"/><path d="M252.3 357.3L257.4 356.2L253.5 354.8L248.4 355.8Z" stroke="#513cb1"/><path d="M115.7 355.7L120.8 353.0L116.9 353.0L111.9 354.9Z" stroke="none"/><path d="M111.9 354.9L115.7 355.7L120.8 353.0" stroke="#533fbc" fill="none"/><path d="M120.8 353.0L116.9 353.0" stroke="#5543c6"/><path d="M111.9 354.9L116.9 353.0" stroke="#513cb1"/><path d="M220.4 357.2L225.5 356.1L221.6 354.6L216.5 355.7Z" stroke="#513cb1"/><path d="M83.8 356.8L88.9 355.7L85.0 354.3L80.0 355.3Z" stroke="#513cb1"/><path d="M188.5 343.4L193.6 348.0L189.7 339.3L184.6 331.2Z" stroke="none"/><path d="M184.6 331.2L188.5 343.4L193.6 348.0" stroke="#5a69f9" fill="none"/><path d="M193.6 348.0L189.7 339.3" stroke="#5954e8"/><path d="M184.6 331.2L189.7 339.3" stroke="#4293f8"/><path d="M293.1 357.7L298.2 356.6L294.3 355.2L289.3 356.2Z" stroke="#513cb1"/><path d="M156.6 278.0L161.7 271.4L157.8 269.3L152.7 278.5Z" stroke="none"/><path d="M152.7 278.5L156.6 278.0L161.7 271.4" stroke="#f8e03f" fill="none"/><path d="M161.7 271.4L157.8 269.3" stroke="#f8f632"/><path d="M152.7 278.5L157.8 269.3" stroke="#fdd445"/><path d="M261.2 357.6L266.3 356.6L262.4 355.2L257.4 356.2Z" stroke="#513cb1"/><path d="M124.7 352.0L129.8 344.9L125.9 348.4L120.8 353.0Z" stroke="none"/><path d="M120.8 353.0L124.7 352.0L129.8 344.9" stroke="#584bd9" fill="none"/><path d="M129.8 344.9L125.9 348.4" stroke="#5a5ef2"/><path d="M120.8 353.0L125.9 348.4" stroke="#5543c6"/><path d="M229.3 357.6L234.4 356.5L230.5 355.1L225.5 356.1Z" stroke="#513cb1"/><path d="M92.8 357.1L97.9 356.1L94.0 354.6L88.9 355.7Z" stroke="#513cb1"/><path d="M197.4 353.9L202.5 354.7L198.6 350.8L193.6 348.0Z" stroke="none"/><path d="M193.6 348.0L197.4 353.9L202.5 354.7" stroke="#5647d0" fill="none"/><path d="M202.5 354.7L198.6 350.8" stroke="#533fbc"/><path d="M193.6 348.0L198.6 350.8" stroke="#5954e8"/><path d="M165.5 285.0L170.6 291.2L166.7 276.5L161.7 271.4Z" stroke="none"/><path d="M161.7 271.4L165.5 285.0L170.6 291.2" stroke="#fec450" fill="none"/><path d="M170.6 291.2L166.7 276.5" stroke="#cbc83f"/><path d="M161.7 271.4L166.7 276.5" stroke="#f8f632"/><path d="M270.2 358.0L275.2 356.9L271.4 355.5L266.3 356.6Z" stroke="#513cb1"/><path d="M133.6 340.3L138.7 325.2L134.8 334.0L129.8 344.9Z" stroke="none"/><path d="M129.8 344.9L133.6 340.3L138.7 325.2" stroke="#5773fd" fill="none"/><path d="M138.7 325.2L134.8 334.0" stroke="#39aae7"/><path d="M129.8 344.9L134.8 334.0" stroke="#5a5ef2"/><path d="M238.3 358.0L243.3 356.9L239.5 355.5L234.4 356.5Z" stroke="#513cb1"/><path d="M101.7 357.5L106.8 356.3L102.9 355.0L97.9 356.1Z" stroke="#513cb1"/><path d="M206.4 357.2L211.4 356.6L207.6 354.6L202.5 354.7Z" stroke="#533fbc"/><path d="M69.8 357.5L74.9 356.4L71.0 355.0L66.0 356.0Z" stroke="#513cb1"/><path d="M174.5 311.3L179.5 321.1L175.7 303.5L170.6 291.2Z" stroke="none"/><path d="M170.6 291.2L174.5 311.3L179.5 321.1" stroke="#41cab0" fill="none"/><path d="M179.5 321.1L175.7 303.5" stroke="#2fb6df"/><path d="M170.6 291.2L175.7 303.5" stroke="#cbc83f"/><path d="M279.1 358.4L284.2 357.3L280.3 355.9L275.2 356.9Z" stroke="#513cb1"/><path d="M142.6 318.1L147.6 296.8L143.8 306.7L138.7 325.2Z" stroke="none"/><path d="M138.7 325.2L142.6 318.1L147.6 296.8" stroke="#1abfcf" fill="none"/><path d="M147.6 296.8L143.8 306.7" stroke="#a7ce55"/><path d="M138.7 325.2L143.8 306.7" stroke="#39aae7"/><path d="M247.2 358.3L252.3 357.3L248.4 355.8L243.3 356.9Z" stroke="#513cb1"/><path d="M110.7 357.5L115.7 355.7L111.9 354.9L106.8 356.3Z" stroke="#513cb1"/><path d="M215.3 358.2L220.4 357.2L216.5 355.7L211.4 356.6Z" stroke="#513cb1"/><path d="M78.8 357.8L83.8 356.8L80.0 355.3L74.9 356.4Z" stroke="#513cb1"/><path d="M183.4 337.2L188.5 343.4L184.6 331.2L179.5 321.1Z" stroke="none"/><path d="M179.5 321.1L183.4 337.2L188.5 343.4" stroke="#4c83fe" fill="none"/><path d="M188.5 343.4L184.6 331.2" stroke="#5a69f9"/><path d="M179.5 321.1L184.6 331.2" stroke="#2fb6df"/><path d="M288.1 358.7L293.1 357.7L289.3 356.2L284.2 357.3Z" stroke="#513cb1"/><path d="M151.5 294.8L156.6 278.0L152.7 278.5L147.6 296.8Z" stroke="none"/><path d="M147.6 296.8L151.5 294.8L156.6 278.0" stroke="#c0ca45" fill="none"/><path d="M156.6 278.0L152.7 278.5" stroke="#f8e03f"/><path d="M147.6 296.8L152.7 278.5" stroke="#a7ce55"/><path d="M256.2 358.7L261.2 357.6L257.4 356.2L252.3 357.3Z" stroke="#513cb1"/><path d="M119.6 356.2L124.7 352.0L120.8 353.0L115.7 355.7Z" stroke="none"/><path d="M115.7 355.7L119.6 356.2L124.7 352.0" stroke="#533fbc" fill="none"/><path d="M124.7 352.0L120.8 353.0" stroke="#584bd9"/><path d="M115.7 355.7L120.8 353.0" stroke="#533fbc"/><path d="M224.3 358.6L229.3 357.6L225.5 356.1L220.4 357.2Z" stroke="#513cb1"/><path d="M87.7 358.2L92.8 357.1L88.9 355.7L83.8 356.8Z" stroke="#513cb1"/><path d="M192.4 351.9L197.4 353.9L193.6 348.0L188.5 343.4Z" stroke="none"/><path d="M188.5 343.4L192.4 351.9L197.4 353.9" stroke="#594fe1" fill="none"/><path d="M197.4 353.9L193.6 348.0" stroke="#5647d0"/><path d="M188.5 343.4L193.6 348.0" stroke="#5a69f9"/><path d="M160.5 288.6L165.5 285.0L161.7 271.4L156.6 278.0Z" stroke="none"/><path d="M156.6 278.0L160.5 288.6L165.5 285.0" stroke="#f1c14a" fill="none"/><path d="M165.5 285.0L161.7 271.4" stroke="#fec450"/><path d="M156.6 278.0L161.7 271.4" stroke="#f8e03f"/><path d="M265.1 359.1L270.2 358.0L266.3 356.6L261.2 357.6Z" stroke="#513cb1"/><path d="M128.6 350.5L133.6 340.3L129.8 344.9L124.7 352.0Z" stroke="none"/><path d="M124.7 352.0L128.6 350.5L133.6 340.3" stroke="#5954e8" fill="none"/><path d="M133.6 340.3L129.8 344.9" stroke="#5773fd"/><path d="M124.7 352.0L129.8 344.9" stroke="#584bd9"/><path d="M233.2 359.0L238.3 358.0L234.4 356.5L229.3 357.6Z" stroke="#513cb1"/><path d="M96.7 358.5L101.7 357.5L97.9 356.1L92.8 357.1Z" stroke="#513cb1"/><path d="M201.3 357.5L206.4 357.2L202.5 354.7L197.4 353.9Z" stroke="none"/><path d="M197.4 353.9L201.3 357.5L206.4 357.2" stroke="#533fbc" fill="none"/><path d="M206.4 357.2L202.5 354.7" stroke="#533fbc"/><path d="M197.4 353.9L202.5 354.7" stroke="#5647d0"/><path d="M169.4 305.3L174.5 311.3L170.6 291.2L165.5 285.0Z" stroke="none"/><path d="M165.5 285.0L169.4 305.3L174.5 311.3" stroke="#68d187" fill="none"/><path d="M174.5 311.3L170.6 291.2" stroke="#41cab0"/><path d="M165.5 285.0L170.6 291.2" stroke="#fec450"/><path d="M274.1 359.4L279.1 358.4L275.2 356.9L270.2 358.0Z" stroke="#513cb1"/><path d="M137.5 336.4L142.6 318.1L138.7 325.2L133.6 340.3Z" stroke="none"/><path d="M133.6 340.3L137.5 336.4L142.6 318.1" stroke="#4789fd" fill="none"/><path d="M142.6 318.1L138.7 325.2" stroke="#1abfcf"/><path d="M133.6 340.3L138.7 325.2" stroke="#5773fd"/><path d="M242.2 359.4L247.2 358.3L243.3 356.9L238.3 358.0Z" stroke="#513cb1"/><path d="M105.6 358.8L110.7 357.5L106.8 356.3L101.7 357.5Z" stroke="#513cb1"/><path d="M210.3 359.1L215.3 358.2L211.4 356.6L206.4 357.2Z" stroke="#513cb1"/><path d="M73.7 358.9L78.8 357.8L74.9 356.4L69.8 357.5Z" stroke="#513cb1"/><path d="M178.4 330.6L183.4 337.2L179.5 321.1L174.5 311.3Z" stroke="none"/><path d="M174.5 311.3L178.4 330.6L183.4 337.2" stroke="#3da1ed" fill="none"/><path d="M183.4 337.2L179.5 321.1" stroke="#4c83fe"/><path d="M174.5 311.3L179.5 321.1" stroke="#41cab0"/><path d="M283.0 359.8L288.1 358.7L284.2 357.3L279.1 358.4Z" stroke="#513cb1"/><path d="M146.5 315.7L151.5 294.8L147.6 296.8L142.6 318.1Z" stroke="none"/><path d="M142.6 318.1L146.5 315.7L151.5 294.8" stroke="#30c6bd" fill="none"/><path d="M151.5 294.8L147.6 296.8" stroke="#c0ca45"/><path d="M142.6 318.1L147.6 296.8" stroke="#1abfcf"/><path d="M251.1 359.7L256.2 358.7L252.3 357.3L247.2 358.3Z" stroke="#513cb1"/><path d="M114.6 358.6L119.6 356.2L115.7 355.7L110.7 357.5Z" stroke="#513cb1"/><path d="M219.2 359.7L224.3 358.6L220.4 357.2L215.3 358.2Z" stroke="#513cb1"/><path d="M82.7 359.2L87.7 358.2L83.8 356.8L78.8 357.8Z" stroke="#513cb1"/><path d="M187.3 348.9L192.4 351.9L188.5 343.4L183.4 337.2Z" stroke="none"/><path d="M183.4 337.2L187.3 348.9L192.4 351.9" stroke="#5a5ef2" fill="none"/><path d="M192.4 351.9L188.5 343.4" stroke="#594fe1"/><path d="M183.4 337.2L188.5 343.4" stroke="#4c83fe"/><path d="M155.4 301.4L160.5 288.6L156.6 278.0L151.5 294.8Z" stroke="none"/><path d="M151.5 294.8L155.4 301.4L160.5 288.6" stroke="#8dd169" fill="none"/><path d="M160.5 288.6L156.6 278.0" stroke="#f1c14a"/><path d="M151.5 294.8L156.6 278.0" stroke="#c0ca45"/><path d="M260.0 360.1L265.1 359.1L261.2 357.6L256.2 358.7Z" stroke="#513cb1"/><path d="M123.5 356.4L128.6 350.5L124.7 352.0L119.6 356.2Z" stroke="none"/><path d="M119.6 356.2L123.5 356.4L128.6 350.5" stroke="#5543c6" fill="none"/><path d="M128.6 350.5L124.7 352.0" stroke="#5954e8"/><path d="M119.6 356.2L124.7 352.0" stroke="#533fbc"/><path d="M228.1 360.1L233.2 359.0L229.3 357.6L224.3 358.6Z" stroke="#513cb1"/><path d="M91.6 359.6L96.7 358.5L92.8 357.1L87.7 358.2Z" stroke="#513cb1"/><path d="M196.2 357.2L201.3 357.5L197.4 353.9L192.4 351.9Z" stroke="none"/><path d="M192.4 351.9L196.2 357.2L201.3 357.5" stroke="#5543c6" fill="none"/><path d="M201.3 357.5L197.4 353.9" stroke="#533fbc"/><path d="M192.4 351.9L197.4 353.9" stroke="#594fe1"/><path d="M164.3 306.1L169.4 305.3L165.5 285.0L160.5 288.6Z" stroke="none"/><path d="M160.5 288.6L164.3 306.1L169.4 305.3" stroke="#68d187" fill="none"/><path d="M169.4 305.3L165.5 285.0" stroke="#68d187"/><path d="M160.5 288.6L165.5 285.0" stroke="#f1c14a"/><path d="M269.0 360.5L274.1 359.4L270.2 358.0L265.1 359.1Z" stroke="#513cb1"/><path d="M132.4 349.0L137.5 336.4L133.6 340.3L128.6 350.5Z" stroke="none"/><path d="M128.6 350.5L132.4 349.0L137.5 336.4" stroke="#5a5ef2" fill="none"/><path d="M137.5 336.4L133.6 340.3" stroke="#4789fd"/><path d="M128.6 350.5L133.6 340.3" stroke="#5954e8"/><path d="M237.1 360.4L242.2 359.4L238.3 358.0L233.2 359.0Z" stroke="#513cb1"/><path d="M100.5 360.0L105.6 358.8L101.7 357.5L96.7 358.5Z" stroke="#513cb1"/><path d="M205.2 359.9L210.3 359.1L206.4 357.2L201.3 357.5Z" stroke="#513cb1"/><path d="M173.3 325.6L178.4 330.6L174.5 311.3L169.4 305.3Z" stroke="none"/><path d="M169.4 305.3L173.3 325.6L178.4 330.6" stroke="#33b2e3" fill="none"/><path d="M178.4 330.6L174.5 311.3" stroke="#3da1ed"/><path d="M169.4 305.3L174.5 311.3" stroke="#68d187"/><path d="M277.9 360.8L283.0 359.8L279.1 358.4L274.1 359.4Z" stroke="#513cb1"/><path d="M141.4 334.5L146.5 315.7L142.6 318.1L137.5 336.4Z" stroke="none"/><path d="M137.5 336.4L141.4 334.5L146.5 315.7" stroke="#4298f4" fill="none"/><path d="M146.5 315.7L142.6 318.1" stroke="#30c6bd"/><path d="M137.5 336.4L142.6 318.1" stroke="#4789fd"/><path d="M246.0 360.8L251.1 359.7L247.2 358.3L242.2 359.4Z" stroke="#513cb1"/><path d="M109.5 360.1L114.6 358.6L110.7 357.5L105.6 358.8Z" stroke="#513cb1"/><path d="M214.1 360.7L219.2 359.7L215.3 358.2L210.3 359.1Z" stroke="#513cb1"/><path d="M77.6 360.3L82.7 359.2L78.8 357.8L73.7 358.9Z" stroke="#513cb1"/><path d="M182.2 345.1L187.3 348.9L183.4 337.2L178.4 330.6Z" stroke="none"/><path d="M178.4 330.6L182.2 345.1L187.3 348.9" stroke="#596efb" fill="none"/><path d="M187.3 348.9L183.4 337.2" stroke="#5a5ef2"/><path d="M178.4 330.6L183.4 337.2" stroke="#3da1ed"/><path d="M150.3 318.6L155.4 301.4L151.5 294.8L146.5 315.7Z" stroke="none"/><path d="M146.5 315.7L150.3 318.6L155.4 301.4" stroke="#23c4c3" fill="none"/><path d="M155.4 301.4L151.5 294.8" stroke="#8dd169"/><path d="M146.5 315.7L151.5 294.8" stroke="#30c6bd"/><path d="M255.0 361.2L260.0 360.1L256.2 358.7L251.1 359.7Z" stroke="#513cb1"/><path d="M118.4 359.6L123.5 356.4L119.6 356.2L114.6 358.6Z" stroke="none"/><path d="M114.6 358.6L118.4 359.6L123.5 356.4" stroke="#533fbc" fill="none"/><path d="M123.5 356.4L119.6 356.2" stroke="#5543c6"/><path d="M114.6 358.6L119.6 356.2" stroke="#513cb1"/><path d="M223.1 361.1L228.1 360.1L224.3 358.6L219.2 359.7Z" stroke="#513cb1"/><path d="M86.5 360.7L91.6 359.6L87.7 358.2L82.7 359.2Z" stroke="#513cb1"/><path d="M191.2 356.1L196.2 357.2L192.4 351.9L187.3 348.9Z" stroke="none"/><path d="M187.3 348.9L191.2 356.1L196.2 357.2" stroke="#584bd9" fill="none"/><path d="M196.2 357.2L192.4 351.9" stroke="#5543c6"/><path d="M187.3 348.9L192.4 351.9" stroke="#5a5ef2"/><path d="M159.3 313.5L164.3 306.1L160.5 288.6L155.4 301.4Z" stroke="none"/><path d="M155.4 301.4L159.3 313.5L164.3 306.1" stroke="#46cca9" fill="none"/><path d="M164.3 306.1L160.5 288.6" stroke="#68d187"/><path d="M155.4 301.4L160.5 288.6" stroke="#8dd169"/><path d="M263.9 361.5L269.0 360.5L265.1 359.1L260.0 360.1Z" stroke="#513cb1"/><path d="M127.4 356.4L132.4 349.0L128.6 350.5L123.5 356.4Z" stroke="none"/><path d="M123.5 356.4L127.4 356.4L132.4 349.0" stroke="#5647d0" fill="none"/><path d="M132.4 349.0L128.6 350.5" stroke="#5a5ef2"/><path d="M123.5 356.4L128.6 350.5" stroke="#5543c6"/><path d="M232.0 361.5L237.1 360.4L233.2 359.0L228.1 360.1Z" stroke="#513cb1"/><path d="M95.5 361.0L100.5 360.0L96.7 358.5L91.6 359.6Z" stroke="#513cb1"/><path d="M200.1 360.4L205.2 359.9L201.3 357.5L196.2 357.2Z" stroke="none"/><path d="M196.2 357.2L200.1 360.4L205.2 359.9" stroke="#533fbc" fill="none"/><path d="M205.2 359.9L201.3 357.5" stroke="#513cb1"/><path d="M196.2 357.2L201.3 357.5" stroke="#5543c6"/><path d="M168.2 324.1L173.3 325.6L169.4 305.3L164.3 306.1Z" stroke="none"/><path d="M164.3 306.1L168.2 324.1L173.3 325.6" stroke="#29b9da" fill="none"/><path d="M173.3 325.6L169.4 305.3" stroke="#33b2e3"/><path d="M164.3 306.1L169.4 305.3" stroke="#68d187"/><path d="M272.9 361.9L277.9 360.8L274.1 359.4L269.0 360.5Z" stroke="#513cb1"/><path d="M136.3 347.9L141.4 334.5L137.5 336.4L132.4 349.0Z" stroke="none"/><path d="M132.4 349.0L136.3 347.9L141.4 334.5" stroke="#5a69f9" fill="none"/><path d="M141.4 334.5L137.5 336.4" stroke="#4298f4"/><path d="M132.4 349.0L137.5 336.4" stroke="#5a5ef2"/><path d="M241.0 361.9L246.0 360.8L242.2 359.4L237.1 360.4Z" stroke="#513cb1"/><path d="M104.4 361.3L109.5 360.1L105.6 358.8L100.5 360.0Z" stroke="#513cb1"/><path d="M209.1 361.7L214.1 360.7L210.3 359.1L205.2 359.9Z" stroke="#513cb1"/><path d="M177.2 341.4L182.2 345.1L178.4 330.6L173.3 325.6Z" stroke="none"/><path d="M173.3 325.6L177.2 341.4L182.2 345.1" stroke="#4c83fe" fill="none"/><path d="M182.2 345.1L178.4 330.6" stroke="#596efb"/><path d="M173.3 325.6L178.4 330.6" stroke="#33b2e3"/><path d="M145.3 334.9L150.3 318.6L146.5 315.7L141.4 334.5Z" stroke="none"/><path d="M141.4 334.5L145.3 334.9L150.3 318.6" stroke="#409cf0" fill="none"/><path d="M150.3 318.6L146.5 315.7" stroke="#23c4c3"/><path d="M141.4 334.5L146.5 315.7" stroke="#4298f4"/><path d="M249.9 362.2L255.0 361.2L251.1 359.7L246.0 360.8Z" stroke="#513cb1"/><path d="M113.4 361.4L118.4 359.6L114.6 358.6L109.5 360.1Z" stroke="#513cb1"/><path d="M218.0 362.2L223.1 361.1L219.2 359.7L214.1 360.7Z" stroke="#513cb1"/><path d="M81.5 361.7L86.5 360.7L82.7 359.2L77.6 360.3Z" stroke="#513cb1"/><path d="M186.1 354.3L191.2 356.1L187.3 348.9L182.2 345.1Z" stroke="none"/><path d="M182.2 345.1L186.1 354.3L191.2 356.1" stroke="#5954e8" fill="none"/><path d="M191.2 356.1L187.3 348.9" stroke="#584bd9"/><path d="M182.2 345.1L187.3 348.9" stroke="#596efb"/><path d="M154.2 324.8L159.3 313.5L155.4 301.4L150.3 318.6Z" stroke="none"/><path d="M150.3 318.6L154.2 324.8L159.3 313.5" stroke="#29b9da" fill="none"/><path d="M159.3 313.5L155.4 301.4" stroke="#46cca9"/><path d="M150.3 318.6L155.4 301.4" stroke="#23c4c3"/><path d="M258.9 362.6L263.9 361.5L260.0 360.1L255.0 361.2Z" stroke="#513cb1"/><path d="M122.3 360.3L127.4 356.4L123.5 356.4L118.4 359.6Z" stroke="none"/><path d="M118.4 359.6L122.3 360.3L127.4 356.4" stroke="#533fbc" fill="none"/><path d="M127.4 356.4L123.5 356.4" stroke="#5647d0"/><path d="M118.4 359.6L123.5 356.4" stroke="#533fbc"/><path d="M227.0 362.6L232.0 361.5L228.1 360.1L223.1 361.1Z" stroke="#513cb1"/><path d="M90.4 362.1L95.5 361.0L91.6 359.6L86.5 360.7Z" stroke="#513cb1"/><path d="M195.1 360.4L200.1 360.4L196.2 357.2L191.2 356.1Z" stroke="none"/><path d="M191.2 356.1L195.1 360.4L200.1 360.4" stroke="#5543c6" fill="none"/><path d="M200.1 360.4L196.2 357.2" stroke="#533fbc"/><path d="M191.2 356.1L196.2 357.2" stroke="#584bd9"/><path d="M163.2 326.5L168.2 324.1L164.3 306.1L159.3 313.5Z" stroke="none"/><path d="M159.3 313.5L163.2 326.5L168.2 324.1" stroke="#2fb6df" fill="none"/><path d="M168.2 324.1L164.3 306.1" stroke="#29b9da"/><path d="M159.3 313.5L164.3 306.1" stroke="#46cca9"/><path d="M267.8 363.0L272.9 361.9L269.0 360.5L263.9 361.5Z" stroke="#513cb1"/><path d="M131.3 356.1L136.3 347.9L132.4 349.0L127.4 356.4Z" stroke="none"/><path d="M127.4 356.4L131.3 356.1L136.3 347.9" stroke="#594fe1" fill="none"/><path d="M136.3 347.9L132.4 349.0" stroke="#5a69f9"/><path d="M127.4 356.4L132.4 349.0" stroke="#5647d0"/><path d="M235.9 362.9L241.0 361.9L237.1 360.4L232.0 361.5Z" stroke="#513cb1"/><path d="M99.4 362.4L104.4 361.3L100.5 360.0L95.5 361.0Z" stroke="#513cb1"/><path d="M204.0 362.5L209.1 361.7L205.2 359.9L200.1 360.4Z" stroke="#513cb1"/><path d="M172.1 338.6L177.2 341.4L173.3 325.6L168.2 324.1Z" stroke="none"/><path d="M168.2 324.1L172.1 338.6L177.2 341.4" stroke="#4293f8" fill="none"/><path d="M177.2 341.4L173.3 325.6" stroke="#4c83fe"/><path d="M168.2 324.1L173.3 325.6" stroke="#29b9da"/><path d="M140.2 347.2L145.3 334.9L141.4 334.5L136.3 347.9Z" stroke="none"/><path d="M136.3 347.9L140.2 347.2L145.3 334.9" stroke="#596efb" fill="none"/><path d="M145.3 334.9L141.4 334.5" stroke="#409cf0"/><path d="M136.3 347.9L141.4 334.5" stroke="#5a69f9"/><path d="M244.9 363.3L249.9 362.2L246.0 360.8L241.0 361.9Z" stroke="#513cb1"/><path d="M108.3 362.7L113.4 361.4L109.5 360.1L104.4 361.3Z" stroke="#513cb1"/><path d="M213.0 363.2L218.0 362.2L214.1 360.7L209.1 361.7Z" stroke="#513cb1"/><path d="M181.1 351.8L186.1 354.3L182.2 345.1L177.2 341.4Z" stroke="none"/><path d="M177.2 341.4L181.1 351.8L186.1 354.3" stroke="#5a5ef2" fill="none"/><path d="M186.1 354.3L182.2 345.1" stroke="#5954e8"/><path d="M177.2 341.4L182.2 345.1" stroke="#4c83fe"/><path d="M149.2 336.4L154.2 324.8L150.3 318.6L145.3 334.9Z" stroke="none"/><path d="M145.3 334.9L149.2 336.4L154.2 324.8" stroke="#4298f4" fill="none"/><path d="M154.2 324.8L150.3 318.6" stroke="#29b9da"/><path d="M145.3 334.9L150.3 318.6" stroke="#409cf0"/><path d="M253.8 363.6L258.9 362.6L255.0 361.2L249.9 362.2Z" stroke="#513cb1"/><path d="M117.3 362.5L122.3 360.3L118.4 359.6L113.4 361.4Z" stroke="#513cb1"/><path d="M221.9 363.6L227.0 362.6L223.1 361.1L218.0 362.2Z" stroke="#513cb1"/><path d="M85.4 363.1L90.4 362.1L86.5 360.7L81.5 361.7Z" stroke="#513cb1"/><path d="M190.0 359.8L195.1 360.4L191.2 356.1L186.1 354.3Z" stroke="none"/><path d="M186.1 354.3L190.0 359.8L195.1 360.4" stroke="#5647d0" fill="none"/><path d="M195.1 360.4L191.2 356.1" stroke="#5543c6"/><path d="M186.1 354.3L191.2 356.1" stroke="#5954e8"/><path d="M158.1 331.6L163.2 326.5L159.3 313.5L154.2 324.8Z" stroke="none"/><path d="M154.2 324.8L158.1 331.6L163.2 326.5" stroke="#39aae7" fill="none"/><path d="M163.2 326.5L159.3 313.5" stroke="#2fb6df"/><path d="M154.2 324.8L159.3 313.5" stroke="#29b9da"/><path d="M262.7 364.0L267.8 363.0L263.9 361.5L258.9 362.6Z" stroke="#513cb1"/><path d="M126.2 360.8L131.3 356.1L127.4 356.4L122.3 360.3Z" stroke="none"/><path d="M122.3 360.3L126.2 360.8L131.3 356.1" stroke="#5543c6" fill="none"/><path d="M131.3 356.1L127.4 356.4" stroke="#594fe1"/><path d="M122.3 360.3L127.4 356.4" stroke="#533fbc"/><path d="M230.8 364.0L235.9 362.9L232.0 361.5L227.0 362.6Z" stroke="#513cb1"/><path d="M94.3 363.5L99.4 362.4L95.5 361.0L90.4 362.1Z" stroke="#513cb1"/><path d="M198.9 363.1L204.0 362.5L200.1 360.4L195.1 360.4Z" stroke="none"/><path d="M195.1 360.4L198.9 363.1L204.0 362.5" stroke="#533fbc" fill="none"/><path d="M204.0 362.5L200.1 360.4" stroke="#513cb1"/><path d="M195.1 360.4L200.1 360.4" stroke="#5543c6"/><path d="M167.0 337.3L172.1 338.6L168.2 324.1L163.2 326.5Z" stroke="none"/><path d="M163.2 326.5L167.0 337.3L172.1 338.6" stroke="#4298f4" fill="none"/><path d="M172.1 338.6L168.2 324.1" stroke="#4293f8"/><path d="M163.2 326.5L168.2 324.1" stroke="#2fb6df"/><path d="M135.1 355.4L140.2 347.2L136.3 347.9L131.3 356.1Z" stroke="none"/><path d="M131.3 356.1L135.1 355.4L140.2 347.2" stroke="#5954e8" fill="none"/><path d="M140.2 347.2L136.3 347.9" stroke="#596efb"/><path d="M131.3 356.1L136.3 347.9" stroke="#594fe1"/><path d="M239.8 364.3L244.9 363.3L241.0 361.9L235.9 362.9Z" stroke="#513cb1"/><path d="M103.2 363.8L108.3 362.7L104.4 361.3L99.4 362.4Z" stroke="#513cb1"/><path d="M207.9 364.2L213.0 363.2L209.1 361.7L204.0 362.5Z" stroke="#513cb1"/><path d="M176.0 348.8L181.1 351.8L177.2 341.4L172.1 338.6Z" stroke="none"/><path d="M172.1 338.6L176.0 348.8L181.1 351.8" stroke="#596efb" fill="none"/><path d="M181.1 351.8L177.2 341.4" stroke="#5a5ef2"/><path d="M172.1 338.6L177.2 341.4" stroke="#4293f8"/><path d="M144.1 346.3L149.2 336.4L145.3 334.9L140.2 347.2Z" stroke="none"/><path d="M140.2 347.2L144.1 346.3L149.2 336.4" stroke="#5578fe" fill="none"/><path d="M149.2 336.4L145.3 334.9" stroke="#4298f4"/><path d="M140.2 347.2L145.3 334.9" stroke="#596efb"/><path d="M248.7 364.7L253.8 363.6L249.9 362.2L244.9 363.3Z" stroke="#513cb1"/><path d="M112.2 364.0L117.3 362.5L113.4 361.4L108.3 362.7Z" stroke="#513cb1"/><path d="M216.8 364.7L221.9 363.6L218.0 362.2L213.0 363.2Z" stroke="#513cb1"/><path d="M184.9 358.3L190.0 359.8L186.1 354.3L181.1 351.8Z" stroke="none"/><path d="M181.1 351.8L184.9 358.3L190.0 359.8" stroke="#594fe1" fill="none"/><path d="M190.0 359.8L186.1 354.3" stroke="#5647d0"/><path d="M181.1 351.8L186.1 354.3" stroke="#5a5ef2"/><path d="M153.0 338.1L158.1 331.6L154.2 324.8L149.2 336.4Z" stroke="none"/><path d="M149.2 336.4L153.0 338.1L158.1 331.6" stroke="#4298f4" fill="none"/><path d="M158.1 331.6L154.2 324.8" stroke="#39aae7"/><path d="M149.2 336.4L154.2 324.8" stroke="#4298f4"/><path d="M257.7 365.1L262.7 364.0L258.9 362.6L253.8 363.6Z" stroke="#513cb1"/><path d="M121.1 363.4L126.2 360.8L122.3 360.3L117.3 362.5Z" stroke="none"/><path d="M117.3 362.5L121.1 363.4L126.2 360.8" stroke="#533fbc" fill="none"/><path d="M126.2 360.8L122.3 360.3" stroke="#5543c6"/><path d="M117.3 362.5L122.3 360.3" stroke="#513cb1"/><path d="M225.8 365.0L230.8 364.0L227.0 362.6L221.9 363.6Z" stroke="#513cb1"/><path d="M89.2 364.6L94.3 363.5L90.4 362.1L85.4 363.1Z" stroke="#513cb1"/><path d="M193.9 363.2L198.9 363.1L195.1 360.4L190.0 359.8Z" stroke="none"/><path d="M190.0 359.8L193.9 363.2L198.9 363.1" stroke="#533fbc" fill="none"/><path d="M198.9 363.1L195.1 360.4" stroke="#533fbc"/><path d="M190.0 359.8L195.1 360.4" stroke="#5647d0"/><path d="M162.0 337.7L167.0 337.3L163.2 326.5L158.1 331.6Z" stroke="none"/><path d="M158.1 331.6L162.0 337.7L167.0 337.3" stroke="#409cf0" fill="none"/><path d="M167.0 337.3L163.2 326.5" stroke="#4298f4"/><path d="M158.1 331.6L163.2 326.5" stroke="#39aae7"/><path d="M130.1 360.6L135.1 355.4L131.3 356.1L126.2 360.8Z" stroke="none"/><path d="M126.2 360.8L130.1 360.6L135.1 355.4" stroke="#5647d0" fill="none"/><path d="M135.1 355.4L131.3 356.1" stroke="#5954e8"/><path d="M126.2 360.8L131.3 356.1" stroke="#5543c6"/><path d="M234.7 365.4L239.8 364.3L235.9 362.9L230.8 364.0Z" stroke="#513cb1"/><path d="M98.2 364.9L103.2 363.8L99.4 362.4L94.3 363.5Z" stroke="#513cb1"/><path d="M202.8 365.0L207.9 364.2L204.0 362.5L198.9 363.1Z" stroke="#513cb1"/><path d="M170.9 345.8L176.0 348.8L172.1 338.6L167.0 337.3Z" stroke="none"/><path d="M167.0 337.3L170.9 345.8L176.0 348.8" stroke="#517eff" fill="none"/><path d="M176.0 348.8L172.1 338.6" stroke="#596efb"/><path d="M167.0 337.3L172.1 338.6" stroke="#4298f4"/><path d="M139.0 354.0L144.1 346.3L140.2 347.2L135.1 355.4Z" stroke="none"/><path d="M135.1 355.4L139.0 354.0L144.1 346.3" stroke="#5a5ef2" fill="none"/><path d="M144.1 346.3L140.2 347.2" stroke="#5578fe"/><path d="M135.1 355.4L140.2 347.2" stroke="#5954e8"/><path d="M243.7 365.8L248.7 364.7L244.9 363.3L239.8 364.3Z" stroke="#513cb1"/><path d="M107.1 365.2L112.2 364.0L108.3 362.7L103.2 363.8Z" stroke="#513cb1"/><path d="M211.8 365.7L216.8 364.7L213.0 363.2L207.9 364.2Z" stroke="#513cb1"/><path d="M179.9 355.9L184.9 358.3L181.1 351.8L176.0 348.8Z" stroke="none"/><path d="M176.0 348.8L179.9 355.9L184.9 358.3" stroke="#5a59ed" fill="none"/><path d="M184.9 358.3L181.1 351.8" stroke="#594fe1"/><path d="M176.0 348.8L181.1 351.8" stroke="#596efb"/><path d="M148.0 345.1L153.0 338.1L149.2 336.4L144.1 346.3Z" stroke="none"/><path d="M144.1 346.3L148.0 345.1L153.0 338.1" stroke="#4c83fe" fill="none"/><path d="M153.0 338.1L149.2 336.4" stroke="#4298f4"/><path d="M144.1 346.3L149.2 336.4" stroke="#5578fe"/><path d="M252.6 366.1L257.7 365.1L253.8 363.6L248.7 364.7Z" stroke="#513cb1"/><path d="M116.1 365.2L121.1 363.4L117.3 362.5L112.2 364.0Z" stroke="#513cb1"/><path d="M220.7 366.1L225.8 365.0L221.9 363.6L216.8 364.7Z" stroke="#513cb1"/><path d="M188.8 362.7L193.9 363.2L190.0 359.8L184.9 358.3Z" stroke="none"/><path d="M184.9 358.3L188.8 362.7L193.9 363.2" stroke="#5543c6" fill="none"/><path d="M193.9 363.2L190.0 359.8" stroke="#533fbc"/><path d="M184.9 358.3L190.0 359.8" stroke="#594fe1"/><path d="M156.9 340.1L162.0 337.7L158.1 331.6L153.0 338.1Z" stroke="#4298f4"/><path d="M125.0 363.9L130.1 360.6L126.2 360.8L121.1 363.4Z" stroke="none"/><path d="M121.1 363.4L125.0 363.9L130.1 360.6" stroke="#5543c6" fill="none"/><path d="M130.1 360.6L126.2 360.8" stroke="#5647d0"/><path d="M121.1 363.4L126.2 360.8" stroke="#533fbc"/><path d="M229.7 366.5L234.7 365.4L230.8 364.0L225.8 365.0Z" stroke="#513cb1"/><path d="M93.1 366.0L98.2 364.9L94.3 363.5L89.2 364.6Z" stroke="#513cb1"/><path d="M197.8 365.6L202.8 365.0L198.9 363.1L193.9 363.2Z" stroke="#533fbc"/><path d="M165.9 343.7L170.9 345.8L167.0 337.3L162.0 337.7Z" stroke="none"/><path d="M162.0 337.7L165.9 343.7L170.9 345.8" stroke="#4789fd" fill="none"/><path d="M170.9 345.8L167.0 337.3" stroke="#517eff"/><path d="M162.0 337.7L167.0 337.3" stroke="#409cf0"/><path d="M134.0 359.7L139.0 354.0L135.1 355.4L130.1 360.6Z" stroke="none"/><path d="M130.1 360.6L134.0 359.7L139.0 354.0" stroke="#594fe1" fill="none"/><path d="M139.0 354.0L135.1 355.4" stroke="#5a5ef2"/><path d="M130.1 360.6L135.1 355.4" stroke="#5647d0"/><path d="M238.6 366.8L243.7 365.8L239.8 364.3L234.7 365.4Z" stroke="#513cb1"/><path d="M102.1 366.3L107.1 365.2L103.2 363.8L98.2 364.9Z" stroke="#513cb1"/><path d="M206.7 366.7L211.8 365.7L207.9 364.2L202.8 365.0Z" stroke="#513cb1"/><path d="M174.8 353.0L179.9 355.9L176.0 348.8L170.9 345.8Z" stroke="none"/><path d="M170.9 345.8L174.8 353.0L179.9 355.9" stroke="#5a69f9" fill="none"/><path d="M179.9 355.9L176.0 348.8" stroke="#5a59ed"/><path d="M170.9 345.8L176.0 348.8" stroke="#517eff"/><path d="M142.9 352.0L148.0 345.1L144.1 346.3L139.0 354.0Z" stroke="none"/><path d="M139.0 354.0L142.9 352.0L148.0 345.1" stroke="#596efb" fill="none"/><path d="M148.0 345.1L144.1 346.3" stroke="#4c83fe"/><path d="M139.0 354.0L144.1 346.3" stroke="#5a5ef2"/><path d="M247.5 367.2L252.6 366.1L248.7 364.7L243.7 365.8Z" stroke="#513cb1"/><path d="M111.0 366.5L116.1 365.2L112.2 364.0L107.1 365.2Z" stroke="#513cb1"/><path d="M215.6 367.1L220.7 366.1L216.8 364.7L211.8 365.7Z" stroke="#513cb1"/><path d="M183.7 361.3L188.8 362.7L184.9 358.3L179.9 355.9Z" stroke="none"/><path d="M179.9 355.9L183.7 361.3L188.8 362.7" stroke="#584bd9" fill="none"/><path d="M188.8 362.7L184.9 358.3" stroke="#5543c6"/><path d="M179.9 355.9L184.9 358.3" stroke="#5a59ed"/><path d="M151.8 344.7L156.9 340.1L153.0 338.1L148.0 345.1Z" stroke="none"/><path d="M148.0 345.1L151.8 344.7L156.9 340.1" stroke="#4789fd" fill="none"/><path d="M156.9 340.1L153.0 338.1" stroke="#4298f4"/><path d="M148.0 345.1L153.0 338.1" stroke="#4c83fe"/><path d="M119.9 366.1L125.0 363.9L121.1 363.4L116.1 365.2Z" stroke="none"/><path d="M116.1 365.2L119.9 366.1L125.0 363.9" stroke="#533fbc" fill="none"/><path d="M125.0 363.9L121.1 363.4" stroke="#5543c6"/><path d="M116.1 365.2L121.1 363.4" stroke="#513cb1"/><path d="M224.6 367.5L229.7 366.5L225.8 365.0L220.7 366.1Z" stroke="#513cb1"/><path d="M192.7 365.8L197.8 365.6L193.9 363.2L188.8 362.7Z" stroke="#533fbc"/><path d="M160.8 343.8L165.9 343.7L162.0 337.7L156.9 340.1Z" stroke="none"/><path d="M156.9 340.1L160.8 343.8L165.9 343.7" stroke="#448efa" fill="none"/><path d="M165.9 343.7L162.0 337.7" stroke="#4789fd"/><path d="M156.9 340.1L162.0 337.7" stroke="#4298f4"/><path d="M128.9 363.9L134.0 359.7L130.1 360.6L125.0 363.9Z" stroke="none"/><path d="M125.0 363.9L128.9 363.9L134.0 359.7" stroke="#5647d0" fill="none"/><path d="M134.0 359.7L130.1 360.6" stroke="#594fe1"/><path d="M125.0 363.9L130.1 360.6" stroke="#5543c6"/><path d="M233.5 367.9L238.6 366.8L234.7 365.4L229.7 366.5Z" stroke="#513cb1"/><path d="M97.0 367.4L102.1 366.3L98.2 364.9L93.1 366.0Z" stroke="#513cb1"/><path d="M201.6 367.5L206.7 366.7L202.8 365.0L197.8 365.6Z" stroke="#513cb1"/><path d="M169.7 350.6L174.8 353.0L170.9 345.8L165.9 343.7Z" stroke="none"/><path d="M165.9 343.7L169.7 350.6L174.8 353.0" stroke="#5578fe" fill="none"/><path d="M174.8 353.0L170.9 345.8" stroke="#5a69f9"/><path d="M165.9 343.7L170.9 345.8" stroke="#4789fd"/><path d="M137.8 358.4L142.9 352.0L139.0 354.0L134.0 359.7Z" stroke="none"/><path d="M134.0 359.7L137.8 358.4L142.9 352.0" stroke="#5a59ed" fill="none"/><path d="M142.9 352.0L139.0 354.0" stroke="#596efb"/><path d="M134.0 359.7L139.0 354.0" stroke="#594fe1"/><path d="M242.5 368.2L247.5 367.2L243.7 365.8L238.6 366.8Z" stroke="#513cb1"/><path d="M105.9 367.7L111.0 366.5L107.1 365.2L102.1 366.3Z" stroke="#513cb1"/><path d="M210.6 368.2L215.6 367.1L211.8 365.7L206.7 366.7Z" stroke="#513cb1"/><path d="M178.7 359.5L183.7 361.3L179.9 355.9L174.8 353.0Z" stroke="none"/><path d="M174.8 353.0L178.7 359.5L183.7 361.3" stroke="#5954e8" fill="none"/><path d="M183.7 361.3L179.9 355.9" stroke="#584bd9"/><path d="M174.8 353.0L179.9 355.9" stroke="#5a69f9"/><path d="M146.8 350.9L151.8 344.7L148.0 345.1L142.9 352.0Z" stroke="none"/><path d="M142.9 352.0L146.8 350.9L151.8 344.7" stroke="#5578fe" fill="none"/><path d="M151.8 344.7L148.0 345.1" stroke="#4789fd"/><path d="M142.9 352.0L148.0 345.1" stroke="#596efb"/><path d="M114.9 367.8L119.9 366.1L116.1 365.2L111.0 366.5Z" stroke="#513cb1"/><path d="M219.5 368.6L224.6 367.5L220.7 366.1L215.6 367.1Z" stroke="#513cb1"/><path d="M187.6 365.5L192.7 365.8L188.8 362.7L183.7 361.3Z" stroke="none"/><path d="M183.7 361.3L187.6 365.5L192.7 365.8" stroke="#5543c6" fill="none"/><path d="M192.7 365.8L188.8 362.7" stroke="#533fbc"/><path d="M183.7 361.3L188.8 362.7" stroke="#584bd9"/><path d="M155.7 346.8L160.8 343.8L156.9 340.1L151.8 344.7Z" stroke="#4789fd"/><path d="M123.8 366.8L128.9 363.9L125.0 363.9L119.9 366.1Z" stroke="none"/><path d="M119.9 366.1L123.8 366.8L128.9 363.9" stroke="#533fbc" fill="none"/><path d="M128.9 363.9L125.0 363.9" stroke="#5647d0"/><path d="M119.9 366.1L125.0 363.9" stroke="#533fbc"/><path d="M228.5 368.9L233.5 367.9L229.7 366.5L224.6 367.5Z" stroke="#513cb1"/><path d="M196.6 368.2L201.6 367.5L197.8 365.6L192.7 365.8Z" stroke="#533fbc"/><path d="M164.7 350.0L169.7 350.6L165.9 343.7L160.8 343.8Z" stroke="none"/><path d="M160.8 343.8L164.7 350.0L169.7 350.6" stroke="#517eff" fill="none"/><path d="M169.7 350.6L165.9 343.7" stroke="#5578fe"/><path d="M160.8 343.8L165.9 343.7" stroke="#448efa"/><path d="M132.8 363.5L137.8 358.4L134.0 359.7L128.9 363.9Z" stroke="none"/><path d="M128.9 363.9L132.8 363.5L137.8 358.4" stroke="#584bd9" fill="none"/><path d="M137.8 358.4L134.0 359.7" stroke="#5a59ed"/><path d="M128.9 363.9L134.0 359.7" stroke="#5647d0"/><path d="M237.4 369.3L242.5 368.2L238.6 366.8L233.5 367.9Z" stroke="#513cb1"/><path d="M100.9 368.8L105.9 367.7L102.1 366.3L97.0 367.4Z" stroke="#513cb1"/><path d="M205.5 369.2L210.6 368.2L206.7 366.7L201.6 367.5Z" stroke="#513cb1"/><path d="M173.6 357.9L178.7 359.5L174.8 353.0L169.7 350.6Z" stroke="none"/><path d="M169.7 350.6L173.6 357.9L178.7 359.5" stroke="#5a5ef2" fill="none"/><path d="M178.7 359.5L174.8 353.0" stroke="#5954e8"/><path d="M169.7 350.6L174.8 353.0" stroke="#5578fe"/><path d="M141.7 357.7L146.8 350.9L142.9 352.0L137.8 358.4Z" stroke="none"/><path d="M137.8 358.4L141.7 357.7L146.8 350.9" stroke="#5a5ef2" fill="none"/><path d="M146.8 350.9L142.9 352.0" stroke="#5578fe"/><path d="M137.8 358.4L142.9 352.0" stroke="#5a59ed"/><path d="M109.8 369.1L114.9 367.8L111.0 366.5L105.9 367.7Z" stroke="#513cb1"/><path d="M214.5 369.6L219.5 368.6L215.6 367.1L210.6 368.2Z" stroke="#513cb1"/><path d="M182.6 364.9L187.6 365.5L183.7 361.3L178.7 359.5Z" stroke="none"/><path d="M178.7 359.5L182.6 364.9L187.6 365.5" stroke="#5647d0" fill="none"/><path d="M187.6 365.5L183.7 361.3" stroke="#5543c6"/><path d="M178.7 359.5L183.7 361.3" stroke="#5954e8"/><path d="M150.7 352.3L155.7 346.8L151.8 344.7L146.8 350.9Z" stroke="none"/><path d="M146.8 350.9L150.7 352.3L155.7 346.8" stroke="#5578fe" fill="none"/><path d="M155.7 346.8L151.8 344.7" stroke="#4789fd"/><path d="M146.8 350.9L151.8 344.7" stroke="#5578fe"/><path d="M118.8 368.9L123.8 366.8L119.9 366.1L114.9 367.8Z" stroke="#533fbc"/><path d="M223.4 370.0L228.5 368.9L224.6 367.5L219.5 368.6Z" stroke="#513cb1"/><path d="M191.5 368.6L196.6 368.2L192.7 365.8L187.6 365.5Z" stroke="#533fbc"/><path d="M159.6 352.0L164.7 350.0L160.8 343.8L155.7 346.8Z" stroke="none"/><path d="M155.7 346.8L159.6 352.0L164.7 350.0" stroke="#5578fe" fill="none"/><path d="M164.7 350.0L160.8 343.8" stroke="#517eff"/><path d="M155.7 346.8L160.8 343.8" stroke="#4789fd"/><path d="M127.7 367.3L132.8 363.5L128.9 363.9L123.8 366.8Z" stroke="none"/><path d="M123.8 366.8L127.7 367.3L132.8 363.5" stroke="#5543c6" fill="none"/><path d="M132.8 363.5L128.9 363.9" stroke="#584bd9"/><path d="M123.8 366.8L128.9 363.9" stroke="#533fbc"/><path d="M232.3 370.4L237.4 369.3L233.5 367.9L228.5 368.9Z" stroke="#513cb1"/><path d="M200.4 370.1L205.5 369.2L201.6 367.5L196.6 368.2Z" stroke="#513cb1"/><path d="M168.5 357.5L173.6 357.9L169.7 350.6L164.7 350.0Z" stroke="none"/><path d="M164.7 350.0L168.5 357.5L173.6 357.9" stroke="#5a64f5" fill="none"/><path d="M173.6 357.9L169.7 350.6" stroke="#5a5ef2"/><path d="M164.7 350.0L169.7 350.6" stroke="#517eff"/><path d="M136.6 363.6L141.7 357.7L137.8 358.4L132.8 363.5Z" stroke="none"/><path d="M132.8 363.5L136.6 363.6L141.7 357.7" stroke="#594fe1" fill="none"/><path d="M141.7 357.7L137.8 358.4" stroke="#5a5ef2"/><path d="M132.8 363.5L137.8 358.4" stroke="#584bd9"/><path d="M104.7 370.2L109.8 369.1L105.9 367.7L100.9 368.8Z" stroke="#513cb1"/><path d="M209.4 370.7L214.5 369.6L210.6 368.2L205.5 369.2Z" stroke="#513cb1"/><path d="M177.5 364.4L182.6 364.9L178.7 359.5L173.6 357.9Z" stroke="none"/><path d="M173.6 357.9L177.5 364.4L182.6 364.9" stroke="#594fe1" fill="none"/><path d="M182.6 364.9L178.7 359.5" stroke="#5647d0"/><path d="M173.6 357.9L178.7 359.5" stroke="#5a5ef2"/><path d="M145.6 358.8L150.7 352.3L146.8 350.9L141.7 357.7Z" stroke="none"/><path d="M141.7 357.7L145.6 358.8L150.7 352.3" stroke="#5a64f5" fill="none"/><path d="M150.7 352.3L146.8 350.9" stroke="#5578fe"/><path d="M141.7 357.7L146.8 350.9" stroke="#5a5ef2"/><path d="M113.7 370.4L118.8 368.9L114.9 367.8L109.8 369.1Z" stroke="#513cb1"/><path d="M218.3 371.1L223.4 370.0L219.5 368.6L214.5 369.6Z" stroke="#513cb1"/><path d="M186.4 368.9L191.5 368.6L187.6 365.5L182.6 364.9Z" stroke="none"/><path d="M182.6 364.9L186.4 368.9L191.5 368.6" stroke="#5543c6" fill="none"/><path d="M191.5 368.6L187.6 365.5" stroke="#533fbc"/><path d="M182.6 364.9L187.6 365.5" stroke="#5647d0"/><path d="M154.5 356.4L159.6 352.0L155.7 346.8L150.7 352.3Z" stroke="#596efb"/><path d="M122.6 369.9L127.7 367.3L123.8 366.8L118.8 368.9Z" stroke="#533fbc"/><path d="M227.3 371.4L232.3 370.4L228.5 368.9L223.4 370.0Z" stroke="#513cb1"/><path d="M195.4 370.9L200.4 370.1L196.6 368.2L191.5 368.6Z" stroke="#513cb1"/><path d="M163.5 359.0L168.5 357.5L164.7 350.0L159.6 352.0Z" stroke="none"/><path d="M159.6 352.0L163.5 359.0L168.5 357.5" stroke="#5a64f5" fill="none"/><path d="M168.5 357.5L164.7 350.0" stroke="#5a64f5"/><path d="M159.6 352.0L164.7 350.0" stroke="#5578fe"/><path d="M131.6 368.1L136.6 363.6L132.8 363.5L127.7 367.3Z" stroke="none"/><path d="M127.7 367.3L131.6 368.1L136.6 363.6" stroke="#5543c6" fill="none"/><path d="M136.6 363.6L132.8 363.5" stroke="#594fe1"/><path d="M127.7 367.3L132.8 363.5" stroke="#5543c6"/><path d="M204.3 371.7L209.4 370.7L205.5 369.2L200.4 370.1Z" stroke="#513cb1"/><path d="M172.4 364.5L177.5 364.4L173.6 357.9L168.5 357.5Z" stroke="none"/><path d="M168.5 357.5L172.4 364.5L177.5 364.4" stroke="#594fe1" fill="none"/><path d="M177.5 364.4L173.6 357.9" stroke="#594fe1"/><path d="M168.5 357.5L173.6 357.9" stroke="#5a64f5"/><path d="M140.5 364.8L145.6 358.8L141.7 357.7L136.6 363.6Z" stroke="none"/><path d="M136.6 363.6L140.5 364.8L145.6 358.8" stroke="#594fe1" fill="none"/><path d="M145.6 358.8L141.7 357.7" stroke="#5a64f5"/><path d="M136.6 363.6L141.7 357.7" stroke="#594fe1"/><path d="M108.6 371.6L113.7 370.4L109.8 369.1L104.7 370.2Z" stroke="#513cb1"/><path d="M213.3 372.1L218.3 371.1L214.5 369.6L209.4 370.7Z" stroke="#513cb1"/><path d="M181.4 369.2L186.4 368.9L182.6 364.9L177.5 364.4Z" stroke="none"/><path d="M177.5 364.4L181.4 369.2L186.4 368.9" stroke="#5543c6" fill="none"/><path d="M186.4 368.9L182.6 364.9" stroke="#5543c6"/><path d="M177.5 364.4L182.6 364.9" stroke="#594fe1"/><path d="M149.5 362.0L154.5 356.4L150.7 352.3L145.6 358.8Z" stroke="none"/><path d="M145.6 358.8L149.5 362.0L154.5 356.4" stroke="#5a59ed" fill="none"/><path d="M154.5 356.4L150.7 352.3" stroke="#596efb"/><path d="M145.6 358.8L150.7 352.3" stroke="#5a64f5"/><path d="M117.6 371.7L122.6 369.9L118.8 368.9L113.7 370.4Z" stroke="#513cb1"/><path d="M222.2 372.5L227.3 371.4L223.4 370.0L218.3 371.1Z" stroke="#513cb1"/><path d="M190.3 371.6L195.4 370.9L191.5 368.6L186.4 368.9Z" stroke="none"/><path d="M186.4 368.9L190.3 371.6L195.4 370.9" stroke="#533fbc" fill="none"/><path d="M195.4 370.9L191.5 368.6" stroke="#513cb1"/><path d="M186.4 368.9L191.5 368.6" stroke="#5543c6"/><path d="M158.4 362.3L163.5 359.0L159.6 352.0L154.5 356.4Z" stroke="none"/><path d="M154.5 356.4L158.4 362.3L163.5 359.0" stroke="#5a59ed" fill="none"/><path d="M163.5 359.0L159.6 352.0" stroke="#5a64f5"/><path d="M154.5 356.4L159.6 352.0" stroke="#596efb"/><path d="M126.5 371.0L131.6 368.1L127.7 367.3L122.6 369.9Z" stroke="#533fbc"/><path d="M199.3 372.7L204.3 371.7L200.4 370.1L195.4 370.9Z" stroke="#513cb1"/><path d="M167.4 365.8L172.4 364.5L168.5 357.5L163.5 359.0Z" stroke="none"/><path d="M163.5 359.0L167.4 365.8L172.4 364.5" stroke="#594fe1" fill="none"/><path d="M172.4 364.5L168.5 357.5" stroke="#594fe1"/><path d="M163.5 359.0L168.5 357.5" stroke="#5a64f5"/><path d="M135.5 369.3L140.5 364.8L136.6 363.6L131.6 368.1Z" stroke="none"/><path d="M131.6 368.1L135.5 369.3L140.5 364.8" stroke="#5543c6" fill="none"/><path d="M140.5 364.8L136.6 363.6" stroke="#594fe1"/><path d="M131.6 368.1L136.6 363.6" stroke="#5543c6"/><path d="M208.2 373.2L213.3 372.1L209.4 370.7L204.3 371.7Z" stroke="#513cb1"/><path d="M176.3 369.8L181.4 369.2L177.5 364.4L172.4 364.5Z" stroke="none"/><path d="M172.4 364.5L176.3 369.8L181.4 369.2" stroke="#5543c6" fill="none"/><path d="M181.4 369.2L177.5 364.4" stroke="#5543c6"/><path d="M172.4 364.5L177.5 364.4" stroke="#594fe1"/><path d="M144.4 367.2L149.5 362.0L145.6 358.8L140.5 364.8Z" stroke="none"/><path d="M140.5 364.8L144.4 367.2L149.5 362.0" stroke="#584bd9" fill="none"/><path d="M149.5 362.0L145.6 358.8" stroke="#5a59ed"/><path d="M140.5 364.8L145.6 358.8" stroke="#594fe1"/><path d="M112.5 373.0L117.6 371.7L113.7 370.4L108.6 371.6Z" stroke="#513cb1"/><path d="M217.2 373.5L222.2 372.5L218.3 371.1L213.3 372.1Z" stroke="#513cb1"/><path d="M185.3 372.4L190.3 371.6L186.4 368.9L181.4 369.2Z" stroke="#533fbc"/><path d="M153.4 366.5L158.4 362.3L154.5 356.4L149.5 362.0Z" stroke="#594fe1"/><path d="M121.5 373.0L126.5 371.0L122.6 369.9L117.6 371.7Z" stroke="#513cb1"/><path d="M194.2 373.6L199.3 372.7L195.4 370.9L190.3 371.6Z" stroke="#513cb1"/><path d="M162.3 368.1L167.4 365.8L163.5 359.0L158.4 362.3Z" stroke="none"/><path d="M158.4 362.3L162.3 368.1L167.4 365.8" stroke="#584bd9" fill="none"/><path d="M167.4 365.8L163.5 359.0" stroke="#594fe1"/><path d="M158.4 362.3L163.5 359.0" stroke="#5a59ed"/><path d="M130.4 372.4L135.5 369.3L131.6 368.1L126.5 371.0Z" stroke="#533fbc"/><path d="M203.1 374.2L208.2 373.2L204.3 371.7L199.3 372.7Z" stroke="#513cb1"/><path d="M171.2 371.0L176.3 369.8L172.4 364.5L167.4 365.8Z" stroke="none"/><path d="M167.4 365.8L171.2 371.0L176.3 369.8" stroke="#5543c6" fill="none"/><path d="M176.3 369.8L172.4 364.5" stroke="#5543c6"/><path d="M167.4 365.8L172.4 364.5" stroke="#594fe1"/><path d="M139.3 371.2L144.4 367.2L140.5 364.8L135.5 369.3Z" stroke="none"/><path d="M135.5 369.3L139.3 371.2L144.4 367.2" stroke="#5543c6" fill="none"/><path d="M144.4 367.2L140.5 364.8" stroke="#584bd9"/><path d="M135.5 369.3L140.5 364.8" stroke="#5543c6"/><path d="M212.1 374.6L217.2 373.5L213.3 372.1L208.2 373.2Z" stroke="#513cb1"/><path d="M180.2 373.3L185.3 372.4L181.4 369.2L176.3 369.8Z" stroke="#533fbc"/><path d="M148.3 370.4L153.4 366.5L149.5 362.0L144.4 367.2Z" stroke="none"/><path d="M144.4 367.2L148.3 370.4L153.4 366.5" stroke="#5647d0" fill="none"/><path d="M153.4 366.5L149.5 362.0" stroke="#594fe1"/><path d="M144.4 367.2L149.5 362.0" stroke="#584bd9"/><path d="M116.4 374.4L121.5 373.0L117.6 371.7L112.5 373.0Z" stroke="#513cb1"/><path d="M189.1 374.6L194.2 373.6L190.3 371.6L185.3 372.4Z" stroke="#513cb1"/><path d="M157.2 370.9L162.3 368.1L158.4 362.3L153.4 366.5Z" stroke="none"/><path d="M153.4 366.5L157.2 370.9L162.3 368.1" stroke="#5647d0" fill="none"/><path d="M162.3 368.1L158.4 362.3" stroke="#584bd9"/><path d="M153.4 366.5L158.4 362.3" stroke="#594fe1"/><path d="M125.3 374.4L130.4 372.4L126.5 371.0L121.5 373.0Z" stroke="#513cb1"/><path d="M198.1 375.2L203.1 374.2L199.3 372.7L194.2 373.6Z" stroke="#513cb1"/><path d="M166.2 372.6L171.2 371.0L167.4 365.8L162.3 368.1Z" stroke="none"/><path d="M162.3 368.1L166.2 372.6L171.2 371.0" stroke="#5543c6" fill="none"/><path d="M171.2 371.0L167.4 365.8" stroke="#5543c6"/><path d="M162.3 368.1L167.4 365.8" stroke="#584bd9"/><path d="M134.3 374.0L139.3 371.2L135.5 369.3L130.4 372.4Z" stroke="#533fbc"/><path d="M207.0 375.6L212.1 374.6L208.2 373.2L203.1 374.2Z" stroke="#513cb1"/><path d="M175.1 374.4L180.2 373.3L176.3 369.8L171.2 371.0Z" stroke="#533fbc"/><path d="M143.2 373.6L148.3 370.4L144.4 367.2L139.3 371.2Z" stroke="none"/><path d="M139.3 371.2L143.2 373.6L148.3 370.4" stroke="#533fbc" fill="none"/><path d="M148.3 370.4L144.4 367.2" stroke="#5647d0"/><path d="M139.3 371.2L144.4 367.2" stroke="#5543c6"/><path d="M184.1 375.6L189.1 374.6L185.3 372.4L180.2 373.3Z" stroke="#513cb1"/><path d="M152.2 373.6L157.2 370.9L153.4 366.5L148.3 370.4Z" stroke="#5543c6"/><path d="M120.3 375.8L125.3 374.4L121.5 373.0L116.4 374.4Z" stroke="#513cb1"/><path d="M193.0 376.3L198.1 375.2L194.2 373.6L189.1 374.6Z" stroke="#513cb1"/><path d="M161.1 374.5L166.2 372.6L162.3 368.1L157.2 370.9Z" stroke="none"/><path d="M157.2 370.9L161.1 374.5L166.2 372.6" stroke="#533fbc" fill="none"/><path d="M166.2 372.6L162.3 368.1" stroke="#5543c6"/><path d="M157.2 370.9L162.3 368.1" stroke="#5647d0"/><path d="M129.2 375.9L134.3 374.0L130.4 372.4L125.3 374.4Z" stroke="#513cb1"/><path d="M202.0 376.7L207.0 375.6L203.1 374.2L198.1 375.2Z" stroke="#513cb1"/><path d="M170.1 375.7L175.1 374.4L171.2 371.0L166.2 372.6Z" stroke="#533fbc"/><path d="M138.2 375.8L143.2 373.6L139.3 371.2L134.3 374.0Z" stroke="#533fbc"/><path d="M179.0 376.7L184.1 375.6L180.2 373.3L175.1 374.4Z" stroke="#513cb1"/><path d="M147.1 375.9L152.2 373.6L148.3 370.4L143.2 373.6Z" stroke="#533fbc"/><path d="M187.9 377.3L193.0 376.3L189.1 374.6L184.1 375.6Z" stroke="#513cb1"/><path d="M156.0 376.3L161.1 374.5L157.2 370.9L152.2 373.6Z" stroke="#533fbc"/><path d="M124.1 377.2L129.2 375.9L125.3 374.4L120.3 375.8Z" stroke="#513cb1"/><path d="M196.9 377.8L202.0 376.7L198.1 375.2L193.0 376.3Z" stroke="#513cb1"/><path d="M165.0 377.0L170.1 375.7L166.2 372.6L161.1 374.5Z" stroke="#533fbc"/><path d="M133.1 377.4L138.2 375.8L134.3 374.0L129.2 375.9Z" stroke="#513cb1"/><path d="M173.9 377.8L179.0 376.7L175.1 374.4L170.1 375.7Z" stroke="#513cb1"/><path d="M142.0 377.6L147.1 375.9L143.2 373.6L138.2 375.8Z" stroke="#513cb1"/><path d="M182.9 378.4L187.9 377.3L184.1 375.6L179.0 376.7Z" stroke="#513cb1"/><path d="M151.0 377.9L156.0 376.3L152.2 373.6L147.1 375.9Z" stroke="#513cb1"/><path d="M191.8 378.8L196.9 377.8L193.0 376.3L187.9 377.3Z" stroke="#513cb1"/><path d="M159.9 378.4L165.0 377.0L161.1 374.5L156.0 376.3Z" stroke="#513cb1"/><path d="M128.0 378.7L133.1 377.4L129.2 375.9L124.1 377.2Z" stroke="#513cb1"/><path d="M168.9 378.9L173.9 377.8L170.1 375.7L165.0 377.0Z" stroke="#513cb1"/><path d="M137.0 379.0L142.0 377.6L138.2 375.8L133.1 377.4Z" stroke="#513cb1"/><path d="M177.8 379.4L182.9 378.4L179.0 376.7L173.9 377.8Z" stroke="#513cb1"/><path d="M145.9 379.3L151.0 377.9L147.1 375.9L142.0 377.6Z" stroke="#513cb1"/><path d="M186.8 379.9L191.8 378.8L187.9 377.3L182.9 378.4Z" stroke="#513cb1"/><path d="M154.9 379.7L159.9 378.4L156.0 376.3L151.0 377.9Z" stroke="#513cb1"/><path d="M163.8 380.1L168.9 378.9L165.0 377.0L159.9 378.4Z" stroke="#513cb1"/><path d="M131.9 380.1L137.0 379.0L133.1 377.4L128.0 378.7Z" stroke="#513cb1"/><path d="M172.7 380.5L177.8 379.4L173.9 377.8L168.9 378.9Z" stroke="#513cb1"/><path d="M140.8 380.5L145.9 379.3L142.0 377.6L137.0 379.0Z" stroke="#513cb1"/><path d="M181.7 380.9L186.8 379.9L182.9 378.4L177.8 379.4Z" stroke="#513cb1"/><path d="M149.8 380.8L154.9 379.7L151.0 377.9L145.9 379.3Z" stroke="#513cb1"/><path d="M158.7 381.2L163.8 380.1L159.9 378.4L154.9 379.7Z" stroke="#513cb1"/><path d="M167.7 381.6L172.7 380.5L168.9 378.9L163.8 380.1Z" stroke="#513cb1"/><path d="M135.8 381.6L140.8 380.5L137.0 379.0L131.9 380.1Z" stroke="#513cb1"/><path d="M176.6 382.0L181.7 380.9L177.8 379.4L172.7 380.5Z" stroke="#513cb1"/><path d="M144.7 381.9L149.8 380.8L145.9 379.3L140.8 380.5Z" stroke="#513cb1"/><path d="M153.7 382.3L158.7 381.2L154.9 379.7L149.8 380.8Z" stroke="#513cb1"/><path d="M162.6 382.7L167.7 381.6L163.8 380.1L158.7 381.2Z" stroke="#513cb1"/><path d="M171.6 383.1L176.6 382.0L172.7 380.5L167.7 381.6Z" stroke="#513cb1"/><path d="M139.7 383.0L144.7 381.9L140.8 380.5L135.8 381.6Z" stroke="#513cb1"/><path d="M148.6 383.4L153.7 382.3L149.8 380.8L144.7 381.9Z" stroke="#513cb1"/><path d="M157.6 383.8L162.6 382.7L158.7 381.2L153.7 382.3Z" stroke="#513cb1"/><path d="M166.5 384.1L171.6 383.1L167.7 381.6L162.6 382.7Z" stroke="#513cb1"/><path d="M143.5 384.5L148.6 383.4L144.7 381.9L139.7 383.0Z" stroke="#513cb1"/><path d="M152.5 384.8L157.6 383.8L153.7 382.3L148.6 383.4Z" stroke="#513cb1"/><path d="M161.4 385.2L166.5 384.1L162.6 382.7L157.6 383.8Z" stroke="#513cb1"/><path d="M147.4 385.9L152.5 384.8L148.6 383.4L143.5 384.5Z" stroke="#513cb1"/><path d="M156.4 386.2L161.4 385.2L157.6 383.8L152.5 384.8Z" stroke="#513cb1"/><path d="M151.3 387.3L156.4 386.2L152.5 384.8L147.4 385.9Z" stroke="#513cb1"/></g>
<g font-family="Liberation Serif, DejaVu Serif, serif" font-size="12.0" fill="#262626" stroke="#262626" stroke-width="0.25"><text transform="translate(32.00 347.12) scale(0.920 1)" text-anchor="end">0</text><text transform="translate(32.00 312.02) scale(0.920 1)" text-anchor="end">5</text><text transform="translate(32.00 276.92) scale(0.920 1)" text-anchor="end">10</text><text transform="translate(175.07 396.85) scale(0.920 1)">0</text><text transform="translate(205.84 390.42) scale(0.920 1)">0.2</text><text transform="translate(236.60 383.99) scale(0.920 1)">0.4</text><text transform="translate(267.37 377.56) scale(0.920 1)">0.6</text><text transform="translate(298.13 371.13) scale(0.920 1)">0.8</text><text transform="translate(134.71 397.24) scale(0.920 1)" text-anchor="end">0</text><text transform="translate(108.69 387.72) scale(0.920 1)" text-anchor="end">0.2</text><text transform="translate(82.68 378.19) scale(0.920 1)" text-anchor="end">0.4</text><text transform="translate(56.67 368.66) scale(0.920 1)" text-anchor="end">0.6</text><text transform="translate(160.00 417.40) rotate(-12.20)" font-size="12.2" textLength="155.5" lengthAdjust="spacingAndGlyphs">Green development level(2017)</text><text transform="translate(11.50 371.30) rotate(21.00)" font-size="12.2" textLength="151.5" lengthAdjust="spacingAndGlyphs">Green development level(2021)</text><text transform="translate(15.30 337.50) rotate(-90.00)" font-size="12.2" textLength="71.0" lengthAdjust="spacingAndGlyphs">Kernel density</text></g>
<clipPath id="ca"><rect x="363.8" y="10.0" width="173.70" height="159.40"/></clipPath>
<g clip-path="url(#ca)" fill="none" stroke-width="0.9" stroke-linejoin="round"><path d="M390.21 163.83L398.47 163.77L406.74 161.76L414.96 158.89L415.00 158.88L423.27 155.70L428.87 152.35L431.54 150.99L439.80 146.26L440.60 145.81L448.07 142.60L453.99 139.26L456.33 138.01L463.71 132.72L464.60 131.91L470.48 126.17L472.86 122.89L475.59 119.63L480.23 113.08L481.13 111.87L485.65 106.54L489.40 100.52L489.81 100.00L494.20 93.45L496.65 86.91L497.66 82.24L498.38 80.36L499.50 73.82L499.72 67.27L503.09 60.73L505.93 58.81L508.88 54.19L505.93 48.20L505.58 47.64L497.66 42.11L491.01 41.10L489.40 40.82L488.57 41.10L481.13 44.35L472.86 44.38L464.60 44.00L456.33 44.52L448.07 46.64L446.00 47.64L439.80 49.96L433.63 54.19L431.54 55.65L425.88 60.73L423.27 63.87L420.19 67.27L415.96 73.82L415.00 75.48L410.70 80.36L406.74 84.46L403.26 86.91L398.47 89.73L391.97 93.45L390.21 94.59L381.94 97.44L373.68 98.54L372.31 100.00L369.57 106.54L369.24 113.08L369.93 119.63L371.04 126.17L372.15 132.72L373.34 139.26L373.68 140.51L374.74 145.81L377.20 152.35L381.94 158.63L382.29 158.89L390.21 163.83" stroke="#6452ba"/><path d="M390.21 153.06L398.47 154.65L406.74 153.90L412.29 152.35L415.00 151.73L423.27 148.30L427.66 145.81L431.54 144.06L439.80 139.93L441.05 139.26L448.07 136.04L453.40 132.72L456.33 130.59L461.45 126.17L464.60 122.41L467.04 119.63L471.99 113.08L472.86 112.04L477.69 106.54L481.13 102.14L482.90 100.00L487.19 93.45L489.40 88.05L490.01 86.91L492.12 80.36L492.63 73.82L491.52 67.27L489.40 62.80L488.23 60.73L481.13 54.89L479.29 54.19L472.86 51.97L464.60 50.84L456.33 51.06L448.07 52.98L445.59 54.19L439.80 56.61L434.18 60.73L431.54 62.93L427.22 67.27L423.27 72.99L422.61 73.82L417.98 80.36L415.00 84.68L412.70 86.91L406.74 91.55L403.83 93.45L398.47 97.07L394.29 100.00L390.21 104.51L387.39 106.54L383.11 113.08L381.94 119.09L381.82 119.63L381.60 126.17L381.54 132.72L381.88 139.26L381.94 139.53L383.90 145.81L389.29 152.35L390.21 153.06" stroke="#6c70f3"/><path d="M398.47 146.26L406.74 147.44L415.00 145.98L415.41 145.81L423.27 142.98L431.15 139.26L431.54 139.13L439.80 135.68L445.28 132.72L448.07 131.12L454.71 126.17L456.33 124.49L460.88 119.63L464.60 114.65L465.89 113.08L471.57 106.54L472.86 105.20L477.50 100.00L481.13 94.86L482.15 93.45L485.54 86.91L487.20 80.36L487.32 73.82L485.40 67.27L481.13 61.94L479.48 60.73L472.86 57.37L464.60 55.76L456.33 55.73L448.07 57.37L441.32 60.73L439.80 61.47L432.71 67.27L431.54 68.49L427.04 73.82L423.27 80.19L423.14 80.36L418.26 86.91L415.00 90.35L411.04 93.45L406.74 96.44L401.73 100.00L398.47 103.31L395.21 106.54L392.16 113.08L391.42 119.63L391.55 126.17L391.59 132.72L392.14 139.26L397.51 145.81L398.47 146.26" stroke="#5b96fd"/><path d="M406.74 140.52L415.00 140.77L419.82 139.26L423.27 138.49L431.54 135.59L437.78 132.72L439.80 131.84L448.07 126.87L449.00 126.17L455.52 119.63L456.33 118.52L460.64 113.08L464.60 108.39L466.25 106.54L472.57 100.00L472.86 99.69L477.86 93.45L481.13 87.20L481.29 86.91L483.12 80.36L482.85 73.82L481.13 69.82L479.63 67.27L472.86 62.18L468.06 60.73L464.60 59.82L456.33 59.51L450.78 60.73L448.07 61.26L439.80 65.38L437.49 67.27L431.54 73.45L431.22 73.82L426.78 80.36L423.27 86.41L422.89 86.91L416.73 93.45L415.00 94.80L407.68 100.00L406.74 100.78L400.66 106.54L398.47 111.38L397.56 113.08L396.97 119.63L398.06 126.17L398.47 127.93L399.73 132.72L404.39 139.26L406.74 140.52" stroke="#4cb7e8"/><path d="M415.00 135.82L423.27 134.77L429.42 132.72L431.54 132.14L439.80 128.50L443.55 126.17L448.07 122.39L450.90 119.63L455.67 113.08L456.33 112.16L460.97 106.54L464.60 103.17L467.74 100.00L472.86 94.58L473.77 93.45L477.51 86.91L479.14 80.36L478.30 73.82L473.45 67.27L472.86 66.83L464.60 63.60L456.33 62.97L448.07 64.58L443.01 67.27L439.80 69.23L435.11 73.82L431.54 78.68L430.38 80.36L426.65 86.91L423.27 91.51L421.44 93.45L415.00 98.47L412.85 100.00L406.74 105.09L405.21 106.54L401.76 113.08L401.44 119.63L403.16 126.17L406.74 132.36L407.23 132.72L415.00 135.82" stroke="#47ccc4"/><path d="M415.00 131.03L423.27 131.20L431.54 129.07L437.79 126.17L439.80 125.01L446.28 119.63L448.07 117.19L451.07 113.08L455.66 106.54L456.33 105.86L462.51 100.00L464.60 98.33L469.31 93.45L472.86 88.43L473.75 86.91L475.25 80.36L473.72 73.82L472.86 72.70L464.60 67.31L464.38 67.27L456.33 66.29L451.26 67.27L448.07 67.93L439.80 73.00L438.97 73.82L434.04 80.36L431.54 84.77L430.32 86.91L426.06 93.45L423.27 95.93L418.04 100.00L415.00 102.13L409.68 106.54L406.74 111.24L405.71 113.08L405.52 119.63L406.74 122.97L408.52 126.17L415.00 131.03" stroke="#78d695"/><path d="M415.00 126.35L423.27 127.81L430.72 126.17L431.54 125.98L439.80 121.18L441.67 119.63L446.39 113.08L448.07 109.85L450.05 106.54L456.33 100.21L456.56 100.00L464.60 93.59L464.73 93.45L469.34 86.91L470.88 80.36L467.64 73.82L464.60 71.73L456.33 69.92L448.07 71.46L444.27 73.82L439.80 77.63L437.73 80.36L434.41 86.91L431.54 91.95L430.62 93.45L423.27 99.97L423.24 100.00L415.00 105.79L414.10 106.54L409.81 113.08L409.94 119.63L414.77 126.17L415.00 126.35" stroke="#d1ce55"/><path d="M415.00 120.31L423.27 123.98L431.54 122.28L436.06 119.63L439.80 115.53L441.53 113.08L443.63 106.54L448.07 100.18L448.23 100.00L456.33 94.71L457.91 93.45L464.60 87.08L464.72 86.91L465.74 80.36L464.60 78.41L456.84 73.82L456.33 73.69L455.55 73.82L448.07 75.61L442.55 80.36L439.80 84.50L438.70 86.91L436.90 93.45L431.54 98.97L430.46 100.00L423.27 104.07L419.70 106.54L415.00 111.52L413.96 113.08L414.50 119.63L415.00 120.31" stroke="#fed45c"/><path d="M423.27 119.72L423.85 119.63L431.54 117.14L434.98 113.08L432.91 106.54L431.54 105.93L430.03 106.54L423.27 109.58L420.14 113.08L423.08 119.63L423.27 119.72" stroke="#fafc43"/><path d="M448.07 89.60L456.33 87.28L456.71 86.91L456.69 80.36L456.33 80.14L454.45 80.36L448.07 82.93L446.44 86.91L448.07 89.60" stroke="#fafc43"/></g>
<path d="M363.80 169.40L537.50 10.00" stroke="#4499da" stroke-width="1.0"/>
<rect x="363.8" y="10.0" width="173.70" height="159.40" fill="none" stroke="#9a9a9a" stroke-width="1.0"/>
<path d="M407.23 169.40v-1.6M407.23 10.00v1.6M363.80 129.55h1.6M537.50 129.55h-1.6M450.65 169.40v-1.6M450.65 10.00v1.6M363.80 89.70h1.6M537.50 89.70h-1.6M494.07 169.40v-1.6M494.07 10.00v1.6M363.80 49.85h1.6M537.50 49.85h-1.6" stroke="#555" stroke-width="0.8"/>
<g font-family="Liberation Serif, DejaVu Serif, serif" font-size="12.0" fill="#262626" stroke="#262626" stroke-width="0.25"><text transform="translate(363.80 183.92) scale(0.920 1)" text-anchor="middle">0</text><text transform="translate(359.90 171.92) scale(0.920 1)" text-anchor="end">0</text><text transform="translate(407.23 183.92) scale(0.920 1)" text-anchor="middle">0.2</text><text transform="translate(359.90 132.07) scale(0.920 1)" text-anchor="end">0.2</text><text transform="translate(450.65 183.92) scale(0.920 1)" text-anchor="middle">0.4</text><text transform="translate(359.90 92.22) scale(0.920 1)" text-anchor="end">0.4</text><text transform="translate(494.07 183.92) scale(0.920 1)" text-anchor="middle">0.6</text><text transform="translate(359.90 52.37) scale(0.920 1)" text-anchor="end">0.6</text><text transform="translate(537.50 183.92) scale(0.920 1)" text-anchor="middle">0.8</text><text transform="translate(359.90 12.52) scale(0.920 1)" text-anchor="end">0.8</text><text transform="translate(373.20 203.30)" font-size="12.2" textLength="154.4" lengthAdjust="spacingAndGlyphs">Green development level(2013)</text><text transform="translate(337.90 167.90) rotate(-90.00)" font-size="12.2" textLength="156.0" lengthAdjust="spacingAndGlyphs">Green development level(2017)</text></g>
<clipPath id="cb"><rect x="366.0" y="235.8" width="173.80" height="152.50"/></clipPath>
<g clip-path="url(#cb)" fill="none" stroke-width="0.9" stroke-linejoin="round"><path d="M384.81 363.08L391.97 366.37L399.12 366.96L406.27 365.52L412.83 362.41L413.43 362.13L420.58 358.20L423.20 356.73L427.74 355.09L434.89 352.24L437.33 351.04L442.04 349.27L448.98 345.36L449.20 345.24L456.35 340.72L457.79 339.67L463.51 335.28L465.10 333.99L470.66 329.11L471.60 328.30L477.40 322.61L477.82 322.13L482.98 316.93L484.97 314.11L487.69 311.24L491.43 305.56L492.12 304.07L494.94 299.87L497.42 294.18L498.96 288.50L499.28 285.49L499.63 282.81L499.28 280.49L498.77 277.13L495.16 271.44L492.12 269.05L484.97 267.07L477.82 267.22L470.66 268.20L463.51 269.76L458.30 271.44L456.35 271.99L449.20 275.01L445.75 277.13L442.04 280.51L439.84 282.81L435.40 288.50L434.89 288.93L428.50 294.18L427.74 294.65L420.58 298.45L418.10 299.87L413.43 302.11L408.09 305.56L406.27 306.85L401.18 311.24L399.12 313.94L396.66 316.93L393.84 322.61L392.27 328.30L391.97 329.73L390.38 333.99L387.72 339.67L384.81 344.20L383.88 345.36L380.79 351.04L380.50 356.73L383.98 362.41L384.81 363.08" stroke="#6452ba"/><path d="M406.27 350.10L413.43 350.18L420.58 349.39L427.74 348.02L434.89 345.66L435.54 345.36L442.04 342.64L446.95 339.67L449.20 338.16L454.81 333.99L456.35 332.68L461.68 328.30L463.51 326.73L468.10 322.61L470.66 320.13L473.76 316.93L477.82 311.48L478.02 311.24L481.72 305.56L483.97 299.87L484.97 295.72L485.52 294.18L486.32 288.50L485.39 282.81L484.97 282.19L478.66 277.13L477.82 276.82L470.66 276.18L464.67 277.13L463.51 277.30L456.35 280.03L452.21 282.81L449.20 284.92L445.41 288.50L442.04 291.04L438.27 294.18L434.89 296.51L429.71 299.87L427.74 301.01L420.58 304.76L419.19 305.56L413.43 308.85L410.20 311.24L406.27 315.15L404.65 316.93L401.41 322.61L400.00 328.30L399.66 333.99L400.01 339.67L401.16 345.36L406.27 350.10" stroke="#6887fe"/><path d="M413.43 342.35L420.58 343.72L427.74 343.15L434.89 341.10L437.84 339.67L442.04 337.43L447.00 333.99L449.20 332.01L453.59 328.30L456.35 325.67L459.93 322.61L463.51 319.67L466.40 316.93L470.66 312.45L471.67 311.24L475.21 305.56L477.23 299.87L477.82 294.70L477.89 294.18L477.82 293.75L476.42 288.50L470.66 284.01L463.51 284.16L456.35 286.99L454.26 288.50L449.20 291.41L445.56 294.18L442.04 296.59L437.37 299.87L434.89 301.62L428.11 305.56L427.74 305.76L420.58 309.44L417.69 311.24L413.43 314.39L410.71 316.93L407.10 322.61L406.27 326.09L405.67 328.30L406.27 333.99L406.27 333.99L409.64 339.67L413.43 342.35" stroke="#4abae6"/><path d="M413.43 335.10L420.58 338.89L427.74 338.93L434.89 336.76L439.79 333.99L442.04 332.18L446.39 328.30L449.20 324.75L451.37 322.61L456.35 318.14L457.82 316.93L463.51 312.72L464.94 311.24L469.28 305.56L470.66 301.87L471.32 299.87L470.66 295.20L470.33 294.18L463.51 290.81L456.35 292.48L453.40 294.18L449.20 296.48L444.21 299.87L442.04 301.64L436.32 305.56L434.89 306.51L427.74 310.14L425.63 311.24L420.58 313.98L416.65 316.93L413.43 320.68L412.07 322.61L410.80 328.30L412.49 333.99L413.43 335.10" stroke="#6ed69d"/><path d="M427.74 334.70L430.07 333.99L434.89 331.88L439.36 328.30L442.04 324.01L443.00 322.61L444.87 316.93L449.20 312.55L451.84 311.24L456.35 309.53L461.43 305.56L463.51 300.33L463.61 299.87L463.51 299.73L456.35 298.48L453.40 299.87L449.20 303.10L446.26 305.56L442.04 310.17L439.85 311.24L434.89 312.69L427.74 314.99L424.00 316.93L420.58 319.28L417.65 322.61L416.49 328.30L420.58 333.87L421.10 333.99L427.74 334.70" stroke="#ebc957"/><path d="M427.74 328.51L428.26 328.30L430.50 322.61L427.74 321.92L426.69 322.61L427.15 328.30L427.74 328.51" stroke="#fafc43"/></g>
<path d="M366.00 388.30L539.80 235.80" stroke="#4499da" stroke-width="1.0"/>
<rect x="366.0" y="235.8" width="173.80" height="152.50" fill="none" stroke="#9a9a9a" stroke-width="1.0"/>
<path d="M409.45 388.30v-1.6M409.45 235.80v1.6M366.00 350.18h1.6M539.80 350.18h-1.6M452.90 388.30v-1.6M452.90 235.80v1.6M366.00 312.05h1.6M539.80 312.05h-1.6M496.35 388.30v-1.6M496.35 235.80v1.6M366.00 273.93h1.6M539.80 273.93h-1.6" stroke="#555" stroke-width="0.8"/>
<g font-family="Liberation Serif, DejaVu Serif, serif" font-size="12.0" fill="#262626" stroke="#262626" stroke-width="0.25"><text transform="translate(366.00 403.12) scale(0.920 1)" text-anchor="middle">0</text><text transform="translate(361.90 391.22) scale(0.920 1)" text-anchor="end">0</text><text transform="translate(409.45 403.12) scale(0.920 1)" text-anchor="middle">0.2</text><text transform="translate(361.90 353.09) scale(0.920 1)" text-anchor="end">0.2</text><text transform="translate(452.90 403.12) scale(0.920 1)" text-anchor="middle">0.4</text><text transform="translate(361.90 314.97) scale(0.920 1)" text-anchor="end">0.4</text><text transform="translate(496.35 403.12) scale(0.920 1)" text-anchor="middle">0.6</text><text transform="translate(361.90 276.84) scale(0.920 1)" text-anchor="end">0.6</text><text transform="translate(539.80 403.12) scale(0.920 1)" text-anchor="middle">0.8</text><text transform="translate(361.90 238.72) scale(0.920 1)" text-anchor="end">0.8</text><text transform="translate(375.50 420.30)" font-size="12.2" textLength="154.7" lengthAdjust="spacingAndGlyphs">Green development level(2017)</text><text transform="translate(338.50 390.00) rotate(-90.00)" font-size="12.2" textLength="156.4" lengthAdjust="spacingAndGlyphs">Green development level(2021)</text></g>
<g font-family="Liberation Serif, DejaVu Serif, serif" font-size="12.0" fill="#262626" stroke="#262626" stroke-width="0.25"><text transform="translate(278.00 225.70)" font-size="12.2">(a)</text><text transform="translate(278.50 425.50)" font-size="12.2">(b)</text></g>
</svg>
</body></html>
